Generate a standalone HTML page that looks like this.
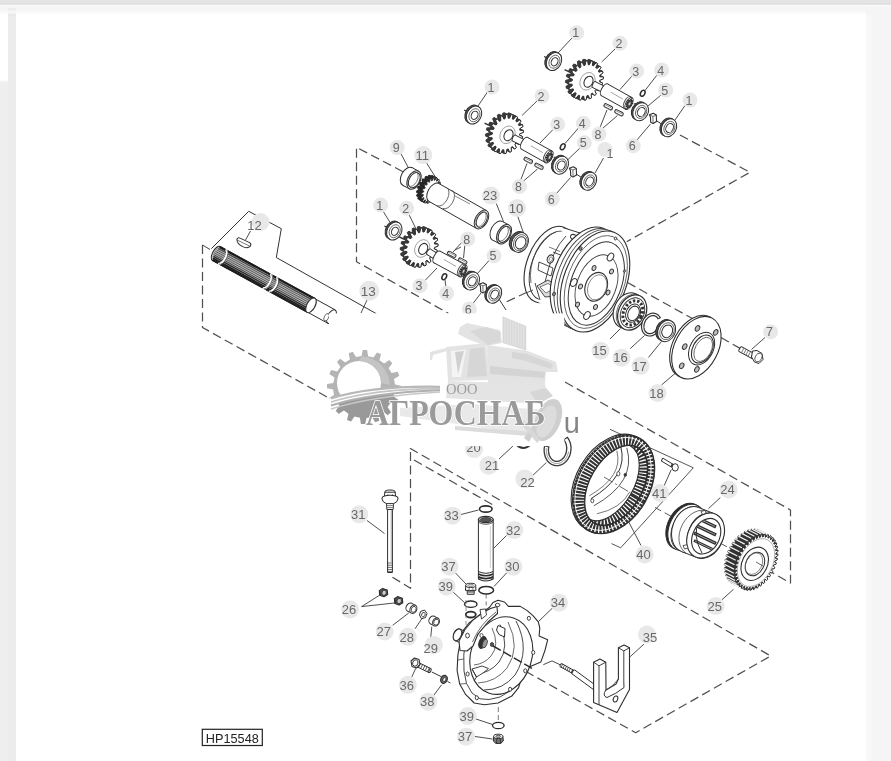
<!DOCTYPE html><html><head><meta charset="utf-8"><title>Diagram</title><style>html,body{margin:0;padding:0;background:#fff;overflow:hidden}svg{display:block;position:absolute;left:0;top:0}</style></head><body><svg width="891" height="761" viewBox="0 0 891 761"><rect x="0" y="0" width="891" height="761" fill="#fff"/>
<defs><linearGradient id="tg" x1="0" y1="0" x2="0" y2="1"><stop offset="0" stop-color="#f5f5f5"/><stop offset="0.6" stop-color="#f7f7f7"/><stop offset="1" stop-color="#ffffff"/></linearGradient></defs>
<rect x="866" y="5" width="25" height="756" fill="#f5f5f5"/>
<rect x="866" y="14" width="5.5" height="747" fill="#f8f8f8"/>
<rect x="0" y="82" width="8" height="679" fill="#eeeeee"/>
<rect x="0" y="80.5" width="8" height="1.5" fill="#f6f6f6"/>
<rect x="0" y="6" width="891" height="8.5" fill="url(#tg)"/>
<rect x="866" y="6" width="25" height="9" fill="#f5f5f5"/>
<rect x="8" y="8" width="8" height="753" fill="#ececec"/>
<rect x="8" y="10.5" width="8" height="3" fill="#f6f6f6"/>
<rect x="8" y="14" width="8" height="2" fill="#e8e8e8"/>
<rect x="0" y="4.6" width="891" height="1.5" fill="#fbfbfb"/>
<rect x="0" y="0" width="891" height="4.6" fill="#e4e4e4"/>
<rect x="0" y="3.4" width="891" height="1.2" fill="#dedede"/>
<defs><filter id="bl" x="0" y="0" width="891" height="761" filterUnits="userSpaceOnUse"><feGaussianBlur stdDeviation="0.45"/></filter></defs>
<g font-family="Liberation Sans, sans-serif" filter="url(#bl)">
<path d="M680 135 L750 172.3 L626.7 241.7" fill="none" stroke="#505050" stroke-width="1.25" stroke-linejoin="round" stroke-dasharray="9 4.5" />
<path d="M403 171.7 L356.5 147.3 L356.5 261.7 L448.3 313.3" fill="none" stroke="#505050" stroke-width="1.25" stroke-linejoin="round" stroke-dasharray="9 4.5" />
<path d="M506.7 301.7 L527 292.3" fill="none" stroke="#505050" stroke-width="1.25" stroke-linejoin="round" stroke-dasharray="9 4.5" />
<path d="M627.5 282.5 L694 319.5" fill="none" stroke="#505050" stroke-width="1.25" stroke-linejoin="round" stroke-dasharray="9 4.5" />
<path d="M721 337.5 L742 349.5" fill="none" stroke="#505050" stroke-width="1.25" stroke-linejoin="round" stroke-dasharray="9 4.5" />
<path d="M202.5 245 L202.5 327.5 L327 397" fill="none" stroke="#505050" stroke-width="1.25" stroke-linejoin="round" stroke-dasharray="9 4.5" />
<path d="M565 382 L790.5 510 L790.5 583 L771 572" fill="none" stroke="#505050" stroke-width="1.25" stroke-linejoin="round" stroke-dasharray="9 4.5" />
<path d="M410 448.3 L770.7 656 L635.7 732.7 L523.3 670" fill="none" stroke="#505050" stroke-width="1.25" stroke-linejoin="round" stroke-dasharray="9 4.5" />
<path d="M410.5 452 L410.5 588.3 L391.7 576.7" fill="none" stroke="#505050" stroke-width="1.25" stroke-linejoin="round" stroke-dasharray="9 4.5" />
<path d="M414 460 L494 505.5" fill="none" stroke="#505050" stroke-width="1.25" stroke-linejoin="round" stroke-dasharray="9 4.5" />
<line x1="544.1" y1="56.5" x2="549.5" y2="59.2" stroke="#2e2e2e" stroke-width="1.2" />
<line x1="564.6" y1="69.6" x2="571.7" y2="73.2" stroke="#2e2e2e" stroke-width="1.3" />
<ellipse rx="7.2" ry="9.5" transform="translate(552.5 60.7) rotate(27)" fill="#555" stroke="#2e2e2e" stroke-width="1" />
<ellipse rx="7.2" ry="9.5" transform="translate(554 61.5) rotate(27)" fill="#fff" stroke="#2e2e2e" stroke-width="1" />
<ellipse rx="5.2" ry="6.8" transform="translate(554.4 61.7) rotate(27)" fill="none" stroke="#555" stroke-width="0.8" />
<ellipse rx="3.2" ry="4.3" transform="translate(554.6 61.8) rotate(27)" fill="#fff" stroke="#2e2e2e" stroke-width="1" />
<path d="M594.6 84.9 L596.9 87.4 L595.8 89.2 L592.6 87.9 L591.7 89.1 L593.1 92.5 L591.6 93.9 L589.1 91.5 L587.9 92.3 L588.3 96.2 L586.5 97.1 L585 93.8 L583.7 94.2 L582.9 98.3 L581.1 98.6 L580.6 94.7 L579.3 94.6 L577.5 98.4 L575.8 98 L576.5 94 L575.3 93.5 L572.7 96.7 L571.2 95.7 L573 91.8 L572.1 90.9 L568.8 93.2 L567.8 91.6 L570.4 88.4 L569.9 87.2 L566.3 88.3 L565.8 86.4 L569 84 L568.9 82.6 L565.4 82.5 L565.5 80.4 L569 79.2 L569.3 77.7 L566.2 76.3 L566.9 74.2 L570.4 74.3 L571 72.9 L568.6 70.4 L569.8 68.5 L572.9 69.8 L573.9 68.7 L572.5 65.3 L574 63.8 L576.5 66.3 L577.7 65.4 L577.3 61.5 L579.1 60.6 L580.6 63.9 L581.9 63.5 L582.7 59.5 L584.5 59.2 L585 63.1 L586.2 63.1 L588 59.3 L589.8 59.7 L589.1 63.8 L590.2 64.3 L592.9 61.1 L594.4 62.1 L592.6 65.9 L593.5 66.8 L596.8 64.6 L597.8 66.1 L595.2 69.3 L595.7 70.6 L599.3 69.5 L599.8 71.4 L596.5 73.7 L596.7 75.1 L600.2 75.3 L600.1 77.4 L596.5 78.6 L596.3 80 L599.4 81.5 L598.7 83.5 L595.2 83.5 Z" fill="#3a3a3a" stroke="#3a3a3a" stroke-width="0.6" stroke-linejoin="round" />
<path d="M595 85.1 L597.4 87.6 L596.2 89.5 L593.1 88.1 L592.1 89.3 L593.6 92.7 L592 94.1 L589.6 91.7 L588.4 92.5 L588.7 96.4 L586.9 97.4 L585.4 94 L584.1 94.4 L583.4 98.5 L581.5 98.8 L581.1 94.9 L579.8 94.8 L578 98.7 L576.2 98.3 L576.9 94.2 L575.8 93.7 L573.1 96.9 L571.7 95.9 L573.4 92 L572.5 91.1 L569.2 93.4 L568.2 91.9 L570.8 88.6 L570.3 87.4 L566.7 88.5 L566.2 86.6 L569.5 84.3 L569.3 82.8 L565.8 82.7 L565.9 80.6 L569.5 79.4 L569.8 77.9 L566.7 76.5 L567.3 74.4 L570.8 74.5 L571.5 73.1 L569.1 70.6 L570.2 68.7 L573.4 70.1 L574.4 68.9 L572.9 65.5 L574.5 64 L576.9 66.5 L578.1 65.7 L577.7 61.7 L579.5 60.8 L581 64.2 L582.3 63.7 L583.1 59.7 L585 59.4 L585.4 63.3 L586.7 63.3 L588.5 59.5 L590.2 59.9 L589.5 64 L590.7 64.5 L593.4 61.3 L594.8 62.3 L593.1 66.1 L594 67 L597.2 64.8 L598.3 66.3 L595.6 69.6 L596.2 70.8 L599.7 69.7 L600.2 71.6 L597 73.9 L597.1 75.4 L600.6 75.5 L600.6 77.6 L597 78.8 L596.7 80.3 L599.8 81.7 L599.2 83.8 L595.6 83.7 Z" fill="#3a3a3a" stroke="#3a3a3a" stroke-width="0.6" stroke-linejoin="round" />
<path d="M595.4 85.3 L597.8 87.8 L596.7 89.7 L593.5 88.4 L592.6 89.5 L594 92.9 L592.5 94.4 L590 91.9 L588.8 92.8 L589.2 96.7 L587.4 97.6 L585.9 94.2 L584.6 94.7 L583.8 98.7 L582 99 L581.5 95.1 L580.2 95.1 L578.4 98.9 L576.7 98.5 L577.4 94.4 L576.2 93.9 L573.6 97.1 L572.1 96.1 L573.9 92.3 L573 91.4 L569.7 93.6 L568.7 92.1 L571.3 88.8 L570.7 87.6 L567.2 88.7 L566.7 86.8 L569.9 84.5 L569.8 83.1 L566.3 82.9 L566.4 80.8 L569.9 79.6 L570.2 78.1 L567.1 76.7 L567.8 74.7 L571.3 74.7 L571.9 73.3 L569.5 70.8 L570.7 69 L573.8 70.3 L574.8 69.1 L573.4 65.7 L574.9 64.3 L577.3 66.7 L578.5 65.9 L578.2 62 L580 61.1 L581.5 64.4 L582.8 64 L583.6 59.9 L585.4 59.6 L585.8 63.5 L587.1 63.6 L588.9 59.7 L590.7 60.1 L590 64.2 L591.1 64.7 L593.8 61.5 L595.3 62.5 L593.5 66.4 L594.4 67.3 L597.7 65 L598.7 66.5 L596.1 69.8 L596.6 71 L600.2 69.9 L600.7 71.8 L597.4 74.2 L597.6 75.6 L601.1 75.7 L601 77.8 L597.4 79 L597.2 80.5 L600.3 81.9 L599.6 84 L596.1 83.9 Z" fill="#3a3a3a" stroke="#3a3a3a" stroke-width="0.6" stroke-linejoin="round" />
<path d="M595.9 85.5 L598.3 88.1 L597.1 89.9 L594 88.6 L593 89.8 L594.5 93.1 L592.9 94.6 L590.5 92.1 L589.3 93 L589.6 96.9 L587.8 97.8 L586.3 94.5 L585 94.9 L584.3 99 L582.4 99.2 L582 95.3 L580.7 95.3 L578.9 99.1 L577.1 98.7 L577.8 94.7 L576.7 94.2 L574 97.4 L572.6 96.4 L574.3 92.5 L573.4 91.6 L570.1 93.9 L569.1 92.3 L571.7 89.1 L571.2 87.8 L567.6 89 L567.1 87.1 L570.4 84.7 L570.2 83.3 L566.7 83.1 L566.8 81 L570.4 79.9 L570.6 78.4 L567.5 77 L568.2 74.9 L571.7 75 L572.4 73.6 L570 71 L571.1 69.2 L574.3 70.5 L575.2 69.3 L573.8 65.9 L575.3 64.5 L577.8 67 L579 66.1 L578.6 62.2 L580.4 61.3 L581.9 64.6 L583.2 64.2 L584 60.1 L585.9 59.9 L586.3 63.8 L587.6 63.8 L589.4 60 L591.1 60.4 L590.4 64.4 L591.6 64.9 L594.3 61.7 L595.7 62.7 L594 66.6 L594.8 67.5 L598.1 65.2 L599.2 66.8 L596.5 70 L597.1 71.2 L600.6 70.1 L601.1 72 L597.9 74.4 L598 75.8 L601.5 76 L601.4 78.1 L597.9 79.2 L597.6 80.7 L600.7 82.1 L600.1 84.2 L596.5 84.1 Z" fill="#3a3a3a" stroke="#3a3a3a" stroke-width="0.6" stroke-linejoin="round" />
<path d="M596.3 85.8 L598.7 88.3 L597.6 90.1 L594.4 88.8 L593.5 90 L594.9 93.4 L593.4 94.8 L590.9 92.4 L589.7 93.2 L590.1 97.1 L588.3 98 L586.8 94.7 L585.5 95.1 L584.7 99.2 L582.8 99.5 L582.4 95.6 L581.1 95.5 L579.3 99.3 L577.6 99 L578.3 94.9 L577.1 94.4 L574.5 97.6 L573 96.6 L574.7 92.7 L573.9 91.8 L570.6 94.1 L569.6 92.6 L572.2 89.3 L571.6 88.1 L568.1 89.2 L567.6 87.3 L570.8 84.9 L570.7 83.5 L567.2 83.4 L567.3 81.3 L570.8 80.1 L571.1 78.6 L568 77.2 L568.6 75.1 L572.2 75.2 L572.8 73.8 L570.4 71.3 L571.6 69.4 L574.7 70.7 L575.7 69.6 L574.2 66.2 L575.8 64.7 L578.2 67.2 L579.4 66.3 L579.1 62.4 L580.9 61.5 L582.4 64.8 L583.7 64.4 L584.4 60.4 L586.3 60.1 L586.7 64 L588 64 L589.8 60.2 L591.6 60.6 L590.9 64.7 L592 65.2 L594.7 62 L596.1 63 L594.4 66.8 L595.3 67.7 L598.6 65.5 L599.6 67 L597 70.2 L597.5 71.5 L601.1 70.4 L601.6 72.3 L598.3 74.6 L598.5 76 L602 76.2 L601.9 78.3 L598.3 79.5 L598.1 81 L601.2 82.4 L600.5 84.4 L597 84.4 Z" fill="#3a3a3a" stroke="#3a3a3a" stroke-width="0.6" stroke-linejoin="round" />
<path d="M596.8 86 L599.2 88.5 L598 90.4 L594.9 89 L593.9 90.2 L595.4 93.6 L593.8 95 L591.4 92.6 L590.2 93.4 L590.5 97.4 L588.7 98.3 L587.2 94.9 L585.9 95.3 L585.1 99.4 L583.3 99.7 L582.9 95.8 L581.6 95.7 L579.8 99.6 L578 99.2 L578.7 95.1 L577.6 94.6 L574.9 97.8 L573.4 96.8 L575.2 93 L574.3 92 L571 94.3 L570 92.8 L572.6 89.5 L572.1 88.3 L568.5 89.4 L568 87.5 L571.3 85.2 L571.1 83.7 L567.6 83.6 L567.7 81.5 L571.3 80.3 L571.5 78.8 L568.4 77.4 L569.1 75.3 L572.6 75.4 L573.3 74 L570.9 71.5 L572 69.6 L575.2 71 L576.1 69.8 L574.7 66.4 L576.2 65 L578.7 67.4 L579.9 66.6 L579.5 62.6 L581.3 61.7 L582.8 65.1 L584.1 64.7 L584.9 60.6 L586.7 60.3 L587.2 64.2 L588.5 64.3 L590.3 60.4 L592 60.8 L591.3 64.9 L592.5 65.4 L595.1 62.2 L596.6 63.2 L594.9 67 L595.7 68 L599 65.7 L600 67.2 L597.4 70.5 L598 71.7 L601.5 70.6 L602 72.5 L598.8 74.8 L598.9 76.3 L602.4 76.4 L602.3 78.5 L598.8 79.7 L598.5 81.2 L601.6 82.6 L601 84.7 L597.4 84.6 Z" fill="#3a3a3a" stroke="#3a3a3a" stroke-width="0.6" stroke-linejoin="round" />
<path d="M597.2 86.2 L599.6 88.7 L598.5 90.6 L595.3 89.3 L594.4 90.4 L595.8 93.8 L594.2 95.3 L591.8 92.8 L590.6 93.7 L591 97.6 L589.2 98.5 L587.7 95.2 L586.4 95.6 L585.6 99.6 L583.7 99.9 L583.3 96 L582 96 L580.2 99.8 L578.5 99.4 L579.2 95.3 L578 94.8 L575.3 98 L573.9 97 L575.6 93.2 L574.7 92.3 L571.5 94.5 L570.4 93 L573.1 89.8 L572.5 88.5 L569 89.6 L568.5 87.7 L571.7 85.4 L571.6 84 L568.1 83.8 L568.2 81.7 L571.7 80.5 L572 79 L568.9 77.6 L569.5 75.6 L573.1 75.6 L573.7 74.2 L571.3 71.7 L572.5 69.9 L575.6 71.2 L576.6 70 L575.1 66.6 L576.7 65.2 L579.1 67.6 L580.3 66.8 L580 62.9 L581.8 62 L583.3 65.3 L584.6 64.9 L585.3 60.8 L587.2 60.5 L587.6 64.4 L588.9 64.5 L590.7 60.7 L592.5 61 L591.8 65.1 L592.9 65.6 L595.6 62.4 L597 63.4 L595.3 67.3 L596.2 68.2 L599.5 65.9 L600.5 67.4 L597.9 70.7 L598.4 71.9 L602 70.8 L602.5 72.7 L599.2 75.1 L599.4 76.5 L602.9 76.6 L602.8 78.7 L599.2 79.9 L599 81.4 L602.1 82.8 L601.4 84.9 L597.9 84.8 Z" fill="#3a3a3a" stroke="#3a3a3a" stroke-width="0.6" stroke-linejoin="round" />
<path d="M597.7 86.4 L600.1 89 L598.9 90.8 L595.8 89.5 L594.8 90.7 L596.2 94.1 L594.7 95.5 L592.2 93.1 L591 93.9 L591.4 97.8 L589.6 98.7 L588.1 95.4 L586.8 95.8 L586 99.9 L584.2 100.1 L583.7 96.2 L582.5 96.2 L580.7 100 L578.9 99.6 L579.6 95.6 L578.5 95.1 L575.8 98.3 L574.3 97.3 L576.1 93.4 L575.2 92.5 L571.9 94.8 L570.9 93.2 L573.5 90 L573 88.8 L569.4 89.9 L568.9 88 L572.2 85.6 L572 84.2 L568.5 84 L568.6 81.9 L572.2 80.8 L572.4 79.3 L569.3 77.9 L570 75.8 L573.5 75.9 L574.1 74.5 L571.8 71.9 L572.9 70.1 L576.1 71.4 L577 70.2 L575.6 66.9 L577.1 65.4 L579.6 67.9 L580.8 67 L580.4 63.1 L582.2 62.2 L583.7 65.5 L585 65.1 L585.8 61 L587.6 60.8 L588.1 64.7 L589.4 64.7 L591.2 60.9 L592.9 61.3 L592.2 65.3 L593.4 65.8 L596 62.6 L597.5 63.7 L595.7 67.5 L596.6 68.4 L599.9 66.1 L600.9 67.7 L598.3 70.9 L598.8 72.2 L602.4 71 L602.9 73 L599.7 75.3 L599.8 76.7 L603.3 76.9 L603.2 79 L599.7 80.2 L599.4 81.6 L602.5 83 L601.8 85.1 L598.3 85 Z" fill="#3a3a3a" stroke="#3a3a3a" stroke-width="0.6" stroke-linejoin="round" />
<path d="M597.8 86.5 L600.2 89 L599 90.9 L595.9 89.5 L594.9 90.7 L596.3 94.1 L594.8 95.5 L592.3 93.1 L591.1 93.9 L591.5 97.9 L589.7 98.8 L588.2 95.4 L586.9 95.8 L586.1 99.9 L584.3 100.2 L583.8 96.3 L582.6 96.2 L580.7 100.1 L579 99.7 L579.7 95.6 L578.6 95.1 L575.9 98.3 L574.4 97.3 L576.2 93.5 L575.3 92.5 L572 94.8 L571 93.3 L573.6 90 L573.1 88.8 L569.5 89.9 L569 88 L572.3 85.7 L572.1 84.2 L568.6 84.1 L568.7 82 L572.2 80.8 L572.5 79.3 L569.4 77.9 L570.1 75.8 L573.6 75.9 L574.2 74.5 L571.8 72 L573 70.1 L576.1 71.5 L577.1 70.3 L575.7 66.9 L577.2 65.5 L579.7 67.9 L580.9 67.1 L580.5 63.1 L582.3 62.2 L583.8 65.6 L585.1 65.2 L585.9 61.1 L587.7 60.8 L588.2 64.7 L589.4 64.8 L591.3 60.9 L593 61.3 L592.3 65.4 L593.4 65.9 L596.1 62.7 L597.6 63.7 L595.8 67.5 L596.7 68.5 L600 66.2 L601 67.7 L598.4 71 L598.9 72.2 L602.5 71.1 L603 73 L599.7 75.3 L599.9 76.8 L603.4 76.9 L603.3 79 L599.8 80.2 L599.5 81.7 L602.6 83.1 L601.9 85.2 L598.4 85.1 Z" fill="#fff" stroke="#2e2e2e" stroke-width="1" stroke-linejoin="round" />
<ellipse rx="7.2" ry="9.2" transform="translate(587.5 81.3) rotate(27)" fill="none" stroke="#777" stroke-width="0.6" />
<ellipse rx="4.2" ry="5.8" transform="translate(588.5 81.7) rotate(27)" fill="#fff" stroke="#2e2e2e" stroke-width="1" />
<ellipse rx="1.4" ry="3.2" transform="translate(594 84.6) rotate(26.4)" fill="#fff" stroke="#2e2e2e" stroke-width="1" />
<path d="M592.6 87.5 L603.1 92.7 L605.9 86.9 L595.4 81.7 Z" fill="#fff" stroke="none" stroke-width="1" stroke-linejoin="round" />
<line x1="592.6" y1="87.5" x2="603.1" y2="92.7" stroke="#2e2e2e" stroke-width="1" />
<line x1="595.4" y1="81.7" x2="605.9" y2="86.9" stroke="#2e2e2e" stroke-width="1" />
<ellipse rx="1.4" ry="3.2" transform="translate(604.5 89.8) rotate(26.4)" fill="#fff" stroke="#2e2e2e" stroke-width="1" />
<ellipse rx="3" ry="6.6" transform="translate(604.5 89.8) rotate(29.2)" fill="#fff" stroke="#2e2e2e" stroke-width="1" />
<path d="M601.3 95.6 L625.8 109.3 L632.2 97.7 L607.7 84 Z" fill="#fff" stroke="none" stroke-width="1" stroke-linejoin="round" />
<line x1="601.3" y1="95.6" x2="625.8" y2="109.3" stroke="#2e2e2e" stroke-width="1" />
<line x1="607.7" y1="84" x2="632.2" y2="97.7" stroke="#2e2e2e" stroke-width="1" />
<ellipse rx="3" ry="6.6" transform="translate(629 103.5) rotate(29.2)" fill="#fff" stroke="#2e2e2e" stroke-width="1" />
<ellipse rx="3.2" ry="6.6" transform="translate(627.5 102.7) rotate(27)" fill="none" stroke="#444" stroke-width="1" />
<ellipse rx="2.4" ry="4.6" transform="translate(629.3 103.7) rotate(27)" fill="#444" stroke="#222" stroke-width="1.4" stroke-dasharray="1.2 1"/>
<ellipse rx="1.1" ry="2.2" transform="translate(629.6 103.8) rotate(27)" fill="#ddd" stroke="#2e2e2e" stroke-width="0.5" />
<line x1="610.8" y1="92.2" x2="622.8" y2="99.1" stroke="#666" stroke-width="0.6" />
<rect x="-4.5" y="-1.7" width="9" height="3.4" rx="1.5" transform="translate(608.3 106.7) rotate(27)" fill="#fff" stroke="#2e2e2e" stroke-width="1"/>
<rect x="-4.5" y="-0.30000000000000004" width="9" height="2.4" rx="1.2" transform="translate(608.3 106.7) rotate(27)" fill="none" stroke="#666" stroke-width="0.6"/>
<rect x="-4.5" y="-1.7" width="9" height="3.4" rx="1.5" transform="translate(619 112.7) rotate(27)" fill="#fff" stroke="#2e2e2e" stroke-width="1"/>
<rect x="-4.5" y="-0.30000000000000004" width="9" height="2.4" rx="1.2" transform="translate(619 112.7) rotate(27)" fill="none" stroke="#666" stroke-width="0.6"/>
<ellipse rx="2.1" ry="3.2" transform="translate(642.7 93.3) rotate(27)" fill="#fff" stroke="#2e2e2e" stroke-width="1.5" />
<line x1="633.6" y1="103.8" x2="636.2" y2="103.7" stroke="#2e2e2e" stroke-width="0.9" />
<ellipse rx="7.4" ry="9.4" transform="translate(639.2 110.9) rotate(27)" fill="#555" stroke="#2e2e2e" stroke-width="1" />
<ellipse rx="7.4" ry="9.4" transform="translate(640.7 111.7) rotate(27)" fill="#fff" stroke="#2e2e2e" stroke-width="1" />
<ellipse rx="5.3" ry="6.8" transform="translate(641.1 111.9) rotate(27)" fill="none" stroke="#555" stroke-width="0.8" />
<ellipse rx="3.7" ry="4.7" transform="translate(641.3 112) rotate(27)" fill="#fff" stroke="#2e2e2e" stroke-width="1" />
<path d="M649.5 114.7 L653.2 113.3 L656.3 115.1 L656.5 121.5 L653.1 123.5 L650.7 122.3 L650.5 117.3 Z" fill="#fff" stroke="#2e2e2e" stroke-width="1.1" stroke-linejoin="round" />
<path d="M649.5 114.7 L652.9 116.5 L656.3 115.1 M652.9 116.5 L653.1 123.5" fill="none" stroke="#444" stroke-width="0.8" stroke-linejoin="round" />
<line x1="656.7" y1="120.8" x2="661" y2="123.7" stroke="#2e2e2e" stroke-width="1" />
<ellipse rx="7.2" ry="9.4" transform="translate(667.5 126.9) rotate(27)" fill="#555" stroke="#2e2e2e" stroke-width="1" />
<ellipse rx="7.2" ry="9.4" transform="translate(669 127.7) rotate(27)" fill="#fff" stroke="#2e2e2e" stroke-width="1" />
<ellipse rx="5.2" ry="6.8" transform="translate(669.4 127.9) rotate(27)" fill="none" stroke="#555" stroke-width="0.8" />
<ellipse rx="3.6" ry="4.7" transform="translate(669.6 128) rotate(27)" fill="#fff" stroke="#2e2e2e" stroke-width="1" />
<line x1="572" y1="38" x2="558" y2="53" stroke="#3a3a3a" stroke-width="0.9" />
<line x1="615.5" y1="48.5" x2="601.7" y2="62" stroke="#3a3a3a" stroke-width="0.9" />
<line x1="632" y1="76" x2="620" y2="89.5" stroke="#3a3a3a" stroke-width="0.9" />
<line x1="657" y1="75" x2="645" y2="90.5" stroke="#3a3a3a" stroke-width="0.9" />
<line x1="661" y1="95" x2="648" y2="106" stroke="#3a3a3a" stroke-width="0.9" />
<line x1="685" y1="105.5" x2="675" y2="120" stroke="#3a3a3a" stroke-width="0.9" />
<line x1="636.5" y1="140.5" x2="650.5" y2="124" stroke="#3a3a3a" stroke-width="0.9" />
<line x1="600" y1="127.5" x2="607" y2="110" stroke="#3a3a3a" stroke-width="0.9" />
<line x1="602.5" y1="128.5" x2="617.5" y2="115.5" stroke="#3a3a3a" stroke-width="0.9" />
<circle cx="576.7" cy="32.7" r="7.5" fill="#e8e8e8"/>
<text x="575.7" y="37.2" font-size="12.5" text-anchor="middle" fill="#686868">1</text>
<circle cx="620" cy="43.3" r="7.5" fill="#e8e8e8"/>
<text x="619" y="47.8" font-size="12.5" text-anchor="middle" fill="#686868">2</text>
<circle cx="636.7" cy="71" r="7.5" fill="#e8e8e8"/>
<text x="635.7" y="75.5" font-size="12.5" text-anchor="middle" fill="#686868">3</text>
<circle cx="661.7" cy="70" r="7.5" fill="#e8e8e8"/>
<text x="660.7" y="74.5" font-size="12.5" text-anchor="middle" fill="#686868">4</text>
<circle cx="665.7" cy="90" r="7.5" fill="#e8e8e8"/>
<text x="664.7" y="94.5" font-size="12.5" text-anchor="middle" fill="#686868">5</text>
<circle cx="690" cy="100" r="7.5" fill="#e8e8e8"/>
<text x="689" y="104.5" font-size="12.5" text-anchor="middle" fill="#686868">1</text>
<circle cx="633.3" cy="145.7" r="7.5" fill="#e8e8e8"/>
<text x="632.3" y="150.2" font-size="12.5" text-anchor="middle" fill="#686868">6</text>
<circle cx="599" cy="134" r="7.5" fill="#e8e8e8"/>
<text x="598" y="138.5" font-size="12.5" text-anchor="middle" fill="#686868">8</text>
<line x1="464.1" y1="110" x2="469.5" y2="112.7" stroke="#2e2e2e" stroke-width="1.2" />
<line x1="484.6" y1="123.1" x2="491.7" y2="126.7" stroke="#2e2e2e" stroke-width="1.3" />
<ellipse rx="7.2" ry="9.5" transform="translate(472.5 114.2) rotate(27)" fill="#555" stroke="#2e2e2e" stroke-width="1" />
<ellipse rx="7.2" ry="9.5" transform="translate(474 115) rotate(27)" fill="#fff" stroke="#2e2e2e" stroke-width="1" />
<ellipse rx="5.2" ry="6.8" transform="translate(474.4 115.2) rotate(27)" fill="none" stroke="#555" stroke-width="0.8" />
<ellipse rx="3.2" ry="4.3" transform="translate(474.6 115.3) rotate(27)" fill="#fff" stroke="#2e2e2e" stroke-width="1" />
<path d="M514.6 138.4 L516.9 140.9 L515.8 142.7 L512.6 141.4 L511.7 142.6 L513.1 146 L511.6 147.4 L509.1 145 L507.9 145.8 L508.3 149.7 L506.5 150.6 L505 147.3 L503.7 147.7 L502.9 151.8 L501.1 152.1 L500.6 148.2 L499.3 148.1 L497.5 151.9 L495.8 151.5 L496.5 147.5 L495.3 147 L492.7 150.2 L491.2 149.2 L493 145.3 L492.1 144.4 L488.8 146.7 L487.8 145.1 L490.4 141.9 L489.9 140.7 L486.3 141.8 L485.8 139.9 L489 137.5 L488.9 136.1 L485.4 136 L485.5 133.9 L489 132.7 L489.3 131.2 L486.2 129.8 L486.9 127.7 L490.4 127.8 L491 126.4 L488.6 123.9 L489.8 122 L492.9 123.3 L493.9 122.2 L492.5 118.8 L494 117.3 L496.5 119.8 L497.7 118.9 L497.3 115 L499.1 114.1 L500.6 117.4 L501.9 117 L502.7 113 L504.5 112.7 L505 116.6 L506.2 116.6 L508 112.8 L509.8 113.2 L509.1 117.3 L510.2 117.8 L512.9 114.6 L514.4 115.6 L512.6 119.4 L513.5 120.3 L516.8 118.1 L517.8 119.6 L515.2 122.8 L515.7 124.1 L519.3 123 L519.8 124.9 L516.5 127.2 L516.7 128.6 L520.2 128.8 L520.1 130.9 L516.5 132.1 L516.3 133.5 L519.4 135 L518.7 137 L515.2 137 Z" fill="#3a3a3a" stroke="#3a3a3a" stroke-width="0.6" stroke-linejoin="round" />
<path d="M515 138.6 L517.4 141.1 L516.2 143 L513.1 141.6 L512.1 142.8 L513.6 146.2 L512 147.6 L509.6 145.2 L508.4 146 L508.7 149.9 L506.9 150.9 L505.4 147.5 L504.1 147.9 L503.4 152 L501.5 152.3 L501.1 148.4 L499.8 148.3 L498 152.2 L496.2 151.8 L496.9 147.7 L495.8 147.2 L493.1 150.4 L491.7 149.4 L493.4 145.5 L492.5 144.6 L489.2 146.9 L488.2 145.4 L490.8 142.1 L490.3 140.9 L486.7 142 L486.2 140.1 L489.5 137.8 L489.3 136.3 L485.8 136.2 L485.9 134.1 L489.5 132.9 L489.8 131.4 L486.7 130 L487.3 127.9 L490.8 128 L491.5 126.6 L489.1 124.1 L490.2 122.2 L493.4 123.6 L494.4 122.4 L492.9 119 L494.5 117.5 L496.9 120 L498.1 119.2 L497.7 115.2 L499.5 114.3 L501 117.7 L502.3 117.2 L503.1 113.2 L505 112.9 L505.4 116.8 L506.7 116.8 L508.5 113 L510.2 113.4 L509.5 117.5 L510.7 118 L513.4 114.8 L514.8 115.8 L513.1 119.6 L514 120.5 L517.2 118.3 L518.3 119.8 L515.6 123.1 L516.2 124.3 L519.7 123.2 L520.2 125.1 L517 127.4 L517.1 128.9 L520.6 129 L520.6 131.1 L517 132.3 L516.7 133.8 L519.8 135.2 L519.2 137.3 L515.6 137.2 Z" fill="#3a3a3a" stroke="#3a3a3a" stroke-width="0.6" stroke-linejoin="round" />
<path d="M515.4 138.8 L517.8 141.3 L516.7 143.2 L513.5 141.9 L512.6 143 L514 146.4 L512.5 147.9 L510 145.4 L508.8 146.3 L509.2 150.2 L507.4 151.1 L505.9 147.7 L504.6 148.2 L503.8 152.2 L502 152.5 L501.5 148.6 L500.2 148.6 L498.4 152.4 L496.7 152 L497.4 147.9 L496.2 147.4 L493.6 150.6 L492.1 149.6 L493.9 145.8 L493 144.9 L489.7 147.1 L488.7 145.6 L491.3 142.3 L490.7 141.1 L487.2 142.2 L486.7 140.3 L489.9 138 L489.8 136.6 L486.3 136.4 L486.4 134.3 L489.9 133.1 L490.2 131.6 L487.1 130.2 L487.8 128.2 L491.3 128.2 L491.9 126.8 L489.5 124.3 L490.7 122.5 L493.8 123.8 L494.8 122.6 L493.4 119.2 L494.9 117.8 L497.3 120.2 L498.5 119.4 L498.2 115.5 L500 114.6 L501.5 117.9 L502.8 117.5 L503.6 113.4 L505.4 113.1 L505.8 117 L507.1 117.1 L508.9 113.2 L510.7 113.6 L510 117.7 L511.1 118.2 L513.8 115 L515.3 116 L513.5 119.9 L514.4 120.8 L517.7 118.5 L518.7 120 L516.1 123.3 L516.6 124.5 L520.2 123.4 L520.7 125.3 L517.4 127.7 L517.6 129.1 L521.1 129.2 L521 131.3 L517.4 132.5 L517.2 134 L520.3 135.4 L519.6 137.5 L516.1 137.4 Z" fill="#3a3a3a" stroke="#3a3a3a" stroke-width="0.6" stroke-linejoin="round" />
<path d="M515.9 139 L518.3 141.6 L517.1 143.4 L514 142.1 L513 143.3 L514.5 146.6 L512.9 148.1 L510.5 145.6 L509.3 146.5 L509.6 150.4 L507.8 151.3 L506.3 148 L505 148.4 L504.3 152.5 L502.4 152.7 L502 148.8 L500.7 148.8 L498.9 152.6 L497.1 152.2 L497.8 148.2 L496.7 147.7 L494 150.9 L492.6 149.9 L494.3 146 L493.4 145.1 L490.1 147.4 L489.1 145.8 L491.7 142.6 L491.2 141.3 L487.6 142.5 L487.1 140.6 L490.4 138.2 L490.2 136.8 L486.7 136.6 L486.8 134.5 L490.4 133.4 L490.6 131.9 L487.5 130.5 L488.2 128.4 L491.7 128.5 L492.4 127.1 L490 124.5 L491.1 122.7 L494.3 124 L495.2 122.8 L493.8 119.4 L495.3 118 L497.8 120.5 L499 119.6 L498.6 115.7 L500.4 114.8 L501.9 118.1 L503.2 117.7 L504 113.6 L505.9 113.4 L506.3 117.3 L507.6 117.3 L509.4 113.5 L511.1 113.9 L510.4 117.9 L511.6 118.4 L514.3 115.2 L515.7 116.2 L514 120.1 L514.8 121 L518.1 118.7 L519.2 120.3 L516.5 123.5 L517.1 124.7 L520.6 123.6 L521.1 125.5 L517.9 127.9 L518 129.3 L521.5 129.5 L521.4 131.6 L517.9 132.7 L517.6 134.2 L520.7 135.6 L520.1 137.7 L516.5 137.6 Z" fill="#3a3a3a" stroke="#3a3a3a" stroke-width="0.6" stroke-linejoin="round" />
<path d="M516.3 139.3 L518.7 141.8 L517.6 143.6 L514.4 142.3 L513.5 143.5 L514.9 146.9 L513.4 148.3 L510.9 145.9 L509.7 146.7 L510.1 150.6 L508.3 151.5 L506.8 148.2 L505.5 148.6 L504.7 152.7 L502.8 153 L502.4 149.1 L501.1 149 L499.3 152.8 L497.6 152.5 L498.3 148.4 L497.1 147.9 L494.5 151.1 L493 150.1 L494.7 146.2 L493.9 145.3 L490.6 147.6 L489.6 146.1 L492.2 142.8 L491.6 141.6 L488.1 142.7 L487.6 140.8 L490.8 138.4 L490.7 137 L487.2 136.9 L487.3 134.8 L490.8 133.6 L491.1 132.1 L488 130.7 L488.6 128.6 L492.2 128.7 L492.8 127.3 L490.4 124.8 L491.6 122.9 L494.7 124.2 L495.7 123.1 L494.2 119.7 L495.8 118.2 L498.2 120.7 L499.4 119.8 L499.1 115.9 L500.9 115 L502.4 118.3 L503.7 117.9 L504.4 113.9 L506.3 113.6 L506.7 117.5 L508 117.5 L509.8 113.7 L511.6 114.1 L510.9 118.2 L512 118.7 L514.7 115.5 L516.1 116.5 L514.4 120.3 L515.3 121.2 L518.6 119 L519.6 120.5 L517 123.7 L517.5 125 L521.1 123.9 L521.6 125.8 L518.3 128.1 L518.5 129.5 L522 129.7 L521.9 131.8 L518.3 133 L518.1 134.5 L521.2 135.9 L520.5 137.9 L517 137.9 Z" fill="#3a3a3a" stroke="#3a3a3a" stroke-width="0.6" stroke-linejoin="round" />
<path d="M516.8 139.5 L519.2 142 L518 143.9 L514.9 142.5 L513.9 143.7 L515.4 147.1 L513.8 148.5 L511.4 146.1 L510.2 146.9 L510.5 150.9 L508.7 151.8 L507.2 148.4 L505.9 148.8 L505.1 152.9 L503.3 153.2 L502.9 149.3 L501.6 149.2 L499.8 153.1 L498 152.7 L498.7 148.6 L497.6 148.1 L494.9 151.3 L493.4 150.3 L495.2 146.5 L494.3 145.5 L491 147.8 L490 146.3 L492.6 143 L492.1 141.8 L488.5 142.9 L488 141 L491.3 138.7 L491.1 137.2 L487.6 137.1 L487.7 135 L491.3 133.8 L491.5 132.3 L488.4 130.9 L489.1 128.8 L492.6 128.9 L493.3 127.5 L490.9 125 L492 123.1 L495.2 124.5 L496.1 123.3 L494.7 119.9 L496.2 118.5 L498.7 120.9 L499.9 120.1 L499.5 116.1 L501.3 115.2 L502.8 118.6 L504.1 118.2 L504.9 114.1 L506.7 113.8 L507.2 117.7 L508.5 117.8 L510.3 113.9 L512 114.3 L511.3 118.4 L512.5 118.9 L515.1 115.7 L516.6 116.7 L514.9 120.5 L515.7 121.5 L519 119.2 L520 120.7 L517.4 124 L518 125.2 L521.5 124.1 L522 126 L518.8 128.3 L518.9 129.8 L522.4 129.9 L522.3 132 L518.8 133.2 L518.5 134.7 L521.6 136.1 L521 138.2 L517.4 138.1 Z" fill="#3a3a3a" stroke="#3a3a3a" stroke-width="0.6" stroke-linejoin="round" />
<path d="M517.2 139.7 L519.6 142.2 L518.5 144.1 L515.3 142.8 L514.4 143.9 L515.8 147.3 L514.2 148.8 L511.8 146.3 L510.6 147.2 L511 151.1 L509.2 152 L507.7 148.7 L506.4 149.1 L505.6 153.1 L503.7 153.4 L503.3 149.5 L502 149.5 L500.2 153.3 L498.5 152.9 L499.2 148.8 L498 148.3 L495.3 151.5 L493.9 150.5 L495.6 146.7 L494.7 145.8 L491.5 148 L490.4 146.5 L493.1 143.3 L492.5 142 L489 143.1 L488.5 141.2 L491.7 138.9 L491.6 137.5 L488.1 137.3 L488.2 135.2 L491.7 134 L492 132.5 L488.9 131.1 L489.5 129.1 L493.1 129.1 L493.7 127.7 L491.3 125.2 L492.5 123.4 L495.6 124.7 L496.6 123.5 L495.1 120.1 L496.7 118.7 L499.1 121.1 L500.3 120.3 L500 116.4 L501.8 115.5 L503.3 118.8 L504.6 118.4 L505.3 114.3 L507.2 114 L507.6 117.9 L508.9 118 L510.7 114.2 L512.5 114.5 L511.8 118.6 L512.9 119.1 L515.6 115.9 L517 116.9 L515.3 120.8 L516.2 121.7 L519.5 119.4 L520.5 120.9 L517.9 124.2 L518.4 125.4 L522 124.3 L522.5 126.2 L519.2 128.6 L519.4 130 L522.9 130.1 L522.8 132.2 L519.2 133.4 L519 134.9 L522.1 136.3 L521.4 138.4 L517.9 138.3 Z" fill="#3a3a3a" stroke="#3a3a3a" stroke-width="0.6" stroke-linejoin="round" />
<path d="M517.7 139.9 L520.1 142.5 L518.9 144.3 L515.8 143 L514.8 144.2 L516.2 147.6 L514.7 149 L512.2 146.6 L511 147.4 L511.4 151.3 L509.6 152.2 L508.1 148.9 L506.8 149.3 L506 153.4 L504.2 153.6 L503.7 149.7 L502.5 149.7 L500.7 153.5 L498.9 153.1 L499.6 149.1 L498.5 148.6 L495.8 151.8 L494.3 150.8 L496.1 146.9 L495.2 146 L491.9 148.3 L490.9 146.7 L493.5 143.5 L493 142.3 L489.4 143.4 L488.9 141.5 L492.2 139.1 L492 137.7 L488.5 137.5 L488.6 135.4 L492.2 134.3 L492.4 132.8 L489.3 131.4 L490 129.3 L493.5 129.4 L494.1 128 L491.8 125.4 L492.9 123.6 L496.1 124.9 L497 123.7 L495.6 120.4 L497.1 118.9 L499.6 121.4 L500.8 120.5 L500.4 116.6 L502.2 115.7 L503.7 119 L505 118.6 L505.8 114.5 L507.6 114.3 L508.1 118.2 L509.4 118.2 L511.2 114.4 L512.9 114.8 L512.2 118.8 L513.4 119.3 L516 116.1 L517.5 117.2 L515.7 121 L516.6 121.9 L519.9 119.6 L520.9 121.2 L518.3 124.4 L518.8 125.7 L522.4 124.5 L522.9 126.5 L519.7 128.8 L519.8 130.2 L523.3 130.4 L523.2 132.5 L519.7 133.7 L519.4 135.1 L522.5 136.5 L521.8 138.6 L518.3 138.5 Z" fill="#3a3a3a" stroke="#3a3a3a" stroke-width="0.6" stroke-linejoin="round" />
<path d="M517.8 140 L520.2 142.5 L519 144.4 L515.9 143 L514.9 144.2 L516.3 147.6 L514.8 149 L512.3 146.6 L511.1 147.4 L511.5 151.4 L509.7 152.3 L508.2 148.9 L506.9 149.3 L506.1 153.4 L504.3 153.7 L503.8 149.8 L502.6 149.7 L500.7 153.6 L499 153.2 L499.7 149.1 L498.6 148.6 L495.9 151.8 L494.4 150.8 L496.2 147 L495.3 146 L492 148.3 L491 146.8 L493.6 143.5 L493.1 142.3 L489.5 143.4 L489 141.5 L492.3 139.2 L492.1 137.7 L488.6 137.6 L488.7 135.5 L492.2 134.3 L492.5 132.8 L489.4 131.4 L490.1 129.3 L493.6 129.4 L494.2 128 L491.8 125.5 L493 123.6 L496.1 125 L497.1 123.8 L495.7 120.4 L497.2 119 L499.7 121.4 L500.9 120.6 L500.5 116.6 L502.3 115.7 L503.8 119.1 L505.1 118.7 L505.9 114.6 L507.7 114.3 L508.2 118.2 L509.4 118.3 L511.3 114.4 L513 114.8 L512.3 118.9 L513.4 119.4 L516.1 116.2 L517.6 117.2 L515.8 121 L516.7 122 L520 119.7 L521 121.2 L518.4 124.5 L518.9 125.7 L522.5 124.6 L523 126.5 L519.7 128.8 L519.9 130.3 L523.4 130.4 L523.3 132.5 L519.8 133.7 L519.5 135.2 L522.6 136.6 L521.9 138.7 L518.4 138.6 Z" fill="#fff" stroke="#2e2e2e" stroke-width="1" stroke-linejoin="round" />
<ellipse rx="7.2" ry="9.2" transform="translate(507.5 134.8) rotate(27)" fill="none" stroke="#777" stroke-width="0.6" />
<ellipse rx="4.2" ry="5.8" transform="translate(508.5 135.2) rotate(27)" fill="#fff" stroke="#2e2e2e" stroke-width="1" />
<ellipse rx="1.4" ry="3.2" transform="translate(514 138.1) rotate(26.4)" fill="#fff" stroke="#2e2e2e" stroke-width="1" />
<path d="M512.6 141 L523.1 146.2 L525.9 140.4 L515.4 135.2 Z" fill="#fff" stroke="none" stroke-width="1" stroke-linejoin="round" />
<line x1="512.6" y1="141" x2="523.1" y2="146.2" stroke="#2e2e2e" stroke-width="1" />
<line x1="515.4" y1="135.2" x2="525.9" y2="140.4" stroke="#2e2e2e" stroke-width="1" />
<ellipse rx="1.4" ry="3.2" transform="translate(524.5 143.3) rotate(26.4)" fill="#fff" stroke="#2e2e2e" stroke-width="1" />
<ellipse rx="3" ry="6.6" transform="translate(524.5 143.3) rotate(29.2)" fill="#fff" stroke="#2e2e2e" stroke-width="1" />
<path d="M521.3 149.1 L545.8 162.8 L552.2 151.2 L527.7 137.5 Z" fill="#fff" stroke="none" stroke-width="1" stroke-linejoin="round" />
<line x1="521.3" y1="149.1" x2="545.8" y2="162.8" stroke="#2e2e2e" stroke-width="1" />
<line x1="527.7" y1="137.5" x2="552.2" y2="151.2" stroke="#2e2e2e" stroke-width="1" />
<ellipse rx="3" ry="6.6" transform="translate(549 157) rotate(29.2)" fill="#fff" stroke="#2e2e2e" stroke-width="1" />
<ellipse rx="3.2" ry="6.6" transform="translate(547.5 156.2) rotate(27)" fill="none" stroke="#444" stroke-width="1" />
<ellipse rx="2.4" ry="4.6" transform="translate(549.3 157.2) rotate(27)" fill="#444" stroke="#222" stroke-width="1.4" stroke-dasharray="1.2 1"/>
<ellipse rx="1.1" ry="2.2" transform="translate(549.6 157.3) rotate(27)" fill="#ddd" stroke="#2e2e2e" stroke-width="0.5" />
<line x1="530.8" y1="145.7" x2="542.8" y2="152.6" stroke="#666" stroke-width="0.6" />
<rect x="-4.5" y="-1.7" width="9" height="3.4" rx="1.5" transform="translate(528.3 160.2) rotate(27)" fill="#fff" stroke="#2e2e2e" stroke-width="1"/>
<rect x="-4.5" y="-0.30000000000000004" width="9" height="2.4" rx="1.2" transform="translate(528.3 160.2) rotate(27)" fill="none" stroke="#666" stroke-width="0.6"/>
<rect x="-4.5" y="-1.7" width="9" height="3.4" rx="1.5" transform="translate(539 166.2) rotate(27)" fill="#fff" stroke="#2e2e2e" stroke-width="1"/>
<rect x="-4.5" y="-0.30000000000000004" width="9" height="2.4" rx="1.2" transform="translate(539 166.2) rotate(27)" fill="none" stroke="#666" stroke-width="0.6"/>
<ellipse rx="2.1" ry="3.2" transform="translate(562.7 146.8) rotate(27)" fill="#fff" stroke="#2e2e2e" stroke-width="1.5" />
<line x1="553.6" y1="157.3" x2="556.2" y2="157.2" stroke="#2e2e2e" stroke-width="0.9" />
<ellipse rx="7.4" ry="9.4" transform="translate(559.2 164.4) rotate(27)" fill="#555" stroke="#2e2e2e" stroke-width="1" />
<ellipse rx="7.4" ry="9.4" transform="translate(560.7 165.2) rotate(27)" fill="#fff" stroke="#2e2e2e" stroke-width="1" />
<ellipse rx="5.3" ry="6.8" transform="translate(561.1 165.4) rotate(27)" fill="none" stroke="#555" stroke-width="0.8" />
<ellipse rx="3.7" ry="4.7" transform="translate(561.3 165.5) rotate(27)" fill="#fff" stroke="#2e2e2e" stroke-width="1" />
<path d="M569.5 168.2 L573.2 166.8 L576.3 168.6 L576.5 175 L573.1 177 L570.7 175.8 L570.5 170.8 Z" fill="#fff" stroke="#2e2e2e" stroke-width="1.1" stroke-linejoin="round" />
<path d="M569.5 168.2 L572.9 170 L576.3 168.6 M572.9 170 L573.1 177" fill="none" stroke="#444" stroke-width="0.8" stroke-linejoin="round" />
<line x1="576.7" y1="174.3" x2="581" y2="177.2" stroke="#2e2e2e" stroke-width="1" />
<ellipse rx="7.2" ry="9.4" transform="translate(587.5 180.4) rotate(27)" fill="#555" stroke="#2e2e2e" stroke-width="1" />
<ellipse rx="7.2" ry="9.4" transform="translate(589 181.2) rotate(27)" fill="#fff" stroke="#2e2e2e" stroke-width="1" />
<ellipse rx="5.2" ry="6.8" transform="translate(589.4 181.4) rotate(27)" fill="none" stroke="#555" stroke-width="0.8" />
<ellipse rx="3.6" ry="4.7" transform="translate(589.6 181.5) rotate(27)" fill="#fff" stroke="#2e2e2e" stroke-width="1" />
<line x1="487.5" y1="92" x2="478" y2="106" stroke="#3a3a3a" stroke-width="0.9" />
<line x1="537" y1="101" x2="522" y2="115.5" stroke="#3a3a3a" stroke-width="0.9" />
<line x1="553" y1="129.5" x2="540" y2="143" stroke="#3a3a3a" stroke-width="0.9" />
<line x1="578.5" y1="128" x2="565" y2="143.5" stroke="#3a3a3a" stroke-width="0.9" />
<line x1="580" y1="148" x2="568" y2="159.5" stroke="#3a3a3a" stroke-width="0.9" />
<line x1="603.5" y1="158" x2="595" y2="173" stroke="#3a3a3a" stroke-width="0.9" />
<line x1="556" y1="194" x2="570.5" y2="177.5" stroke="#3a3a3a" stroke-width="0.9" />
<line x1="520.5" y1="180.5" x2="527" y2="163.5" stroke="#3a3a3a" stroke-width="0.9" />
<line x1="523" y1="181.5" x2="537.5" y2="169" stroke="#3a3a3a" stroke-width="0.9" />
<circle cx="492" cy="87" r="7.5" fill="#e8e8e8"/>
<text x="491" y="91.5" font-size="12.5" text-anchor="middle" fill="#686868">1</text>
<circle cx="542" cy="96" r="7.5" fill="#e8e8e8"/>
<text x="541" y="100.5" font-size="12.5" text-anchor="middle" fill="#686868">2</text>
<circle cx="557.7" cy="124.3" r="7.5" fill="#e8e8e8"/>
<text x="556.7" y="128.8" font-size="12.5" text-anchor="middle" fill="#686868">3</text>
<circle cx="583.3" cy="123.3" r="7.5" fill="#e8e8e8"/>
<text x="582.3" y="127.8" font-size="12.5" text-anchor="middle" fill="#686868">4</text>
<circle cx="584.3" cy="142.7" r="7.5" fill="#e8e8e8"/>
<text x="583.3" y="147.2" font-size="12.5" text-anchor="middle" fill="#686868">5</text>
<circle cx="552.3" cy="199" r="7.5" fill="#e8e8e8"/>
<text x="551.3" y="203.5" font-size="12.5" text-anchor="middle" fill="#686868">6</text>
<circle cx="519.5" cy="186.5" r="7.5" fill="#e8e8e8"/>
<text x="518.5" y="191" font-size="12.5" text-anchor="middle" fill="#686868">8</text>
<circle cx="605" cy="149.5" r="7.5" fill="#e8e8e8"/>
<text x="610" y="157.5" font-size="12.5" text-anchor="middle" fill="#686868">1</text>
<line x1="384.4" y1="226" x2="389.8" y2="228.7" stroke="#2e2e2e" stroke-width="1.2" />
<line x1="399.3" y1="236.8" x2="406.4" y2="240.4" stroke="#2e2e2e" stroke-width="1.3" />
<ellipse rx="7.2" ry="9.5" transform="translate(392.8 230.2) rotate(27)" fill="#555" stroke="#2e2e2e" stroke-width="1" />
<ellipse rx="7.2" ry="9.5" transform="translate(394.3 231) rotate(27)" fill="#fff" stroke="#2e2e2e" stroke-width="1" />
<ellipse rx="5.2" ry="6.8" transform="translate(394.7 231.2) rotate(27)" fill="none" stroke="#555" stroke-width="0.8" />
<ellipse rx="3.2" ry="4.3" transform="translate(394.9 231.3) rotate(27)" fill="#fff" stroke="#2e2e2e" stroke-width="1" />
<path d="M429.3 252.1 L431.6 254.6 L430.5 256.4 L427.3 255.1 L426.4 256.3 L427.8 259.7 L426.3 261.1 L423.8 258.7 L422.6 259.5 L423 263.4 L421.2 264.3 L419.7 261 L418.4 261.4 L417.6 265.5 L415.8 265.8 L415.3 261.9 L414 261.8 L412.2 265.6 L410.5 265.2 L411.2 261.2 L410 260.7 L407.4 263.9 L405.9 262.9 L407.7 259 L406.8 258.1 L403.5 260.4 L402.5 258.8 L405.1 255.6 L404.6 254.4 L401 255.5 L400.5 253.6 L403.7 251.2 L403.6 249.8 L400.1 249.7 L400.2 247.6 L403.7 246.4 L404 244.9 L400.9 243.5 L401.6 241.4 L405.1 241.5 L405.7 240.1 L403.3 237.6 L404.5 235.7 L407.6 237 L408.6 235.9 L407.2 232.5 L408.7 231 L411.2 233.5 L412.4 232.6 L412 228.7 L413.8 227.8 L415.3 231.1 L416.6 230.7 L417.4 226.7 L419.2 226.4 L419.7 230.3 L420.9 230.3 L422.7 226.5 L424.5 226.9 L423.8 231 L424.9 231.5 L427.6 228.3 L429.1 229.3 L427.3 233.1 L428.2 234 L431.5 231.8 L432.5 233.3 L429.9 236.5 L430.4 237.8 L434 236.7 L434.5 238.6 L431.2 240.9 L431.4 242.3 L434.9 242.5 L434.8 244.6 L431.2 245.8 L431 247.2 L434.1 248.7 L433.4 250.7 L429.9 250.7 Z" fill="#3a3a3a" stroke="#3a3a3a" stroke-width="0.6" stroke-linejoin="round" />
<path d="M429.7 252.3 L432.1 254.8 L430.9 256.7 L427.8 255.3 L426.8 256.5 L428.3 259.9 L426.7 261.3 L424.3 258.9 L423.1 259.7 L423.4 263.6 L421.6 264.6 L420.1 261.2 L418.8 261.6 L418.1 265.7 L416.2 266 L415.8 262.1 L414.5 262 L412.7 265.9 L410.9 265.5 L411.6 261.4 L410.5 260.9 L407.8 264.1 L406.4 263.1 L408.1 259.2 L407.2 258.3 L403.9 260.6 L402.9 259.1 L405.5 255.8 L405 254.6 L401.4 255.7 L400.9 253.8 L404.2 251.5 L404 250 L400.5 249.9 L400.6 247.8 L404.2 246.6 L404.5 245.1 L401.4 243.7 L402 241.6 L405.5 241.7 L406.2 240.3 L403.8 237.8 L404.9 235.9 L408.1 237.3 L409.1 236.1 L407.6 232.7 L409.2 231.2 L411.6 233.7 L412.8 232.9 L412.4 228.9 L414.2 228 L415.7 231.4 L417 230.9 L417.8 226.9 L419.7 226.6 L420.1 230.5 L421.4 230.5 L423.2 226.7 L424.9 227.1 L424.2 231.2 L425.4 231.7 L428.1 228.5 L429.5 229.5 L427.8 233.3 L428.7 234.2 L431.9 232 L433 233.5 L430.3 236.8 L430.9 238 L434.4 236.9 L434.9 238.8 L431.7 241.1 L431.8 242.6 L435.3 242.7 L435.3 244.8 L431.7 246 L431.4 247.5 L434.5 248.9 L433.9 251 L430.3 250.9 Z" fill="#3a3a3a" stroke="#3a3a3a" stroke-width="0.6" stroke-linejoin="round" />
<path d="M430.1 252.5 L432.5 255 L431.4 256.9 L428.2 255.6 L427.3 256.7 L428.7 260.1 L427.2 261.6 L424.7 259.1 L423.5 260 L423.9 263.9 L422.1 264.8 L420.6 261.4 L419.3 261.9 L418.5 265.9 L416.7 266.2 L416.2 262.3 L414.9 262.3 L413.1 266.1 L411.4 265.7 L412.1 261.6 L410.9 261.1 L408.3 264.3 L406.8 263.3 L408.6 259.5 L407.7 258.6 L404.4 260.8 L403.4 259.3 L406 256 L405.4 254.8 L401.9 255.9 L401.4 254 L404.6 251.7 L404.5 250.3 L401 250.1 L401.1 248 L404.6 246.8 L404.9 245.3 L401.8 243.9 L402.5 241.9 L406 241.9 L406.6 240.5 L404.2 238 L405.4 236.2 L408.5 237.5 L409.5 236.3 L408.1 232.9 L409.6 231.5 L412 233.9 L413.2 233.1 L412.9 229.2 L414.7 228.3 L416.2 231.6 L417.5 231.2 L418.3 227.1 L420.1 226.8 L420.5 230.7 L421.8 230.8 L423.6 226.9 L425.4 227.3 L424.7 231.4 L425.8 231.9 L428.5 228.7 L430 229.7 L428.2 233.6 L429.1 234.5 L432.4 232.2 L433.4 233.7 L430.8 237 L431.3 238.2 L434.9 237.1 L435.4 239 L432.1 241.4 L432.3 242.8 L435.8 242.9 L435.7 245 L432.1 246.2 L431.9 247.7 L435 249.1 L434.3 251.2 L430.8 251.1 Z" fill="#3a3a3a" stroke="#3a3a3a" stroke-width="0.6" stroke-linejoin="round" />
<path d="M430.6 252.7 L433 255.3 L431.8 257.1 L428.7 255.8 L427.7 257 L429.2 260.3 L427.6 261.8 L425.2 259.3 L424 260.2 L424.3 264.1 L422.5 265 L421 261.7 L419.7 262.1 L419 266.2 L417.1 266.4 L416.7 262.5 L415.4 262.5 L413.6 266.3 L411.8 265.9 L412.5 261.9 L411.4 261.4 L408.7 264.6 L407.3 263.6 L409 259.7 L408.1 258.8 L404.8 261.1 L403.8 259.5 L406.4 256.3 L405.9 255 L402.3 256.2 L401.8 254.3 L405.1 251.9 L404.9 250.5 L401.4 250.3 L401.5 248.2 L405.1 247.1 L405.3 245.6 L402.2 244.2 L402.9 242.1 L406.4 242.2 L407.1 240.8 L404.7 238.2 L405.8 236.4 L409 237.7 L409.9 236.5 L408.5 233.1 L410 231.7 L412.5 234.2 L413.7 233.3 L413.3 229.4 L415.1 228.5 L416.6 231.8 L417.9 231.4 L418.7 227.3 L420.6 227.1 L421 231 L422.3 231 L424.1 227.2 L425.8 227.6 L425.1 231.6 L426.3 232.1 L429 228.9 L430.4 229.9 L428.7 233.8 L429.5 234.7 L432.8 232.4 L433.9 234 L431.2 237.2 L431.8 238.4 L435.3 237.3 L435.8 239.2 L432.6 241.6 L432.7 243 L436.2 243.2 L436.1 245.3 L432.6 246.4 L432.3 247.9 L435.4 249.3 L434.8 251.4 L431.2 251.3 Z" fill="#3a3a3a" stroke="#3a3a3a" stroke-width="0.6" stroke-linejoin="round" />
<path d="M431 253 L433.4 255.5 L432.3 257.3 L429.1 256 L428.2 257.2 L429.6 260.6 L428.1 262 L425.6 259.6 L424.4 260.4 L424.8 264.3 L423 265.2 L421.5 261.9 L420.2 262.3 L419.4 266.4 L417.5 266.7 L417.1 262.8 L415.8 262.7 L414 266.5 L412.3 266.2 L413 262.1 L411.8 261.6 L409.2 264.8 L407.7 263.8 L409.4 259.9 L408.6 259 L405.3 261.3 L404.3 259.8 L406.9 256.5 L406.3 255.3 L402.8 256.4 L402.3 254.5 L405.5 252.1 L405.4 250.7 L401.9 250.6 L402 248.5 L405.5 247.3 L405.8 245.8 L402.7 244.4 L403.3 242.3 L406.9 242.4 L407.5 241 L405.1 238.5 L406.3 236.6 L409.4 237.9 L410.4 236.8 L408.9 233.4 L410.5 231.9 L412.9 234.4 L414.1 233.5 L413.8 229.6 L415.6 228.7 L417.1 232 L418.4 231.6 L419.1 227.6 L421 227.3 L421.4 231.2 L422.7 231.2 L424.5 227.4 L426.3 227.8 L425.6 231.9 L426.7 232.4 L429.4 229.2 L430.8 230.2 L429.1 234 L430 234.9 L433.3 232.7 L434.3 234.2 L431.7 237.4 L432.2 238.7 L435.8 237.6 L436.3 239.5 L433 241.8 L433.2 243.2 L436.7 243.4 L436.6 245.5 L433 246.7 L432.8 248.2 L435.9 249.6 L435.2 251.6 L431.7 251.6 Z" fill="#3a3a3a" stroke="#3a3a3a" stroke-width="0.6" stroke-linejoin="round" />
<path d="M431.5 253.2 L433.9 255.7 L432.7 257.6 L429.6 256.2 L428.6 257.4 L430.1 260.8 L428.5 262.2 L426.1 259.8 L424.9 260.6 L425.2 264.6 L423.4 265.5 L421.9 262.1 L420.6 262.5 L419.8 266.6 L418 266.9 L417.6 263 L416.3 262.9 L414.5 266.8 L412.7 266.4 L413.4 262.3 L412.3 261.8 L409.6 265 L408.1 264 L409.9 260.2 L409 259.2 L405.7 261.5 L404.7 260 L407.3 256.7 L406.8 255.5 L403.2 256.6 L402.7 254.7 L406 252.4 L405.8 250.9 L402.3 250.8 L402.4 248.7 L406 247.5 L406.2 246 L403.1 244.6 L403.8 242.5 L407.3 242.6 L408 241.2 L405.6 238.7 L406.7 236.8 L409.9 238.2 L410.8 237 L409.4 233.6 L410.9 232.2 L413.4 234.6 L414.6 233.8 L414.2 229.8 L416 228.9 L417.5 232.3 L418.8 231.9 L419.6 227.8 L421.4 227.5 L421.9 231.4 L423.2 231.5 L425 227.6 L426.7 228 L426 232.1 L427.2 232.6 L429.8 229.4 L431.3 230.4 L429.6 234.2 L430.4 235.2 L433.7 232.9 L434.7 234.4 L432.1 237.7 L432.7 238.9 L436.2 237.8 L436.7 239.7 L433.5 242 L433.6 243.5 L437.1 243.6 L437 245.7 L433.5 246.9 L433.2 248.4 L436.3 249.8 L435.7 251.9 L432.1 251.8 Z" fill="#3a3a3a" stroke="#3a3a3a" stroke-width="0.6" stroke-linejoin="round" />
<path d="M431.9 253.4 L434.3 255.9 L433.2 257.8 L430 256.5 L429.1 257.6 L430.5 261 L428.9 262.5 L426.5 260 L425.3 260.9 L425.7 264.8 L423.9 265.7 L422.4 262.4 L421.1 262.8 L420.3 266.8 L418.4 267.1 L418 263.2 L416.7 263.2 L414.9 267 L413.2 266.6 L413.9 262.5 L412.7 262 L410 265.2 L408.6 264.2 L410.3 260.4 L409.4 259.5 L406.2 261.7 L405.1 260.2 L407.8 257 L407.2 255.7 L403.7 256.8 L403.2 254.9 L406.4 252.6 L406.3 251.2 L402.8 251 L402.9 248.9 L406.4 247.7 L406.7 246.2 L403.6 244.8 L404.2 242.8 L407.8 242.8 L408.4 241.4 L406 238.9 L407.2 237.1 L410.3 238.4 L411.3 237.2 L409.8 233.8 L411.4 232.4 L413.8 234.8 L415 234 L414.7 230.1 L416.5 229.2 L418 232.5 L419.3 232.1 L420 228 L421.9 227.7 L422.3 231.6 L423.6 231.7 L425.4 227.9 L427.2 228.2 L426.5 232.3 L427.6 232.8 L430.3 229.6 L431.7 230.6 L430 234.5 L430.9 235.4 L434.2 233.1 L435.2 234.6 L432.6 237.9 L433.1 239.1 L436.7 238 L437.2 239.9 L433.9 242.3 L434.1 243.7 L437.6 243.8 L437.5 245.9 L433.9 247.1 L433.7 248.6 L436.8 250 L436.1 252.1 L432.6 252 Z" fill="#3a3a3a" stroke="#3a3a3a" stroke-width="0.6" stroke-linejoin="round" />
<path d="M432.4 253.6 L434.8 256.2 L433.6 258 L430.5 256.7 L429.5 257.9 L430.9 261.3 L429.4 262.7 L426.9 260.3 L425.7 261.1 L426.1 265 L424.3 265.9 L422.8 262.6 L421.5 263 L420.7 267.1 L418.9 267.3 L418.4 263.4 L417.2 263.4 L415.4 267.2 L413.6 266.8 L414.3 262.8 L413.2 262.3 L410.5 265.5 L409 264.5 L410.8 260.6 L409.9 259.7 L406.6 262 L405.6 260.4 L408.2 257.2 L407.7 256 L404.1 257.1 L403.6 255.2 L406.9 252.8 L406.7 251.4 L403.2 251.2 L403.3 249.1 L406.9 248 L407.1 246.5 L404 245.1 L404.7 243 L408.2 243.1 L408.8 241.7 L406.5 239.1 L407.6 237.3 L410.8 238.6 L411.7 237.4 L410.3 234.1 L411.8 232.6 L414.3 235.1 L415.5 234.2 L415.1 230.3 L416.9 229.4 L418.4 232.7 L419.7 232.3 L420.5 228.2 L422.3 228 L422.8 231.9 L424.1 231.9 L425.9 228.1 L427.6 228.5 L426.9 232.5 L428.1 233 L430.7 229.8 L432.2 230.9 L430.4 234.7 L431.3 235.6 L434.6 233.3 L435.6 234.9 L433 238.1 L433.5 239.4 L437.1 238.2 L437.6 240.2 L434.4 242.5 L434.5 243.9 L438 244.1 L437.9 246.2 L434.4 247.4 L434.1 248.8 L437.2 250.2 L436.5 252.3 L433 252.2 Z" fill="#3a3a3a" stroke="#3a3a3a" stroke-width="0.6" stroke-linejoin="round" />
<path d="M432.5 253.7 L434.9 256.2 L433.7 258.1 L430.6 256.7 L429.6 257.9 L431 261.3 L429.5 262.7 L427 260.3 L425.8 261.1 L426.2 265.1 L424.4 266 L422.9 262.6 L421.6 263 L420.8 267.1 L419 267.4 L418.5 263.5 L417.3 263.4 L415.4 267.3 L413.7 266.9 L414.4 262.8 L413.3 262.3 L410.6 265.5 L409.1 264.5 L410.9 260.7 L410 259.7 L406.7 262 L405.7 260.5 L408.3 257.2 L407.8 256 L404.2 257.1 L403.7 255.2 L407 252.9 L406.8 251.4 L403.3 251.3 L403.4 249.2 L406.9 248 L407.2 246.5 L404.1 245.1 L404.8 243 L408.3 243.1 L408.9 241.7 L406.5 239.2 L407.7 237.3 L410.8 238.7 L411.8 237.5 L410.4 234.1 L411.9 232.7 L414.4 235.1 L415.6 234.3 L415.2 230.3 L417 229.4 L418.5 232.8 L419.8 232.4 L420.6 228.3 L422.4 228 L422.9 231.9 L424.1 232 L426 228.1 L427.7 228.5 L427 232.6 L428.1 233.1 L430.8 229.9 L432.3 230.9 L430.5 234.7 L431.4 235.7 L434.7 233.4 L435.7 234.9 L433.1 238.2 L433.6 239.4 L437.2 238.3 L437.7 240.2 L434.4 242.5 L434.6 244 L438.1 244.1 L438 246.2 L434.5 247.4 L434.2 248.9 L437.3 250.3 L436.6 252.4 L433.1 252.3 Z" fill="#fff" stroke="#2e2e2e" stroke-width="1" stroke-linejoin="round" />
<ellipse rx="7.2" ry="9.2" transform="translate(422.2 248.5) rotate(27)" fill="none" stroke="#777" stroke-width="0.6" />
<ellipse rx="4.2" ry="5.8" transform="translate(423.2 248.9) rotate(27)" fill="#fff" stroke="#2e2e2e" stroke-width="1" />
<ellipse rx="1.4" ry="3.2" transform="translate(428.7 251.8) rotate(32.2)" fill="#fff" stroke="#2e2e2e" stroke-width="1" />
<path d="M427 254.5 L435.3 259.7 L438.7 254.3 L430.4 249.1 Z" fill="#fff" stroke="none" stroke-width="1" stroke-linejoin="round" />
<line x1="427" y1="254.5" x2="435.3" y2="259.7" stroke="#2e2e2e" stroke-width="1" />
<line x1="430.4" y1="249.1" x2="438.7" y2="254.3" stroke="#2e2e2e" stroke-width="1" />
<ellipse rx="1.4" ry="3.2" transform="translate(437 257) rotate(32.2)" fill="#fff" stroke="#2e2e2e" stroke-width="1" />
<ellipse rx="3" ry="6.6" transform="translate(437 257) rotate(28.3)" fill="#fff" stroke="#2e2e2e" stroke-width="1" />
<path d="M433.9 262.8 L459.9 276.8 L466.1 265.2 L440.1 251.2 Z" fill="#fff" stroke="none" stroke-width="1" stroke-linejoin="round" />
<line x1="433.9" y1="262.8" x2="459.9" y2="276.8" stroke="#2e2e2e" stroke-width="1" />
<line x1="440.1" y1="251.2" x2="466.1" y2="265.2" stroke="#2e2e2e" stroke-width="1" />
<ellipse rx="3" ry="6.6" transform="translate(463 271) rotate(28.3)" fill="#fff" stroke="#2e2e2e" stroke-width="1" />
<ellipse rx="3.2" ry="6.6" transform="translate(461.5 270.2) rotate(27)" fill="none" stroke="#444" stroke-width="1" />
<ellipse rx="2.4" ry="4.6" transform="translate(463.3 271.2) rotate(27)" fill="#444" stroke="#222" stroke-width="1.4" stroke-dasharray="1.2 1"/>
<ellipse rx="1.1" ry="2.2" transform="translate(463.6 271.3) rotate(27)" fill="#ddd" stroke="#2e2e2e" stroke-width="0.5" />
<line x1="444" y1="259.5" x2="456" y2="266.4" stroke="#666" stroke-width="0.6" />
<rect x="-4.5" y="-1.7" width="9" height="3.4" rx="1.5" transform="translate(451.7 254.3) rotate(27)" fill="#fff" stroke="#2e2e2e" stroke-width="1"/>
<rect x="-4.5" y="-0.30000000000000004" width="9" height="2.4" rx="1.2" transform="translate(451.7 254.3) rotate(27)" fill="none" stroke="#666" stroke-width="0.6"/>
<rect x="-4.5" y="-1.7" width="9" height="3.4" rx="1.5" transform="translate(462.7 261) rotate(27)" fill="#fff" stroke="#2e2e2e" stroke-width="1"/>
<rect x="-4.5" y="-0.30000000000000004" width="9" height="2.4" rx="1.2" transform="translate(462.7 261) rotate(27)" fill="none" stroke="#666" stroke-width="0.6"/>
<ellipse rx="2.1" ry="3.2" transform="translate(444.3 276.7) rotate(27)" fill="#fff" stroke="#2e2e2e" stroke-width="1.5" />
<line x1="467.6" y1="271.3" x2="470.2" y2="271.2" stroke="#2e2e2e" stroke-width="0.9" />
<ellipse rx="7.4" ry="9.4" transform="translate(470.2 280.2) rotate(27)" fill="#555" stroke="#2e2e2e" stroke-width="1" />
<ellipse rx="7.4" ry="9.4" transform="translate(471.7 281) rotate(27)" fill="#fff" stroke="#2e2e2e" stroke-width="1" />
<ellipse rx="5.3" ry="6.8" transform="translate(472.1 281.2) rotate(27)" fill="none" stroke="#555" stroke-width="0.8" />
<ellipse rx="3.7" ry="4.7" transform="translate(472.3 281.3) rotate(27)" fill="#fff" stroke="#2e2e2e" stroke-width="1" />
<path d="M479.5 284.1 L483.2 282.7 L486.3 284.5 L486.5 290.9 L483.1 292.9 L480.7 291.7 L480.5 286.7 Z" fill="#fff" stroke="#2e2e2e" stroke-width="1.1" stroke-linejoin="round" />
<path d="M479.5 284.1 L482.9 285.9 L486.3 284.5 M482.9 285.9 L483.1 292.9" fill="none" stroke="#444" stroke-width="0.8" stroke-linejoin="round" />
<line x1="486.7" y1="290.2" x2="486" y2="290.3" stroke="#2e2e2e" stroke-width="1" />
<ellipse rx="7.2" ry="9.4" transform="translate(492.5 293.5) rotate(27)" fill="#555" stroke="#2e2e2e" stroke-width="1" />
<ellipse rx="7.2" ry="9.4" transform="translate(494 294.3) rotate(27)" fill="#fff" stroke="#2e2e2e" stroke-width="1" />
<ellipse rx="5.2" ry="6.8" transform="translate(494.4 294.5) rotate(27)" fill="none" stroke="#555" stroke-width="0.8" />
<ellipse rx="3.6" ry="4.7" transform="translate(494.6 294.6) rotate(27)" fill="#fff" stroke="#2e2e2e" stroke-width="1" />
<line x1="383" y1="211" x2="391" y2="224" stroke="#3a3a3a" stroke-width="0.9" />
<line x1="409" y1="214.5" x2="416" y2="229" stroke="#3a3a3a" stroke-width="0.9" />
<line x1="425" y1="280.5" x2="437" y2="268" stroke="#3a3a3a" stroke-width="0.9" />
<line x1="446" y1="287.5" x2="445" y2="280" stroke="#3a3a3a" stroke-width="0.9" />
<line x1="489.5" y1="260" x2="477" y2="274" stroke="#3a3a3a" stroke-width="0.9" />
<line x1="473" y1="303.5" x2="481" y2="293" stroke="#3a3a3a" stroke-width="0.9" />
<line x1="463" y1="241" x2="453" y2="252" stroke="#3a3a3a" stroke-width="0.9" />
<line x1="465" y1="243.5" x2="463.5" y2="258" stroke="#3a3a3a" stroke-width="0.9" />
<line x1="455" y1="250" x2="461" y2="247" stroke="#3a3a3a" stroke-width="0.9" />
<line x1="499" y1="299" x2="506" y2="310" stroke="#3a3a3a" stroke-width="1" />
<circle cx="380.7" cy="205" r="7.5" fill="#e8e8e8"/>
<text x="379.7" y="209.5" font-size="12.5" text-anchor="middle" fill="#686868">1</text>
<circle cx="406.7" cy="208.3" r="7.5" fill="#e8e8e8"/>
<text x="405.7" y="212.8" font-size="12.5" text-anchor="middle" fill="#686868">2</text>
<circle cx="420" cy="285.7" r="7.5" fill="#e8e8e8"/>
<text x="419" y="290.2" font-size="12.5" text-anchor="middle" fill="#686868">3</text>
<circle cx="446.7" cy="293.3" r="7.5" fill="#e8e8e8"/>
<text x="445.7" y="297.8" font-size="12.5" text-anchor="middle" fill="#686868">4</text>
<circle cx="494" cy="255.7" r="7.5" fill="#e8e8e8"/>
<text x="493" y="260.2" font-size="12.5" text-anchor="middle" fill="#686868">5</text>
<circle cx="469.3" cy="309" r="7.5" fill="#e8e8e8"/>
<text x="468.3" y="313.5" font-size="12.5" text-anchor="middle" fill="#686868">6</text>
<circle cx="467.7" cy="239" r="7.5" fill="#e8e8e8"/>
<text x="466.7" y="243.5" font-size="12.5" text-anchor="middle" fill="#686868">8</text>
<ellipse rx="6.2" ry="10" transform="translate(407.5 176.5) rotate(28.3)" fill="#fff" stroke="#2e2e2e" stroke-width="1" />
<path d="M402.8 185.3 L409.3 188.8 L418.7 171.2 L412.2 167.7 Z" fill="#fff" stroke="none" stroke-width="1" stroke-linejoin="round" />
<line x1="402.8" y1="185.3" x2="409.3" y2="188.8" stroke="#2e2e2e" stroke-width="1" />
<line x1="412.2" y1="167.7" x2="418.7" y2="171.2" stroke="#2e2e2e" stroke-width="1" />
<ellipse rx="6.2" ry="10" transform="translate(414 180) rotate(28.3)" fill="#fff" stroke="#2e2e2e" stroke-width="1" />
<ellipse rx="5.1" ry="8.2" transform="translate(414.3 180.2) rotate(28.3)" fill="#fff" stroke="#2e2e2e" stroke-width="1" />
<ellipse rx="4.7" ry="7.8" transform="translate(412.6 179.2) rotate(28.3)" fill="none" stroke="#555" stroke-width="0.7" clip-path="none"/>
<line x1="400.3" y1="152.5" x2="408.5" y2="168" stroke="#3a3a3a" stroke-width="0.9" />
<path d="M431.9 191 L433 192.5 L432.2 193.9 L430.6 193.3 L429.9 194.2 L430.3 196.3 L429.2 197.4 L428.1 196 L427.4 196.6 L427.1 199.2 L425.9 199.9 L425.5 197.7 L424.7 198 L423.7 200.7 L422.6 200.8 L422.9 198.3 L422.2 198.2 L420.7 200.6 L419.8 200.3 L420.7 197.6 L420.1 197.2 L418.3 199.1 L417.7 198.2 L419.1 195.8 L418.8 195 L416.8 196.2 L416.6 195 L418.4 193 L418.4 192 L416.5 192.3 L416.7 190.8 L418.6 189.6 L418.9 188.6 L417.3 187.9 L417.9 186.4 L419.8 186.1 L420.3 185 L419.2 183.5 L420 182.1 L421.6 182.7 L422.3 181.8 L421.9 179.7 L423 178.6 L424.1 180 L424.8 179.4 L425.1 176.8 L426.3 176.2 L426.7 178.3 L427.5 178 L428.5 175.3 L429.6 175.2 L429.3 177.7 L430 177.8 L431.5 175.4 L432.4 175.7 L431.5 178.4 L432.1 178.8 L433.9 176.9 L434.5 177.8 L433.1 180.2 L433.4 181 L435.4 179.8 L435.6 181.1 L433.8 183 L433.8 184 L435.7 183.7 L435.5 185.2 L433.6 186.4 L433.3 187.4 L434.9 188.1 L434.3 189.6 L432.4 189.9 Z" fill="#2a2a2a" stroke="#2a2a2a" stroke-width="0.8" stroke-linejoin="round" />
<path d="M432.4 191.2 L433.4 192.7 L432.6 194.1 L431 193.5 L430.3 194.4 L430.7 196.6 L429.7 197.7 L428.6 196.2 L427.8 196.8 L427.5 199.4 L426.4 200.1 L425.9 197.9 L425.1 198.2 L424.2 200.9 L423.1 201.1 L423.3 198.5 L422.6 198.4 L421.1 200.9 L420.2 200.5 L421.1 197.8 L420.6 197.4 L418.7 199.3 L418.1 198.5 L419.6 196 L419.3 195.3 L417.3 196.4 L417 195.2 L418.9 193.2 L418.8 192.3 L416.9 192.5 L417.1 191.1 L419.1 189.9 L419.3 188.8 L417.8 188.1 L418.3 186.6 L420.2 186.3 L420.7 185.3 L419.6 183.7 L420.5 182.3 L422.1 183 L422.8 182.1 L422.4 179.9 L423.4 178.8 L424.5 180.3 L425.3 179.6 L425.6 177.1 L426.7 176.4 L427.2 178.5 L428 178.2 L428.9 175.6 L430 175.4 L429.8 178 L430.5 178 L432 175.6 L432.9 176 L432 178.6 L432.5 179.1 L434.4 177.2 L435 178 L433.5 180.5 L433.8 181.2 L435.8 180 L436.1 181.3 L434.2 183.2 L434.2 184.2 L436.1 183.9 L436 185.4 L434 186.6 L433.8 187.7 L435.3 188.3 L434.8 189.9 L432.9 190.2 Z" fill="#2a2a2a" stroke="#2a2a2a" stroke-width="0.8" stroke-linejoin="round" />
<path d="M432.8 191.4 L433.9 192.9 L433 194.3 L431.4 193.7 L430.8 194.6 L431.2 196.8 L430.1 197.9 L429 196.4 L428.2 197.1 L428 199.6 L426.8 200.3 L426.4 198.2 L425.6 198.5 L424.6 201.1 L423.5 201.3 L423.8 198.7 L423.1 198.7 L421.6 201.1 L420.7 200.7 L421.6 198.1 L421 197.6 L419.2 199.5 L418.6 198.7 L420 196.2 L419.7 195.5 L417.7 196.6 L417.5 195.4 L419.3 193.5 L419.3 192.5 L417.4 192.8 L417.5 191.3 L419.5 190.1 L419.8 189 L418.2 188.4 L418.7 186.8 L420.7 186.5 L421.1 185.5 L420.1 184 L420.9 182.6 L422.5 183.2 L423.2 182.3 L422.8 180.1 L423.9 179 L424.9 180.5 L425.7 179.9 L426 177.3 L427.2 176.6 L427.6 178.7 L428.4 178.4 L429.4 175.8 L430.4 175.6 L430.2 178.2 L430.9 178.3 L432.4 175.8 L433.3 176.2 L432.4 178.9 L432.9 179.3 L434.8 177.4 L435.4 178.2 L433.9 180.7 L434.3 181.4 L436.3 180.3 L436.5 181.5 L434.7 183.4 L434.7 184.4 L436.6 184.2 L436.4 185.6 L434.4 186.8 L434.2 187.9 L435.8 188.6 L435.2 190.1 L433.3 190.4 Z" fill="#2a2a2a" stroke="#2a2a2a" stroke-width="0.8" stroke-linejoin="round" />
<path d="M433.3 191.7 L434.3 193.2 L433.5 194.6 L431.9 194 L431.2 194.8 L431.6 197 L430.6 198.1 L429.5 196.7 L428.7 197.3 L428.4 199.9 L427.3 200.5 L426.8 198.4 L426 198.7 L425.1 201.4 L424 201.5 L424.2 199 L423.5 198.9 L422 201.3 L421.1 201 L422 198.3 L421.5 197.9 L419.6 199.8 L419 198.9 L420.5 196.5 L420.2 195.7 L418.2 196.9 L417.9 195.6 L419.8 193.7 L419.7 192.7 L417.8 193 L418 191.5 L420 190.3 L420.2 189.2 L418.7 188.6 L419.2 187.1 L421.1 186.8 L421.6 185.7 L420.5 184.2 L421.4 182.8 L423 183.4 L423.7 182.5 L423.2 180.4 L424.3 179.3 L425.4 180.7 L426.2 180.1 L426.5 177.5 L427.6 176.8 L428.1 179 L428.9 178.7 L429.8 176 L430.9 175.9 L430.6 178.4 L431.4 178.5 L432.8 176 L433.8 176.4 L432.8 179.1 L433.4 179.5 L435.2 177.6 L435.9 178.5 L434.4 180.9 L434.7 181.7 L436.7 180.5 L436.9 181.7 L435.1 183.7 L435.1 184.6 L437 184.4 L436.9 185.8 L434.9 187 L434.6 188.1 L436.2 188.8 L435.7 190.3 L433.8 190.6 Z" fill="#2a2a2a" stroke="#2a2a2a" stroke-width="0.8" stroke-linejoin="round" />
<path d="M433.7 191.9 L434.8 193.4 L433.9 194.8 L432.3 194.2 L431.7 195.1 L432.1 197.2 L431 198.3 L429.9 196.9 L429.1 197.5 L428.9 200.1 L427.7 200.8 L427.3 198.6 L426.5 198.9 L425.5 201.6 L424.4 201.7 L424.7 199.2 L424 199.1 L422.5 201.5 L421.6 201.2 L422.5 198.5 L421.9 198.1 L420.1 200 L419.5 199.1 L420.9 196.7 L420.6 195.9 L418.6 197.1 L418.4 195.9 L420.2 193.9 L420.2 193 L418.3 193.2 L418.4 191.7 L420.4 190.5 L420.7 189.5 L419.1 188.8 L419.6 187.3 L421.5 187 L422 185.9 L421 184.4 L421.8 183 L423.4 183.6 L424.1 182.7 L423.7 180.6 L424.8 179.5 L425.8 180.9 L426.6 180.3 L426.9 177.7 L428.1 177.1 L428.5 179.2 L429.3 178.9 L430.2 176.2 L431.3 176.1 L431.1 178.6 L431.8 178.7 L433.3 176.3 L434.2 176.6 L433.3 179.3 L433.8 179.7 L435.7 177.8 L436.3 178.7 L434.8 181.1 L435.1 181.9 L437.1 180.7 L437.4 182 L435.5 183.9 L435.6 184.9 L437.5 184.6 L437.3 186.1 L435.3 187.3 L435.1 188.3 L436.7 189 L436.1 190.5 L434.2 190.8 Z" fill="#2a2a2a" stroke="#2a2a2a" stroke-width="0.8" stroke-linejoin="round" />
<path d="M434.2 192.1 L435.2 193.6 L434.4 195 L432.8 194.4 L432.1 195.3 L432.5 197.5 L431.5 198.6 L430.4 197.1 L429.6 197.7 L429.3 200.3 L428.2 201 L427.7 198.8 L426.9 199.1 L426 201.8 L424.9 202 L425.1 199.4 L424.4 199.3 L422.9 201.8 L422 201.4 L422.9 198.7 L422.4 198.3 L420.5 200.2 L419.9 199.4 L421.4 196.9 L421.1 196.2 L419.1 197.3 L418.8 196.1 L420.7 194.1 L420.6 193.2 L418.7 193.4 L418.9 192 L420.9 190.8 L421.1 189.7 L419.5 189 L420.1 187.5 L422 187.2 L422.5 186.2 L421.4 184.7 L422.3 183.3 L423.9 183.9 L424.5 183 L424.1 180.8 L425.2 179.7 L426.3 181.2 L427.1 180.5 L427.4 178 L428.5 177.3 L428.9 179.4 L429.7 179.1 L430.7 176.5 L431.8 176.3 L431.5 178.9 L432.2 178.9 L433.7 176.5 L434.6 176.9 L433.7 179.5 L434.3 180 L436.1 178.1 L436.7 178.9 L435.3 181.4 L435.6 182.1 L437.6 181 L437.8 182.2 L436 184.1 L436 185.1 L437.9 184.8 L437.8 186.3 L435.8 187.5 L435.5 188.6 L437.1 189.2 L436.6 190.8 L434.7 191.1 Z" fill="#2a2a2a" stroke="#2a2a2a" stroke-width="0.8" stroke-linejoin="round" />
<path d="M434.6 192.3 L435.7 193.9 L434.8 195.2 L433.2 194.6 L432.6 195.5 L433 197.7 L431.9 198.8 L430.8 197.3 L430 198 L429.7 200.5 L428.6 201.2 L428.2 199.1 L427.4 199.4 L426.4 202 L425.3 202.2 L425.6 199.6 L424.9 199.6 L423.4 202 L422.5 201.6 L423.4 199 L422.8 198.5 L421 200.4 L420.4 199.6 L421.8 197.1 L421.5 196.4 L419.5 197.5 L419.3 196.3 L421.1 194.4 L421.1 193.4 L419.2 193.7 L419.3 192.2 L421.3 191 L421.6 189.9 L420 189.3 L420.5 187.7 L422.4 187.4 L422.9 186.4 L421.9 184.9 L422.7 183.5 L424.3 184.1 L425 183.2 L424.6 181 L425.6 179.9 L426.7 181.4 L427.5 180.8 L427.8 178.2 L428.9 177.5 L429.4 179.7 L430.2 179.4 L431.1 176.7 L432.2 176.5 L432 179.1 L432.7 179.2 L434.2 176.7 L435.1 177.1 L434.2 179.8 L434.7 180.2 L436.6 178.3 L437.2 179.1 L435.7 181.6 L436 182.3 L438 181.2 L438.3 182.4 L436.4 184.4 L436.5 185.3 L438.4 185.1 L438.2 186.5 L436.2 187.7 L436 188.8 L437.6 189.5 L437 191 L435.1 191.3 Z" fill="#2a2a2a" stroke="#2a2a2a" stroke-width="0.8" stroke-linejoin="round" />
<path d="M435.1 192.6 L436.1 194.1 L435.3 195.5 L433.7 194.9 L433 195.8 L433.4 197.9 L432.3 199 L431.3 197.6 L430.5 198.2 L430.2 200.8 L429 201.4 L428.6 199.3 L427.8 199.6 L426.9 202.3 L425.8 202.4 L426 199.9 L425.3 199.8 L423.8 202.2 L422.9 201.9 L423.8 199.2 L423.3 198.8 L421.4 200.7 L420.8 199.8 L422.3 197.4 L422 196.6 L420 197.8 L419.7 196.5 L421.6 194.6 L421.5 193.6 L419.6 193.9 L419.8 192.4 L421.8 191.2 L422 190.2 L420.4 189.5 L421 188 L422.9 187.7 L423.4 186.6 L422.3 185.1 L423.2 183.7 L424.8 184.3 L425.4 183.4 L425 181.3 L426.1 180.2 L427.2 181.6 L428 181 L428.2 178.4 L429.4 177.7 L429.8 179.9 L430.6 179.6 L431.6 176.9 L432.7 176.8 L432.4 179.3 L433.1 179.4 L434.6 177 L435.5 177.3 L434.6 180 L435.2 180.4 L437 178.5 L437.6 179.4 L436.2 181.8 L436.5 182.6 L438.5 181.4 L438.7 182.6 L436.9 184.6 L436.9 185.6 L438.8 185.3 L438.7 186.8 L436.7 188 L436.4 189 L438 189.7 L437.5 191.2 L435.6 191.5 Z" fill="#2a2a2a" stroke="#2a2a2a" stroke-width="0.8" stroke-linejoin="round" />
<path d="M435.5 192.8 L436.6 194.3 L435.7 195.7 L434.1 195.1 L433.4 196 L433.9 198.2 L432.8 199.3 L431.7 197.8 L430.9 198.4 L430.6 201 L429.5 201.7 L429 199.5 L428.2 199.8 L427.3 202.5 L426.2 202.7 L426.5 200.1 L425.7 200 L424.3 202.5 L423.3 202.1 L424.3 199.4 L423.7 199 L421.9 200.9 L421.2 200 L422.7 197.6 L422.4 196.8 L420.4 198 L420.2 196.8 L422 194.8 L422 193.9 L420.1 194.1 L420.2 192.7 L422.2 191.5 L422.5 190.4 L420.9 189.7 L421.4 188.2 L423.3 187.9 L423.8 186.8 L422.8 185.3 L423.6 183.9 L425.2 184.5 L425.9 183.7 L425.5 181.5 L426.5 180.4 L427.6 181.8 L428.4 181.2 L428.7 178.6 L429.8 178 L430.3 180.1 L431.1 179.8 L432 177.2 L433.1 177 L432.9 179.5 L433.6 179.6 L435.1 177.2 L436 177.5 L435.1 180.2 L435.6 180.6 L437.5 178.7 L438.1 179.6 L436.6 182 L436.9 182.8 L438.9 181.6 L439.2 182.9 L437.3 184.8 L437.4 185.8 L439.3 185.5 L439.1 187 L437.1 188.2 L436.9 189.3 L438.4 189.9 L437.9 191.4 L436 191.8 Z" fill="#2a2a2a" stroke="#2a2a2a" stroke-width="0.8" stroke-linejoin="round" />
<path d="M436 193 L437 194.5 L436.2 195.9 L434.6 195.3 L433.9 196.2 L434.3 198.4 L433.2 199.5 L432.2 198 L431.4 198.7 L431.1 201.2 L429.9 201.9 L429.5 199.8 L428.7 200.1 L427.7 202.7 L426.7 202.9 L426.9 200.3 L426.2 200.3 L424.7 202.7 L423.8 202.3 L424.7 199.7 L424.2 199.2 L422.3 201.1 L421.7 200.3 L423.2 197.8 L422.8 197.1 L420.8 198.2 L420.6 197 L422.4 195.1 L422.4 194.1 L420.5 194.3 L420.7 192.9 L422.7 191.7 L422.9 190.6 L421.3 189.9 L421.9 188.4 L423.8 188.1 L424.3 187.1 L423.2 185.6 L424.1 184.2 L425.7 184.8 L426.3 183.9 L425.9 181.7 L427 180.6 L428.1 182.1 L428.9 181.4 L429.1 178.9 L430.3 178.2 L430.7 180.3 L431.5 180 L432.5 177.4 L433.6 177.2 L433.3 179.8 L434 179.8 L435.5 177.4 L436.4 177.8 L435.5 180.4 L436.1 180.9 L437.9 179 L438.5 179.8 L437.1 182.3 L437.4 183 L439.4 181.9 L439.6 183.1 L437.8 185 L437.8 186 L439.7 185.7 L439.6 187.2 L437.6 188.4 L437.3 189.5 L438.9 190.1 L438.4 191.7 L436.4 192 Z" fill="#2a2a2a" stroke="#2a2a2a" stroke-width="0.8" stroke-linejoin="round" />
<path d="M436.4 193.3 L437.5 194.8 L436.6 196.2 L435 195.5 L434.3 196.4 L434.7 198.6 L433.7 199.7 L432.6 198.2 L431.8 198.9 L431.5 201.4 L430.4 202.1 L429.9 200 L429.1 200.3 L428.2 202.9 L427.1 203.1 L427.3 200.5 L426.6 200.5 L425.1 202.9 L424.2 202.5 L425.1 199.9 L424.6 199.4 L422.7 201.3 L422.1 200.5 L423.6 198 L423.3 197.3 L421.3 198.5 L421 197.2 L422.9 195.3 L422.9 194.3 L421 194.6 L421.1 193.1 L423.1 191.9 L423.3 190.8 L421.8 190.2 L422.3 188.7 L424.2 188.3 L424.7 187.3 L423.7 185.8 L424.5 184.4 L426.1 185 L426.8 184.1 L426.4 181.9 L427.4 180.8 L428.5 182.3 L429.3 181.7 L429.6 179.1 L430.7 178.4 L431.2 180.6 L432 180.3 L432.9 177.6 L434 177.4 L433.8 180 L434.5 180.1 L436 177.6 L436.9 178 L436 180.7 L436.5 181.1 L438.4 179.2 L439 180 L437.5 182.5 L437.8 183.2 L439.8 182.1 L440.1 183.3 L438.2 185.3 L438.3 186.2 L440.2 186 L440 187.4 L438 188.6 L437.8 189.7 L439.3 190.4 L438.8 191.9 L436.9 192.2 Z" fill="#2a2a2a" stroke="#2a2a2a" stroke-width="0.8" stroke-linejoin="round" />
<path d="M436.8 193.5 L437.9 195 L437.1 196.4 L435.5 195.8 L434.8 196.7 L435.2 198.8 L434.1 199.9 L433 198.5 L432.3 199.1 L432 201.7 L430.8 202.3 L430.4 200.2 L429.6 200.5 L428.6 203.2 L427.5 203.3 L427.8 200.8 L427.1 200.7 L425.6 203.1 L424.7 202.8 L425.6 200.1 L425 199.7 L423.2 201.6 L422.6 200.7 L424 198.3 L423.7 197.5 L421.7 198.7 L421.5 197.5 L423.3 195.5 L423.3 194.5 L421.4 194.8 L421.6 193.3 L423.5 192.1 L423.8 191.1 L422.2 190.4 L422.8 188.9 L424.7 188.6 L425.2 187.5 L424.1 186 L424.9 184.6 L426.5 185.2 L427.2 184.3 L426.8 182.2 L427.9 181.1 L429 182.5 L429.7 181.9 L430 179.3 L431.2 178.7 L431.6 180.8 L432.4 180.5 L433.4 177.8 L434.5 177.7 L434.2 180.2 L434.9 180.3 L436.4 177.9 L437.3 178.2 L436.4 180.9 L437 181.3 L438.8 179.4 L439.4 180.3 L438 182.7 L438.3 183.5 L440.3 182.3 L440.5 183.5 L438.7 185.5 L438.7 186.5 L440.6 186.2 L440.4 187.7 L438.5 188.9 L438.2 189.9 L439.8 190.6 L439.2 192.1 L437.3 192.4 Z" fill="#fff" stroke="#2e2e2e" stroke-width="0.9" stroke-linejoin="round" />
<ellipse rx="6.1" ry="10.2" transform="translate(434 192.5) rotate(29.6)" fill="#fff" stroke="#2e2e2e" stroke-width="1" />
<path d="M429 201.4 L476.5 228.4 L486.5 210.6 L439 183.6 Z" fill="#fff" stroke="none" stroke-width="1" stroke-linejoin="round" />
<line x1="429" y1="201.4" x2="476.5" y2="228.4" stroke="#2e2e2e" stroke-width="1" />
<line x1="439" y1="183.6" x2="486.5" y2="210.6" stroke="#2e2e2e" stroke-width="1" />
<ellipse rx="6.1" ry="10.2" transform="translate(481.5 219.5) rotate(29.6)" fill="#fff" stroke="#2e2e2e" stroke-width="1" />
<ellipse rx="4.7" ry="8.2" transform="translate(481.8 219.7) rotate(27)" fill="#fff" stroke="#2e2e2e" stroke-width="1" />
<ellipse rx="4.5" ry="8" transform="translate(480.6 219.1) rotate(27)" fill="none" stroke="#666" stroke-width="0.6" />
<path d="M446.6 187.5 A6.1 10.2 27 0 1 437.4 205.7" fill="none" stroke="#444" stroke-width="0.8" stroke-linejoin="round" />
<path d="M452 190.2 A6.1 10.2 27 0 1 442.7 208.4" fill="none" stroke="#444" stroke-width="0.8" stroke-linejoin="round" />
<line x1="455" y1="196" x2="470" y2="204" stroke="#555" stroke-width="0.7" />
<line x1="426.6" y1="163" x2="436" y2="178" stroke="#3a3a3a" stroke-width="0.9" />
<ellipse rx="6.5" ry="10.5" transform="translate(497.5 230.8) rotate(27.6)" fill="#fff" stroke="#2e2e2e" stroke-width="1" />
<path d="M492.6 240.1 L499.1 243.5 L508.9 224.9 L502.4 221.5 Z" fill="#fff" stroke="none" stroke-width="1" stroke-linejoin="round" />
<line x1="492.6" y1="240.1" x2="499.1" y2="243.5" stroke="#2e2e2e" stroke-width="1" />
<line x1="502.4" y1="221.5" x2="508.9" y2="224.9" stroke="#2e2e2e" stroke-width="1" />
<ellipse rx="6.5" ry="10.5" transform="translate(504 234.2) rotate(27.6)" fill="#fff" stroke="#2e2e2e" stroke-width="1" />
<ellipse rx="5.3" ry="8.6" transform="translate(504.3 234.4) rotate(27.6)" fill="#fff" stroke="#2e2e2e" stroke-width="1" />
<ellipse rx="4.9" ry="8.2" transform="translate(502.6 233.5) rotate(27.6)" fill="none" stroke="#555" stroke-width="0.7" clip-path="none"/>
<line x1="496.3" y1="203.5" x2="503.5" y2="221.5" stroke="#3a3a3a" stroke-width="0.9" />
<ellipse rx="8" ry="10.3" transform="translate(517.8 241.4) rotate(27)" fill="#555" stroke="#2e2e2e" stroke-width="1" />
<ellipse rx="8" ry="10.3" transform="translate(520 242.5) rotate(27)" fill="#fff" stroke="#2e2e2e" stroke-width="1" />
<ellipse rx="6.6" ry="8.4" transform="translate(520.4 242.7) rotate(27)" fill="none" stroke="#555" stroke-width="0.8" />
<ellipse rx="5" ry="6.4" transform="translate(520.6 242.8) rotate(27)" fill="#fff" stroke="#2e2e2e" stroke-width="1" />
<line x1="517.8" y1="216.5" x2="523.5" y2="233" stroke="#3a3a3a" stroke-width="0.9" />
<circle cx="397.2" cy="147.6" r="7.5" fill="#e8e8e8"/>
<text x="396.2" y="152.1" font-size="12.5" text-anchor="middle" fill="#686868">9</text>
<circle cx="423.2" cy="155.1" r="9" fill="#e8e8e8"/>
<text x="422.2" y="159.8" font-size="13" text-anchor="middle" fill="#686868">11</text>
<circle cx="490.9" cy="195.5" r="9" fill="#e8e8e8"/>
<text x="489.9" y="200.2" font-size="13" text-anchor="middle" fill="#686868">23</text>
<circle cx="517" cy="208" r="9" fill="#e8e8e8"/>
<text x="516" y="212.7" font-size="13" text-anchor="middle" fill="#686868">10</text>
<path d="M211.3 248.7 L248.7 211.3 L281.3 228.7 L276.3 257.5 L376.3 313.7" fill="none" stroke="#333" stroke-width="1" stroke-linejoin="round" />
<line x1="202.5" y1="245" x2="210" y2="249.5" stroke="#444" stroke-width="1" />
<ellipse rx="3.8" ry="7.6" transform="translate(311 305.3) rotate(28.9)" fill="#fff" stroke="#2e2e2e" stroke-width="1" />
<path d="M307.3 312 L327.8 323.3 L335.2 309.9 L314.7 298.6 Z" fill="#fff" stroke="none" stroke-width="1" stroke-linejoin="round" />
<line x1="307.3" y1="312" x2="327.8" y2="323.3" stroke="#2e2e2e" stroke-width="1" />
<line x1="314.7" y1="298.6" x2="335.2" y2="309.9" stroke="#2e2e2e" stroke-width="1" />
<ellipse rx="3.8" ry="7.6" transform="translate(331.5 316.6) rotate(28.9)" fill="#fff" stroke="#2e2e2e" stroke-width="1" />
<ellipse rx="2.2" ry="4" transform="translate(326.5 317.2) rotate(28.7)" fill="#fff" stroke="#555" stroke-width="0.8" />
<ellipse rx="4" ry="8.1" transform="translate(216.5 253.6) rotate(28.7)" fill="#b4b4b4" stroke="#2e2e2e" stroke-width="1" />
<path d="M212.6 260.7 L307.1 312.4 L314.9 298.2 L220.4 246.5 Z" fill="#b4b4b4" stroke="none" stroke-width="1" stroke-linejoin="round" />
<line x1="212.6" y1="260.7" x2="307.1" y2="312.4" stroke="#2e2e2e" stroke-width="1" />
<line x1="220.4" y1="246.5" x2="314.9" y2="298.2" stroke="#2e2e2e" stroke-width="1" />
<ellipse rx="4" ry="8.1" transform="translate(311 305.3) rotate(28.7)" fill="#fff" stroke="#2e2e2e" stroke-width="1" />
<line x1="219.6" y1="247" x2="314.1" y2="298.7" stroke="#1c1c1c" stroke-width="2.0" />
<line x1="218.2" y1="248.5" x2="313.1" y2="300.4" stroke="#444" stroke-width="1.2" />
<line x1="216.7" y1="249.9" x2="312.2" y2="302.1" stroke="#555" stroke-width="0.9" />
<line x1="215.3" y1="251.3" x2="311.3" y2="303.7" stroke="#555" stroke-width="0.9" />
<line x1="214.1" y1="252.8" x2="310.4" y2="305.4" stroke="#555" stroke-width="0.9" />
<line x1="213.7" y1="254.6" x2="309.5" y2="307" stroke="#444" stroke-width="1.0" />
<line x1="213.4" y1="256.4" x2="308.6" y2="308.6" stroke="#2a2a2a" stroke-width="1.3" />
<line x1="213" y1="258.2" x2="307.8" y2="310.1" stroke="#1c1c1c" stroke-width="1.6" />
<line x1="212.6" y1="259.8" x2="307.1" y2="311.5" stroke="#1c1c1c" stroke-width="1.9" />
<path d="M225.7 249.4 A4 8.1 28.7 0 1 217.9 263.6" fill="none" stroke="#fff" stroke-width="2.2" stroke-linejoin="round" />
<path d="M226.6 249.9 A4 8.1 28.7 0 1 218.8 264.1" fill="none" stroke="#333" stroke-width="0.7" stroke-linejoin="round" />
<path d="M270.4 273.9 A4 8.1 28.7 0 1 262.6 288.1" fill="none" stroke="#fff" stroke-width="2.4" stroke-linejoin="round" />
<path d="M271.4 274.4 A4 8.1 28.7 0 1 263.7 288.6" fill="none" stroke="#333" stroke-width="0.7" stroke-linejoin="round" />
<path d="M276.5 277.2 A4 8.1 28.7 0 1 268.8 291.4" fill="none" stroke="#fff" stroke-width="2.0" stroke-linejoin="round" />
<path d="M277.4 277.7 A4 8.1 28.7 0 1 269.6 291.9" fill="none" stroke="#333" stroke-width="0.7" stroke-linejoin="round" />
<ellipse rx="4" ry="8.1" transform="translate(311 305.3) rotate(28.7)" fill="#fff" stroke="#333" stroke-width="1" />
<path d="M-7.5 -1 Q-7.5 -3.4 -5 -3.2 L5.5 -2.6 Q7.8 -2.2 7.6 0.2 Q6 4.2 0 3.6 Q-6 3 -7.5 -1 Z" transform="translate(243.5 243) rotate(22)" fill="#fff" stroke="#2e2e2e" stroke-width="1"/>
<path d="M-7.2 -0.4 L7.4 0.6" transform="translate(243.5 243) rotate(22)" fill="none" stroke="#555" stroke-width="0.7"/>
<line x1="250.5" y1="231" x2="245.5" y2="240" stroke="#3a3a3a" stroke-width="0.9" />
<line x1="367" y1="300" x2="361" y2="313" stroke="#3a3a3a" stroke-width="0.9" />
<circle cx="260.5" cy="222" r="9" fill="#e8e8e8"/>
<text x="254.5" y="229.7" font-size="13" text-anchor="middle" fill="#686868">12</text>
<circle cx="369.3" cy="290.7" r="10" fill="#e8e8e8"/>
<text x="368.3" y="295.6" font-size="13.5" text-anchor="middle" fill="#686868">13</text>
<ellipse rx="22.5" ry="40" transform="translate(549.5 264.5) rotate(21)" fill="#fff" stroke="#2e2e2e" stroke-width="1.1" />
<ellipse rx="19.5" ry="36" transform="translate(551.5 265.5) rotate(21)" fill="#fff" stroke="#2e2e2e" stroke-width="0.9" />
<path d="M563 227.5 L586 235.5 L590 330 L538 302 Z" fill="#fff" stroke="none" stroke-width="1" stroke-linejoin="round" />
<line x1="563" y1="227.6" x2="585" y2="234.6" stroke="#2e2e2e" stroke-width="1" />
<path d="M556 232 A20.5 35 17 0 0 531 283" fill="none" stroke="#444" stroke-width="0.8" stroke-linejoin="round" />
<path d="M566 236 Q552 250 545 282" fill="none" stroke="#333" stroke-width="0.9" stroke-linejoin="round" />
<path d="M539 262 L553 268 L551 276 L538 270 Z" fill="none" stroke="#333" stroke-width="0.9" stroke-linejoin="round" />
<line x1="553" y1="252" x2="563" y2="256" stroke="#2e2e2e" stroke-width="0.9" />
<line x1="549" y1="247" x2="560" y2="251.5" stroke="#555" stroke-width="0.8" />
<ellipse rx="3.2" ry="4.2" transform="translate(550.5 259) rotate(21)" fill="#fff" stroke="#2e2e2e" stroke-width="1.1" />
<ellipse rx="1.6" ry="2.4" transform="translate(550.8 259.2) rotate(21)" fill="none" stroke="#555" stroke-width="0.7" />
<ellipse rx="4.2" ry="2.6" transform="translate(574.5 237.5) rotate(25)" fill="#fff" stroke="#2e2e2e" stroke-width="1" />
<path d="M537 286 L548 280 L558 286 L556 296 L545 297 Z" fill="#ddd" stroke="#333" stroke-width="0.9" stroke-linejoin="round" />
<path d="M540 287 L548 283.5 L555 288 L546 293 Z" fill="#fff" stroke="#444" stroke-width="0.7" stroke-linejoin="round" />
<line x1="535" y1="283" x2="540" y2="300" stroke="#2e2e2e" stroke-width="0.9" />
<line x1="526" y1="293" x2="533" y2="290" stroke="#444" stroke-width="0.9" />
<ellipse rx="30.8" ry="52.2" transform="translate(584.5 277) rotate(21)" fill="#fff" stroke="#2e2e2e" stroke-width="1.1" />
<ellipse rx="31" ry="52.4" transform="translate(588.5 278.8) rotate(21)" fill="#fff" stroke="#444" stroke-width="0.9" />
<ellipse rx="31.2" ry="52.7" transform="translate(592 280.2) rotate(21)" fill="#fff" stroke="#444" stroke-width="0.9" />
<ellipse rx="31.2" ry="52.7" transform="translate(595 281.5) rotate(21)" fill="#fff" stroke="#2e2e2e" stroke-width="1.1" />
<ellipse rx="28.3" ry="48.5" transform="translate(595.8 282) rotate(21)" fill="none" stroke="#555" stroke-width="0.8" />
<ellipse rx="25" ry="43.5" transform="translate(596.3 283.5) rotate(21)" fill="none" stroke="#333" stroke-width="1" />
<ellipse rx="19.5" ry="32" transform="translate(596.5 285.5) rotate(21)" fill="none" stroke="#444" stroke-width="0.9" />
<ellipse rx="10.8" ry="14.8" transform="translate(596.2 286.8) rotate(21)" fill="#fff" stroke="#2e2e2e" stroke-width="1.1" />
<ellipse rx="9.2" ry="13" transform="translate(597.2 287.3) rotate(21)" fill="none" stroke="#666" stroke-width="0.7" />
<ellipse rx="2.8" ry="4.2" transform="translate(610.5 257) rotate(31)" fill="#fff" stroke="#2e2e2e" stroke-width="1" />
<ellipse rx="2.8" ry="4.2" transform="translate(573.8 282.5) rotate(31)" fill="#fff" stroke="#2e2e2e" stroke-width="1" />
<ellipse rx="2.8" ry="4.2" transform="translate(587 315.5) rotate(31)" fill="#fff" stroke="#2e2e2e" stroke-width="1" />
<ellipse rx="1.9" ry="2.6" transform="translate(594 268) rotate(21)" fill="#ccc" stroke="#2e2e2e" stroke-width="0.9" />
<ellipse rx="1.9" ry="2.6" transform="translate(611.5 271.5) rotate(21)" fill="#ccc" stroke="#2e2e2e" stroke-width="0.9" />
<ellipse rx="1.9" ry="2.6" transform="translate(580.5 286.5) rotate(21)" fill="#ccc" stroke="#2e2e2e" stroke-width="0.9" />
<ellipse rx="1.9" ry="2.6" transform="translate(608 292.5) rotate(21)" fill="#ccc" stroke="#2e2e2e" stroke-width="0.9" />
<ellipse rx="1.9" ry="2.6" transform="translate(577.5 304.5) rotate(21)" fill="#ccc" stroke="#2e2e2e" stroke-width="0.9" />
<ellipse rx="1.9" ry="2.6" transform="translate(595.5 307) rotate(21)" fill="#ccc" stroke="#2e2e2e" stroke-width="0.9" />
<ellipse rx="1.2" ry="1.6" transform="translate(615.5 238.5) rotate(21)" fill="#fff" stroke="#2e2e2e" stroke-width="0.8" />
<ellipse rx="1.4" ry="2" transform="translate(580.5 248.5) rotate(21)" fill="#888" stroke="#2e2e2e" stroke-width="0.8" />
<ellipse rx="1" ry="1.5" transform="translate(624.5 271) rotate(21)" fill="#888" stroke="#2e2e2e" stroke-width="0.7" />
<ellipse rx="1.4" ry="2" transform="translate(554 294) rotate(21)" fill="#888" stroke="#2e2e2e" stroke-width="0.8" />
<ellipse rx="13.6" ry="18.4" transform="translate(627.7 310.4) rotate(25)" fill="#fff" stroke="#2e2e2e" stroke-width="1.1" />
<path d="M635.4 293.7 L640 295.8 L624.4 329.2 L619.9 327.1 Z" fill="#fff" stroke="none" stroke-width="1" stroke-linejoin="round" />
<line x1="635.4" y1="293.7" x2="640" y2="295.8" stroke="#2e2e2e" stroke-width="1" />
<line x1="619.9" y1="327.1" x2="624.4" y2="329.2" stroke="#2e2e2e" stroke-width="1" />
<path d="M637.7 294.8 A13.6 18.4 25 0 0 622.2 328.1" fill="none" stroke="#444" stroke-width="0.8" stroke-linejoin="round" />
<ellipse rx="13.6" ry="18.4" transform="translate(632.2 312.5) rotate(25)" fill="#fff" stroke="#2e2e2e" stroke-width="1.2" />
<ellipse rx="11.4" ry="15.6" transform="translate(632.5 312.7) rotate(25)" fill="none" stroke="#333" stroke-width="0.9" />
<ellipse rx="9.2" ry="12.7" transform="translate(632.8 312.9) rotate(25)" fill="none" stroke="#333" stroke-width="3.0" stroke-dasharray="2.4 1.8"/>
<ellipse rx="7" ry="9.6" transform="translate(633.1 313.1) rotate(25)" fill="#fff" stroke="#2e2e2e" stroke-width="1" />
<ellipse rx="5.4" ry="7.6" transform="translate(633.5 313.4) rotate(25)" fill="#fff" stroke="#2e2e2e" stroke-width="1" />
<line x1="610" y1="339" x2="620.5" y2="328.5" stroke="#3a3a3a" stroke-width="0.9" />
<path d="M659.3 318.7 L658.9 317.8 L658.3 316.9 L657.6 316.2 L656.9 315.6 L656 315.1 L655.1 314.7 L654.2 314.5 L653.2 314.4 L652.2 314.4 L651.2 314.6 L650.1 315 L649.1 315.5 L648.2 316.1 L647.2 316.8 L646.4 317.6 L645.6 318.5 L644.8 319.5 L644.2 320.6 L643.7 321.8 L643.3 322.9 L643 324.1 L642.8 325.3 L642.7 326.5 L642.8 327.7 L643 328.8 L643.2 329.9 L643.6 330.9 L644.2 331.8 L644.8 332.6 L645.5 333.3 L646.3 333.9 L647.1 334.3 L648.1 334.6 L649 334.8 L650 334.8 L651 334.7 L652.1 334.4 L653.1 334 L654.1 333.5 L655 332.9 L655.9 332.1 L656.8 331.2 L657.5 330.3 L658.2 329.2 L658.8 328.1 L659.3 327 L659.7 325.8 L659.9 324.6" fill="none" stroke="#333" stroke-width="3.6" stroke-linejoin="round" />
<path d="M658.9 317.8 L658.3 316.9 L657.6 316.2 L656.9 315.6 L656 315.1 L655.1 314.7 L654.2 314.5 L653.2 314.4 L652.2 314.4 L651.2 314.6 L650.1 315 L649.1 315.5 L648.2 316.1 L647.2 316.8 L646.4 317.6 L645.6 318.5 L644.8 319.5 L644.2 320.6 L643.7 321.8 L643.3 322.9 L643 324.1 L642.8 325.3 L642.7 326.5 L642.8 327.7 L643 328.8 L643.2 329.9 L643.6 330.9 L644.2 331.8 L644.8 332.6 L645.5 333.3 L646.3 333.9 L647.1 334.3 L648.1 334.6 L649 334.8 L650 334.8 L651 334.7 L652.1 334.4 L653.1 334 L654.1 333.5 L655 332.9 L655.9 332.1 L656.8 331.2 L657.5 330.3 L658.2 329.2 L658.8 328.1 L659.3 327 L659.7 325.8" fill="none" stroke="#fff" stroke-width="1.2" stroke-linejoin="round" />
<line x1="630.2" y1="348.6" x2="644.5" y2="335.5" stroke="#3a3a3a" stroke-width="0.9" />
<ellipse rx="8.6" ry="11" transform="translate(664.8 330.2) rotate(25)" fill="#555" stroke="#2e2e2e" stroke-width="1" />
<ellipse rx="8.6" ry="11" transform="translate(666.6 331) rotate(25)" fill="#fff" stroke="#2e2e2e" stroke-width="1" />
<ellipse rx="6.9" ry="8.8" transform="translate(667 331.2) rotate(25)" fill="none" stroke="#555" stroke-width="0.8" />
<ellipse rx="5.2" ry="6.6" transform="translate(667.2 331.3) rotate(25)" fill="#fff" stroke="#2e2e2e" stroke-width="1" />
<line x1="648.4" y1="357.5" x2="661.5" y2="341.5" stroke="#3a3a3a" stroke-width="0.9" />
<ellipse rx="21.6" ry="33.5" transform="translate(694.4 346.6) rotate(28)" fill="#fff" stroke="#2e2e2e" stroke-width="1.1" />
<ellipse rx="21.6" ry="33.5" transform="translate(696.4 347.7) rotate(28)" fill="#fff" stroke="#2e2e2e" stroke-width="1.1" />
<ellipse rx="11.5" ry="17.5" transform="translate(701.6 348.6) rotate(28)" fill="#fff" stroke="#2e2e2e" stroke-width="1" />
<ellipse rx="9.6" ry="15" transform="translate(702.4 349) rotate(28)" fill="#fff" stroke="#2e2e2e" stroke-width="1.1" />
<ellipse rx="8" ry="13" transform="translate(703.2 349.4) rotate(28)" fill="#fff" stroke="#555" stroke-width="0.8" />
<ellipse rx="2.1" ry="3" transform="translate(697.5 328.4) rotate(28)" fill="#bbb" stroke="#2e2e2e" stroke-width="0.9" />
<ellipse rx="2.1" ry="3" transform="translate(715.7 332.4) rotate(28)" fill="#bbb" stroke="#2e2e2e" stroke-width="0.9" />
<ellipse rx="2.1" ry="3" transform="translate(684.7 346.6) rotate(28)" fill="#bbb" stroke="#2e2e2e" stroke-width="0.9" />
<ellipse rx="2.1" ry="3" transform="translate(681.7 365.8) rotate(28)" fill="#bbb" stroke="#2e2e2e" stroke-width="0.9" />
<ellipse rx="2.1" ry="3" transform="translate(696.9 369.4) rotate(28)" fill="#bbb" stroke="#2e2e2e" stroke-width="0.9" />
<line x1="661.5" y1="385" x2="675.5" y2="373" stroke="#3a3a3a" stroke-width="0.9" />
<ellipse rx="1.1" ry="2.7" transform="translate(740.5 349.2) rotate(28.5)" fill="#fff" stroke="#2e2e2e" stroke-width="1" />
<path d="M739.2 351.6 L751.7 358.4 L754.3 353.6 L741.8 346.8 Z" fill="#fff" stroke="none" stroke-width="1" stroke-linejoin="round" />
<line x1="739.2" y1="351.6" x2="751.7" y2="358.4" stroke="#2e2e2e" stroke-width="1" />
<line x1="741.8" y1="346.8" x2="754.3" y2="353.6" stroke="#2e2e2e" stroke-width="1" />
<ellipse rx="1.1" ry="2.7" transform="translate(753 356) rotate(28.5)" fill="#fff" stroke="#2e2e2e" stroke-width="1" />
<line x1="744" y1="348" x2="741.4" y2="352.8" stroke="#444" stroke-width="0.7" />
<line x1="746.2" y1="349.2" x2="743.6" y2="354" stroke="#444" stroke-width="0.7" />
<line x1="748.4" y1="350.4" x2="745.8" y2="355.2" stroke="#444" stroke-width="0.7" />
<line x1="750.6" y1="351.6" x2="748" y2="356.4" stroke="#444" stroke-width="0.7" />
<path d="M752.5 351 L757 350.5 L762 353.5 L763 359.5 L759 363.5 L754.5 362 L751.5 357 Z" fill="#fff" stroke="#2e2e2e" stroke-width="1" stroke-linejoin="round" />
<ellipse rx="3.2" ry="4.6" transform="translate(758.5 357.5) rotate(25)" fill="#fff" stroke="#444" stroke-width="0.8" />
<line x1="765" y1="337.5" x2="751.5" y2="349.5" stroke="#3a3a3a" stroke-width="0.9" />
<circle cx="600.5" cy="350.7" r="9" fill="#e8e8e8"/>
<text x="599.5" y="355.4" font-size="13" text-anchor="middle" fill="#686868">15</text>
<circle cx="621.5" cy="357.7" r="9" fill="#e8e8e8"/>
<text x="620.5" y="362.4" font-size="13" text-anchor="middle" fill="#686868">16</text>
<circle cx="640.5" cy="365.8" r="9" fill="#e8e8e8"/>
<text x="639.5" y="370.5" font-size="13" text-anchor="middle" fill="#686868">17</text>
<circle cx="657.5" cy="393" r="9" fill="#e8e8e8"/>
<text x="656.5" y="397.7" font-size="13" text-anchor="middle" fill="#686868">18</text>
<circle cx="770.6" cy="331.8" r="7.5" fill="#e8e8e8"/>
<text x="769.6" y="336.3" font-size="12.5" text-anchor="middle" fill="#686868">7</text>
<path d="M610 429.3 L693.3 467.8 L620.7 547.8 L611.5 543.6" fill="none" stroke="#444" stroke-width="0.9" stroke-linejoin="round" />
<clipPath id="cr0"><ellipse rx="36" ry="53" transform="translate(613.4 484.1) rotate(30)"/></clipPath>
<clipPath id="cr1"><ellipse rx="26.2" ry="43.6" transform="translate(616.1999999999999 485.40000000000003) rotate(30)"/></clipPath>
<ellipse rx="35.5" ry="52.5" transform="translate(611.6 483.1) rotate(30)" fill="#fff" stroke="#2e2e2e" stroke-width="1.1" />
<ellipse rx="35.5" ry="52.5" transform="translate(614.3 484.7) rotate(30)" fill="#fff" stroke="#2e2e2e" stroke-width="1.1" />
<g clip-path="url(#cr0)">
<ellipse rx="32" ry="49" transform="translate(613.4 484.1) rotate(30)" fill="none" stroke="#303030" stroke-width="18" stroke-dasharray="2.2 1.2"/>
<ellipse rx="33.2" ry="50.2" transform="translate(613 483.9) rotate(30)" fill="none" stroke="#fff" stroke-width="0.8" />
</g>
<ellipse rx="36" ry="53" transform="translate(613.4 484.1) rotate(30)" fill="none" stroke="#2e2e2e" stroke-width="1.0" />
<ellipse rx="26.2" ry="43.6" transform="translate(616.2 485.4) rotate(30)" fill="#fff" stroke="#2e2e2e" stroke-width="1.3" />
<g clip-path="url(#cr1)">
<ellipse rx="22" ry="39.5" transform="translate(616.2 485.4) rotate(30)" fill="none" stroke="#303030" stroke-width="12" stroke-dasharray="2 1.2"/>
<ellipse rx="24.2" ry="42" transform="translate(609.6 482.4) rotate(30)" fill="#fff" stroke="#2e2e2e" stroke-width="1.1" />
<path d="M620.8 446.8 Q628.8 475.8 590.8 498.8" fill="none" stroke="#333" stroke-width="1" stroke-linejoin="round" />
<path d="M616.8 450.8 Q623.8 475.8 589.3 495.8" fill="none" stroke="#555" stroke-width="0.8" stroke-linejoin="round" />
<path d="M626.8 447.8 Q636.8 481.8 593.8 505.8" fill="none" stroke="#444" stroke-width="0.9" stroke-linejoin="round" />
<path d="M629.8 491.8 Q620.8 508.8 596.8 513.8" fill="none" stroke="#555" stroke-width="0.8" stroke-linejoin="round" />
<ellipse rx="1.3" ry="1.6" transform="translate(625.3 474.8) rotate(0)" fill="#333" stroke="#2e2e2e" stroke-width="0.6" />
<ellipse rx="1.6" ry="2.2" transform="translate(618.3 473.8) rotate(0)" fill="#fff" stroke="#2e2e2e" stroke-width="0.8" />
<ellipse rx="1.5" ry="2" transform="translate(592.3 500.8) rotate(0)" fill="#fff" stroke="#2e2e2e" stroke-width="0.8" />
</g>
<ellipse rx="26.2" ry="43.6" transform="translate(616.2 485.4) rotate(30)" fill="none" stroke="#2e2e2e" stroke-width="1.2" />
<line x1="604" y1="477" x2="641" y2="499" stroke="#444" stroke-width="0.8" stroke-dasharray="10 3 2 3" />
<line x1="655" y1="507.5" x2="671.5" y2="516.5" stroke="#444" stroke-width="0.9" stroke-dasharray="7 4" />
<ellipse rx="0.6" ry="1.6" transform="translate(662.5 459.8) rotate(31)" fill="#fff" stroke="#2e2e2e" stroke-width="1" />
<path d="M661.7 461.2 L671.2 466.9 L672.8 464.1 L663.3 458.4 Z" fill="#fff" stroke="none" stroke-width="1" stroke-linejoin="round" />
<line x1="661.7" y1="461.2" x2="671.2" y2="466.9" stroke="#2e2e2e" stroke-width="1" />
<line x1="663.3" y1="458.4" x2="672.8" y2="464.1" stroke="#2e2e2e" stroke-width="1" />
<ellipse rx="0.6" ry="1.6" transform="translate(672 465.5) rotate(31)" fill="#fff" stroke="#2e2e2e" stroke-width="1" />
<ellipse rx="3.1" ry="3.7" transform="translate(675.2 467.4) rotate(0)" fill="#fff" stroke="#2e2e2e" stroke-width="1" />
<line x1="664" y1="486" x2="671.3" y2="469.5" stroke="#3a3a3a" stroke-width="0.9" />
<line x1="641" y1="545.5" x2="628" y2="520.5" stroke="#3a3a3a" stroke-width="0.9" />
<circle cx="660.2" cy="493" r="9" fill="#e8e8e8"/>
<text x="659.2" y="497.7" font-size="13" text-anchor="middle" fill="#686868">41</text>
<circle cx="644.6" cy="554.5" r="9" fill="#e8e8e8"/>
<text x="643.6" y="559.2" font-size="13" text-anchor="middle" fill="#686868">40</text>
<ellipse rx="16.5" ry="24.5" transform="translate(684.3 526.3) rotate(27)" fill="#2c2c2c" stroke="#2e2e2e" stroke-width="1" />
<ellipse rx="16.5" ry="24.5" transform="translate(686.3 527.3) rotate(27)" fill="#fff" stroke="#2e2e2e" stroke-width="1" />
<ellipse rx="15.5" ry="23.3" transform="translate(688.3 528.4) rotate(27)" fill="#fff" stroke="#444" stroke-width="0.9" />
<ellipse rx="17.5" ry="23.6" transform="translate(690 529.5) rotate(21.4)" fill="#fff" stroke="#2e2e2e" stroke-width="1" />
<path d="M681.4 551.5 L697 557.6 L714.2 513.6 L698.6 507.5 Z" fill="#fff" stroke="none" stroke-width="1" stroke-linejoin="round" />
<line x1="681.4" y1="551.5" x2="697" y2="557.6" stroke="#2e2e2e" stroke-width="1" />
<line x1="698.6" y1="507.5" x2="714.2" y2="513.6" stroke="#2e2e2e" stroke-width="1" />
<ellipse rx="17.5" ry="23.6" transform="translate(705.6 535.6) rotate(21.4)" fill="#fff" stroke="#2e2e2e" stroke-width="1" />
<path d="M707.7 511.3 A17.4 23.6 27 0 0 686.3 553.3" fill="none" stroke="#444" stroke-width="0.8" stroke-linejoin="round" />
<ellipse rx="17.5" ry="23.6" transform="translate(705.6 535.6) rotate(27)" fill="#fff" stroke="#2e2e2e" stroke-width="1.1" />
<ellipse rx="13.3" ry="18.8" transform="translate(706.2 536.2) rotate(27)" fill="#fff" stroke="#2e2e2e" stroke-width="1.1" />
<clipPath id="c24"><ellipse rx="12.8" ry="18.3" transform="translate(706.2 536.2) rotate(27)"/></clipPath>
<g clip-path="url(#c24)">
<line x1="694" y1="516.5" x2="716" y2="527" stroke="#2c2c2c" stroke-width="3.2" />
<line x1="695" y1="517" x2="715" y2="526.5" stroke="#bbb" stroke-width="0.8" />
<line x1="694" y1="524.5" x2="716" y2="535" stroke="#2c2c2c" stroke-width="3.6" />
<line x1="695" y1="525" x2="715" y2="534.5" stroke="#bbb" stroke-width="0.8" />
<line x1="694" y1="533" x2="716" y2="543.5" stroke="#2c2c2c" stroke-width="3.6" />
<line x1="695" y1="533.5" x2="715" y2="543" stroke="#bbb" stroke-width="0.8" />
<line x1="694" y1="540.5" x2="716" y2="551" stroke="#2c2c2c" stroke-width="3.0" />
<line x1="695" y1="541" x2="715" y2="550.5" stroke="#bbb" stroke-width="0.8" />
<path d="M699 520 Q692 536 702 553" fill="none" stroke="#333" stroke-width="1" stroke-linejoin="round" />
</g>
<path d="M701 511.5 L705 510.3 L706 513.2 L702.5 514.6 Z" fill="#fff" stroke="#2e2e2e" stroke-width="0.8" stroke-linejoin="round" />
<path d="M683 545.5 L687 544.8 L688 548 L684.5 549 Z" fill="#fff" stroke="#2e2e2e" stroke-width="0.8" stroke-linejoin="round" />
<line x1="720.3" y1="497.6" x2="708.5" y2="508.6" stroke="#3a3a3a" stroke-width="0.9" />
<circle cx="728.6" cy="489.5" r="9" fill="#e8e8e8"/>
<text x="727.6" y="494.2" font-size="13" text-anchor="middle" fill="#686868">24</text>
<path d="M761.3 564.7 L762.6 566.4 L761.8 567.8 L759.9 567.3 L759.2 568.4 L760.2 570.4 L759.3 571.7 L757.5 570.8 L756.8 571.8 L757.4 574.1 L756.4 575.2 L754.9 574 L754.1 574.8 L754.4 577.4 L753.3 578.4 L752.1 576.7 L751.2 577.4 L751.1 580.1 L750 580.9 L749.1 578.9 L748.2 579.5 L747.8 582.3 L746.6 582.9 L746 580.6 L745.1 581 L744.4 583.9 L743.2 584.3 L743 581.7 L742 581.9 L741 584.8 L739.9 585 L740 582.2 L739.1 582.3 L737.8 585.1 L736.7 585 L737.1 582.1 L736.3 582 L734.7 584.6 L733.7 584.3 L734.5 581.4 L733.8 581 L732 583.5 L731.1 582.9 L732.2 580 L731.6 579.5 L729.5 581.7 L728.8 580.9 L730.2 578.1 L729.7 577.5 L727.5 579.3 L727 578.3 L728.6 575.7 L728.2 574.9 L726 576.3 L725.6 575.2 L727.4 572.8 L727.2 571.9 L724.9 572.9 L724.7 571.6 L726.7 569.5 L726.6 568.5 L724.4 569.1 L724.3 567.7 L726.5 566 L726.5 564.8 L724.4 565 L724.5 563.5 L726.7 562.2 L726.9 561 L724.9 560.6 L725.2 559.2 L727.5 558.2 L727.8 557 L726 556.2 L726.4 554.7 L728.6 554.3 L729.1 553.1 L727.5 551.9 L728.1 550.4 L730.3 550.4 L730.8 549.2 L729.5 547.6 L730.3 546.2 L732.3 546.6 L732.9 545.5 L731.9 543.6 L732.8 542.3 L734.6 543.1 L735.4 542.2 L734.7 539.9 L735.7 538.7 L737.2 540 L738 539.1 L737.7 536.6 L738.8 535.6 L740 537.3 L740.9 536.6 L741 533.8 L742.1 533 L743 535 L743.9 534.5 L744.3 531.6 L745.5 531 L746.1 533.4 L747 533 L747.7 530 L748.9 529.7 L749.2 532.2 L750.1 532 L751.1 529.1 L752.2 529 L752.1 531.7 L753 531.7 L754.3 528.9 L755.4 529 L755 531.8 L755.8 532 L757.4 529.4 L758.4 529.7 L757.6 532.6 L758.3 532.9 L760.1 530.5 L761 531 L759.9 533.9 L760.5 534.4 L762.6 532.3 L763.3 533 L761.9 535.8 L762.4 536.5 L764.6 534.7 L765.1 535.6 L763.5 538.2 L763.9 539.1 L766.1 537.6 L766.5 538.8 L764.7 541.1 L764.9 542.1 L767.2 541.1 L767.4 542.3 L765.4 544.4 L765.5 545.5 L767.7 544.9 L767.8 546.3 L765.6 548 L765.6 549.1 L767.7 549 L767.6 550.5 L765.4 551.8 L765.2 553 L767.2 553.3 L766.9 554.8 L764.6 555.7 L764.3 556.9 L766.1 557.7 L765.7 559.2 L763.5 559.7 L763 560.9 L764.6 562.1 L764 563.6 L761.9 563.6 Z" fill="#333" stroke="#333" stroke-width="0.6" stroke-linejoin="round" />
<path d="M762.2 565.2 L763.5 566.8 L762.7 568.2 L760.7 567.8 L760.1 568.9 L761.1 570.8 L760.2 572.1 L758.4 571.3 L757.6 572.3 L758.3 574.5 L757.3 575.7 L755.8 574.4 L755 575.3 L755.3 577.8 L754.2 578.8 L752.9 577.1 L752.1 577.9 L752 580.6 L750.9 581.4 L750 579.4 L749.1 579.9 L748.7 582.8 L747.5 583.4 L746.9 581.1 L746 581.5 L745.3 584.4 L744.1 584.8 L743.8 582.2 L742.9 582.4 L741.9 585.3 L740.8 585.4 L740.9 582.7 L740 582.7 L738.7 585.5 L737.6 585.4 L738 582.6 L737.2 582.4 L735.6 585 L734.6 584.7 L735.4 581.8 L734.7 581.5 L732.9 583.9 L732 583.4 L733.1 580.5 L732.5 580 L730.4 582.1 L729.7 581.4 L731.1 578.6 L730.6 577.9 L728.4 579.7 L727.9 578.8 L729.5 576.2 L729.1 575.3 L726.9 576.8 L726.5 575.7 L728.3 573.3 L728.1 572.3 L725.8 573.3 L725.6 572.1 L727.6 570 L727.5 569 L725.3 569.5 L725.2 568.2 L727.4 566.4 L727.4 565.3 L725.3 565.4 L725.4 564 L727.6 562.6 L727.8 561.4 L725.8 561.1 L726.1 559.6 L728.4 558.7 L728.7 557.5 L726.9 556.7 L727.3 555.2 L729.5 554.7 L730 553.5 L728.4 552.3 L729 550.8 L731.1 550.8 L731.7 549.7 L730.4 548.1 L731.2 546.7 L733.1 547.1 L733.8 546 L732.8 544 L733.7 542.7 L735.5 543.6 L736.2 542.6 L735.6 540.3 L736.6 539.2 L738.1 540.5 L738.9 539.6 L738.6 537.1 L739.7 536.1 L740.9 537.7 L741.8 537 L741.8 534.3 L743 533.5 L743.9 535.5 L744.8 534.9 L745.2 532.1 L746.4 531.5 L747 533.8 L747.9 533.4 L748.6 530.5 L749.8 530.1 L750 532.7 L750.9 532.5 L752 529.6 L753.1 529.4 L753 532.2 L753.9 532.2 L755.2 529.4 L756.3 529.4 L755.9 532.3 L756.7 532.5 L758.3 529.8 L759.3 530.1 L758.5 533 L759.2 533.4 L761 531 L761.9 531.5 L760.8 534.4 L761.4 534.9 L763.5 532.8 L764.2 533.5 L762.8 536.3 L763.3 537 L765.5 535.2 L766 536.1 L764.4 538.7 L764.8 539.5 L767 538.1 L767.4 539.2 L765.6 541.6 L765.8 542.5 L768.1 541.5 L768.3 542.8 L766.3 544.9 L766.4 545.9 L768.6 545.3 L768.7 546.7 L766.5 548.5 L766.5 549.6 L768.6 549.5 L768.5 550.9 L766.3 552.3 L766.1 553.4 L768.1 553.8 L767.8 555.3 L765.5 556.2 L765.2 557.4 L767 558.2 L766.6 559.7 L764.3 560.2 L763.9 561.3 L765.5 562.6 L764.9 564 L762.7 564.1 Z" fill="#333" stroke="#333" stroke-width="0.6" stroke-linejoin="round" />
<path d="M763.1 565.7 L764.4 567.3 L763.6 568.7 L761.6 568.2 L761 569.3 L762 571.3 L761.1 572.6 L759.3 571.7 L758.5 572.7 L759.2 575 L758.2 576.2 L756.7 574.9 L755.8 575.7 L756.2 578.3 L755.1 579.3 L753.8 577.6 L753 578.3 L752.9 581 L751.8 581.9 L750.9 579.8 L749.9 580.4 L749.6 583.2 L748.4 583.8 L747.8 581.5 L746.9 581.9 L746.2 584.8 L745 585.2 L744.7 582.6 L743.8 582.8 L742.8 585.7 L741.7 585.9 L741.8 583.1 L740.9 583.2 L739.5 586 L738.5 585.9 L738.9 583 L738.1 582.9 L736.5 585.5 L735.5 585.2 L736.3 582.3 L735.6 581.9 L733.7 584.4 L732.9 583.8 L734 580.9 L733.3 580.4 L731.3 582.6 L730.6 581.8 L732 579 L731.5 578.4 L729.3 580.2 L728.7 579.2 L730.4 576.6 L730 575.8 L727.8 577.2 L727.4 576.1 L729.2 573.7 L729 572.8 L726.7 573.8 L726.5 572.5 L728.5 570.5 L728.4 569.4 L726.2 570 L726.1 568.6 L728.3 566.9 L728.3 565.7 L726.2 565.9 L726.3 564.4 L728.5 563.1 L728.7 561.9 L726.7 561.6 L727 560.1 L729.3 559.1 L729.6 557.9 L727.8 557.1 L728.2 555.7 L730.4 555.2 L730.9 554 L729.3 552.8 L729.9 551.3 L732 551.3 L732.6 550.1 L731.3 548.5 L732.1 547.1 L734 547.5 L734.7 546.5 L733.7 544.5 L734.6 543.2 L736.4 544.1 L737.1 543.1 L736.5 540.8 L737.5 539.6 L739 540.9 L739.8 540 L739.5 537.5 L740.6 536.5 L741.8 538.2 L742.7 537.5 L742.7 534.7 L743.9 533.9 L744.8 536 L745.7 535.4 L746.1 532.5 L747.3 531.9 L747.9 534.3 L748.8 533.9 L749.5 531 L750.7 530.6 L750.9 533.1 L751.8 532.9 L752.9 530 L754 529.9 L753.9 532.6 L754.8 532.6 L756.1 529.8 L757.2 529.9 L756.7 532.8 L757.6 532.9 L759.2 530.3 L760.1 530.6 L759.4 533.5 L760.1 533.8 L761.9 531.4 L762.8 531.9 L761.7 534.8 L762.3 535.3 L764.3 533.2 L765.1 534 L763.7 536.7 L764.2 537.4 L766.3 535.6 L766.9 536.5 L765.3 539.2 L765.7 540 L767.9 538.6 L768.3 539.7 L766.4 542 L766.7 543 L769 542 L769.2 543.2 L767.2 545.3 L767.3 546.4 L769.5 545.8 L769.6 547.2 L767.4 548.9 L767.4 550 L769.5 549.9 L769.4 551.4 L767.1 552.7 L767 553.9 L769 554.2 L768.7 555.7 L766.4 556.6 L766.1 557.8 L767.9 558.6 L767.4 560.1 L765.2 560.6 L764.8 561.8 L766.4 563 L765.7 564.5 L763.6 564.5 Z" fill="#333" stroke="#333" stroke-width="0.6" stroke-linejoin="round" />
<path d="M764 566.1 L765.3 567.7 L764.5 569.1 L762.5 568.7 L761.9 569.8 L762.9 571.7 L762 573 L760.2 572.2 L759.4 573.2 L760.1 575.4 L759.1 576.6 L757.6 575.3 L756.7 576.2 L757.1 578.7 L756 579.7 L754.7 578 L753.8 578.8 L753.8 581.5 L752.7 582.3 L751.7 580.3 L750.8 580.8 L750.5 583.7 L749.3 584.3 L748.7 582 L747.8 582.4 L747 585.3 L745.9 585.7 L745.6 583.1 L744.7 583.3 L743.7 586.2 L742.6 586.3 L742.6 583.6 L741.8 583.6 L740.4 586.4 L739.4 586.3 L739.8 583.5 L739 583.3 L737.4 586 L736.4 585.6 L737.2 582.7 L736.5 582.4 L734.6 584.8 L733.8 584.3 L734.9 581.4 L734.2 580.9 L732.2 583 L731.5 582.3 L732.9 579.5 L732.4 578.8 L730.2 580.6 L729.6 579.7 L731.3 577.1 L730.9 576.3 L728.7 577.7 L728.2 576.6 L730.1 574.2 L729.9 573.2 L727.6 574.2 L727.4 573 L729.4 570.9 L729.3 569.9 L727.1 570.4 L727 569.1 L729.2 567.3 L729.2 566.2 L727.1 566.3 L727.2 564.9 L729.4 563.5 L729.6 562.3 L727.6 562 L727.9 560.5 L730.1 559.6 L730.4 558.4 L728.6 557.6 L729.1 556.1 L731.3 555.6 L731.8 554.4 L730.2 553.2 L730.8 551.8 L732.9 551.7 L733.5 550.6 L732.2 549 L733 547.6 L734.9 548 L735.6 546.9 L734.6 544.9 L735.5 543.6 L737.3 544.5 L738 543.5 L737.4 541.2 L738.4 540.1 L739.9 541.4 L740.7 540.5 L740.4 538 L741.5 537 L742.7 538.6 L743.6 537.9 L743.6 535.2 L744.8 534.4 L745.7 536.4 L746.6 535.8 L747 533 L748.2 532.4 L748.8 534.7 L749.7 534.3 L750.4 531.4 L751.6 531 L751.8 533.6 L752.7 533.4 L753.8 530.5 L754.9 530.3 L754.8 533.1 L755.7 533.1 L757 530.3 L758.1 530.3 L757.6 533.2 L758.4 533.4 L760.1 530.7 L761 531 L760.3 533.9 L761 534.3 L762.8 531.9 L763.7 532.4 L762.6 535.3 L763.2 535.8 L765.2 533.7 L766 534.4 L764.6 537.2 L765.1 537.9 L767.2 536.1 L767.8 537 L766.2 539.6 L766.6 540.4 L768.8 539 L769.2 540.1 L767.3 542.5 L767.6 543.4 L769.8 542.4 L770.1 543.7 L768 545.8 L768.2 546.8 L770.4 546.3 L770.4 547.6 L768.3 549.4 L768.3 550.5 L770.4 550.4 L770.3 551.8 L768 553.2 L767.9 554.3 L769.9 554.7 L769.6 556.2 L767.3 557.1 L767 558.3 L768.8 559.1 L768.3 560.6 L766.1 561.1 L765.7 562.2 L767.3 563.5 L766.6 564.9 L764.5 565 Z" fill="#333" stroke="#333" stroke-width="0.6" stroke-linejoin="round" />
<path d="M764.9 566.6 L766.2 568.2 L765.4 569.6 L763.4 569.2 L762.7 570.2 L763.7 572.2 L762.8 573.5 L761.1 572.6 L760.3 573.6 L761 575.9 L760 577.1 L758.5 575.8 L757.6 576.6 L758 579.2 L756.9 580.2 L755.6 578.5 L754.7 579.2 L754.7 581.9 L753.6 582.8 L752.6 580.7 L751.7 581.3 L751.3 584.1 L750.2 584.8 L749.6 582.4 L748.7 582.8 L747.9 585.7 L746.8 586.1 L746.5 583.5 L745.6 583.8 L744.6 586.6 L743.4 586.8 L743.5 584 L742.7 584.1 L741.3 586.9 L740.3 586.8 L740.7 583.9 L739.9 583.8 L738.3 586.4 L737.3 586.1 L738.1 583.2 L737.4 582.9 L735.5 585.3 L734.7 584.7 L735.8 581.9 L735.1 581.3 L733.1 583.5 L732.4 582.7 L733.8 580 L733.3 579.3 L731.1 581.1 L730.5 580.1 L732.2 577.5 L731.8 576.7 L729.6 578.1 L729.1 577 L731 574.6 L730.7 573.7 L728.5 574.7 L728.3 573.4 L730.3 571.4 L730.2 570.3 L728 570.9 L727.9 569.5 L730.1 567.8 L730.1 566.7 L728 566.8 L728.1 565.3 L730.3 564 L730.5 562.8 L728.5 562.5 L728.8 561 L731 560 L731.3 558.8 L729.5 558.1 L730 556.6 L732.2 556.1 L732.7 554.9 L731.1 553.7 L731.7 552.2 L733.8 552.2 L734.4 551 L733.1 549.4 L733.9 548 L735.8 548.4 L736.5 547.4 L735.5 545.4 L736.4 544.1 L738.2 545 L738.9 544 L738.2 541.7 L739.2 540.5 L740.8 541.8 L741.6 541 L741.3 538.4 L742.4 537.4 L743.6 539.1 L744.5 538.4 L744.5 535.6 L745.7 534.8 L746.6 536.9 L747.5 536.3 L747.9 533.4 L749 532.8 L749.7 535.2 L750.6 534.8 L751.3 531.9 L752.5 531.5 L752.7 534.1 L753.6 533.8 L754.7 530.9 L755.8 530.8 L755.7 533.5 L756.6 533.5 L757.9 530.7 L759 530.8 L758.5 533.7 L759.3 533.8 L760.9 531.2 L761.9 531.5 L761.1 534.4 L761.9 534.7 L763.7 532.3 L764.6 532.9 L763.5 535.7 L764.1 536.2 L766.1 534.1 L766.9 534.9 L765.5 537.6 L766 538.3 L768.1 536.5 L768.7 537.5 L767.1 540.1 L767.5 540.9 L769.7 539.5 L770.1 540.6 L768.2 543 L768.5 543.9 L770.7 542.9 L771 544.1 L768.9 546.2 L769.1 547.3 L771.3 546.7 L771.3 548.1 L769.2 549.8 L769.1 550.9 L771.3 550.8 L771.2 552.3 L768.9 553.6 L768.8 554.8 L770.8 555.1 L770.5 556.6 L768.2 557.6 L767.9 558.7 L769.7 559.5 L769.2 561 L767 561.5 L766.6 562.7 L768.2 563.9 L767.5 565.4 L765.4 565.4 Z" fill="#333" stroke="#333" stroke-width="0.6" stroke-linejoin="round" />
<path d="M765.7 567 L767 568.6 L766.3 570 L764.3 569.6 L763.6 570.7 L764.6 572.7 L763.7 574 L762 573.1 L761.2 574.1 L761.9 576.3 L760.9 577.5 L759.4 576.2 L758.5 577.1 L758.8 579.6 L757.8 580.6 L756.5 578.9 L755.6 579.7 L755.6 582.4 L754.5 583.2 L753.5 581.2 L752.6 581.7 L752.2 584.6 L751.1 585.2 L750.5 582.9 L749.5 583.3 L748.8 586.2 L747.7 586.6 L747.4 584 L746.5 584.2 L745.5 587.1 L744.3 587.3 L744.4 584.5 L743.6 584.5 L742.2 587.3 L741.2 587.2 L741.6 584.4 L740.8 584.2 L739.2 586.9 L738.2 586.6 L739 583.6 L738.3 583.3 L736.4 585.7 L735.6 585.2 L736.7 582.3 L736 581.8 L734 583.9 L733.3 583.2 L734.7 580.4 L734.1 579.7 L732 581.5 L731.4 580.6 L733.1 578 L732.7 577.2 L730.4 578.6 L730 577.5 L731.9 575.1 L731.6 574.1 L729.4 575.2 L729.1 573.9 L731.2 571.8 L731.1 570.8 L728.8 571.3 L728.8 570 L731 568.2 L731 567.1 L728.8 567.2 L729 565.8 L731.2 564.4 L731.4 563.3 L729.4 562.9 L729.7 561.4 L731.9 560.5 L732.2 559.3 L730.4 558.5 L730.9 557 L733.1 556.5 L733.5 555.3 L732 554.1 L732.6 552.7 L734.7 552.6 L735.3 551.5 L734 549.9 L734.7 548.5 L736.7 548.9 L737.4 547.8 L736.4 545.8 L737.3 544.5 L739 545.4 L739.8 544.4 L739.1 542.1 L740.1 541 L741.7 542.3 L742.5 541.4 L742.2 538.9 L743.3 537.9 L744.5 539.6 L745.4 538.8 L745.4 536.1 L746.5 535.3 L747.5 537.3 L748.4 536.7 L748.8 533.9 L749.9 533.3 L750.5 535.6 L751.5 535.2 L752.2 532.3 L753.3 531.9 L753.6 534.5 L754.5 534.3 L755.6 531.4 L756.7 531.2 L756.6 534 L757.5 534 L758.8 531.2 L759.9 531.3 L759.4 534.1 L760.2 534.3 L761.8 531.6 L762.8 531.9 L762 534.9 L762.8 535.2 L764.6 532.8 L765.5 533.3 L764.4 536.2 L765 536.7 L767 534.6 L767.7 535.3 L766.4 538.1 L766.9 538.8 L769 537 L769.6 537.9 L768 540.5 L768.3 541.3 L770.6 539.9 L771 541 L769.1 543.4 L769.4 544.3 L771.6 543.3 L771.9 544.6 L769.8 546.7 L769.9 547.7 L772.2 547.2 L772.2 548.5 L770.1 550.3 L770 551.4 L772.2 551.3 L772.1 552.7 L769.8 554.1 L769.6 555.2 L771.6 555.6 L771.3 557.1 L769.1 558 L768.8 559.2 L770.6 560 L770.1 561.5 L767.9 562 L767.5 563.2 L769 564.4 L768.4 565.8 L766.3 565.9 Z" fill="#333" stroke="#333" stroke-width="0.6" stroke-linejoin="round" />
<path d="M766.6 567.5 L767.9 569.1 L767.2 570.5 L765.2 570.1 L764.5 571.1 L765.5 573.1 L764.6 574.4 L762.9 573.5 L762.1 574.5 L762.8 576.8 L761.8 578 L760.2 576.7 L759.4 577.5 L759.7 580.1 L758.7 581.1 L757.4 579.4 L756.5 580.1 L756.5 582.9 L755.4 583.7 L754.4 581.6 L753.5 582.2 L753.1 585.1 L752 585.7 L751.4 583.3 L750.4 583.7 L749.7 586.6 L748.6 587 L748.3 584.4 L747.4 584.7 L746.4 587.6 L745.2 587.7 L745.3 585 L744.4 585 L743.1 587.8 L742 587.7 L742.5 584.8 L741.7 584.7 L740.1 587.3 L739.1 587 L739.9 584.1 L739.1 583.8 L737.3 586.2 L736.4 585.6 L737.5 582.8 L736.9 582.2 L734.9 584.4 L734.2 583.6 L735.6 580.9 L735 580.2 L732.9 582 L732.3 581 L734 578.4 L733.6 577.6 L731.3 579 L730.9 577.9 L732.8 575.5 L732.5 574.6 L730.3 575.6 L730 574.4 L732.1 572.3 L732 571.2 L729.7 571.8 L729.7 570.4 L731.8 568.7 L731.9 567.6 L729.7 567.7 L729.9 566.2 L732.1 564.9 L732.3 563.7 L730.3 563.4 L730.6 561.9 L732.8 560.9 L733.1 559.8 L731.3 559 L731.8 557.5 L734 557 L734.4 555.8 L732.9 554.6 L733.5 553.1 L735.6 553.1 L736.2 551.9 L734.9 550.3 L735.6 548.9 L737.6 549.3 L738.3 548.3 L737.3 546.3 L738.2 545 L739.9 545.9 L740.7 544.9 L740 542.6 L741 541.4 L742.6 542.7 L743.4 541.9 L743.1 539.3 L744.1 538.3 L745.4 540 L746.3 539.3 L746.3 536.6 L747.4 535.7 L748.4 537.8 L749.3 537.2 L749.7 534.4 L750.8 533.7 L751.4 536.1 L752.4 535.7 L753.1 532.8 L754.2 532.4 L754.5 535 L755.4 534.7 L756.4 531.9 L757.6 531.7 L757.5 534.5 L758.3 534.4 L759.7 531.6 L760.8 531.7 L760.3 534.6 L761.1 534.7 L762.7 532.1 L763.7 532.4 L762.9 535.3 L763.7 535.6 L765.5 533.2 L766.4 533.8 L765.3 536.6 L765.9 537.2 L767.9 535 L768.6 535.8 L767.2 538.5 L767.8 539.2 L769.9 537.4 L770.5 538.4 L768.8 541 L769.2 541.8 L771.5 540.4 L771.9 541.5 L770 543.9 L770.3 544.8 L772.5 543.8 L772.8 545.1 L770.7 547.1 L770.8 548.2 L773.1 547.6 L773.1 549 L771 550.7 L770.9 551.8 L773.1 551.7 L772.9 553.2 L770.7 554.5 L770.5 555.7 L772.5 556 L772.2 557.5 L770 558.5 L769.7 559.7 L771.5 560.4 L771 561.9 L768.8 562.4 L768.4 563.6 L769.9 564.8 L769.3 566.3 L767.2 566.3 Z" fill="#333" stroke="#333" stroke-width="0.6" stroke-linejoin="round" />
<path d="M767.5 567.9 L768.8 569.5 L768.1 570.9 L766.1 570.5 L765.4 571.6 L766.4 573.6 L765.5 574.9 L763.8 574 L763 575 L763.7 577.3 L762.7 578.4 L761.1 577.1 L760.3 578 L760.6 580.5 L759.5 581.5 L758.3 579.9 L757.4 580.6 L757.4 583.3 L756.3 584.1 L755.3 582.1 L754.4 582.7 L754 585.5 L752.9 586.1 L752.3 583.8 L751.3 584.2 L750.6 587.1 L749.5 587.5 L749.2 584.9 L748.3 585.1 L747.2 588 L746.1 588.2 L746.2 585.4 L745.3 585.4 L744 588.2 L742.9 588.2 L743.4 585.3 L742.6 585.1 L741 587.8 L740 587.5 L740.8 584.6 L740 584.2 L738.2 586.6 L737.3 586.1 L738.4 583.2 L737.8 582.7 L735.8 584.8 L735.1 584.1 L736.4 581.3 L735.9 580.6 L733.8 582.4 L733.2 581.5 L734.8 578.9 L734.5 578.1 L732.2 579.5 L731.8 578.4 L733.7 576 L733.4 575.1 L731.2 576.1 L730.9 574.8 L733 572.7 L732.8 571.7 L730.6 572.2 L730.6 570.9 L732.7 569.1 L732.8 568 L730.6 568.1 L730.7 566.7 L733 565.3 L733.2 564.2 L731.2 563.8 L731.5 562.3 L733.7 561.4 L734 560.2 L732.2 559.4 L732.7 557.9 L734.9 557.4 L735.3 556.3 L733.8 555 L734.4 553.6 L736.5 553.5 L737.1 552.4 L735.8 550.8 L736.5 549.4 L738.5 549.8 L739.2 548.7 L738.2 546.8 L739.1 545.5 L740.8 546.3 L741.6 545.3 L740.9 543.1 L741.9 541.9 L743.4 543.2 L744.3 542.3 L744 539.8 L745 538.8 L746.3 540.5 L747.2 539.7 L747.2 537 L748.3 536.2 L749.3 538.2 L750.2 537.7 L750.6 534.8 L751.7 534.2 L752.3 536.5 L753.3 536.1 L754 533.2 L755.1 532.8 L755.4 535.4 L756.3 535.2 L757.3 532.3 L758.5 532.2 L758.4 534.9 L759.2 534.9 L760.6 532.1 L761.6 532.2 L761.2 535 L762 535.2 L763.6 532.5 L764.6 532.9 L763.8 535.8 L764.5 536.1 L766.4 533.7 L767.2 534.2 L766.1 537.1 L766.8 537.6 L768.8 535.5 L769.5 536.2 L768.1 539 L768.7 539.7 L770.8 537.9 L771.4 538.8 L769.7 541.4 L770.1 542.2 L772.4 540.8 L772.8 541.9 L770.9 544.3 L771.2 545.3 L773.4 544.3 L773.7 545.5 L771.6 547.6 L771.7 548.6 L773.9 548.1 L774 549.4 L771.8 551.2 L771.8 552.3 L774 552.2 L773.8 553.6 L771.6 555 L771.4 556.2 L773.4 556.5 L773.1 558 L770.9 558.9 L770.6 560.1 L772.4 560.9 L771.9 562.4 L769.7 562.9 L769.3 564.1 L770.8 565.3 L770.2 566.7 L768.1 566.8 Z" fill="#333" stroke="#333" stroke-width="0.6" stroke-linejoin="round" />
<path d="M768.4 568.4 L769.7 570 L768.9 571.4 L767 571 L766.3 572 L767.3 574 L766.4 575.3 L764.6 574.4 L763.9 575.4 L764.6 577.7 L763.5 578.9 L762 577.6 L761.2 578.4 L761.5 581 L760.4 582 L759.2 580.3 L758.3 581 L758.3 583.8 L757.1 584.6 L756.2 582.5 L755.3 583.1 L754.9 586 L753.8 586.6 L753.1 584.2 L752.2 584.6 L751.5 587.5 L750.3 587.9 L750.1 585.4 L749.2 585.6 L748.1 588.5 L747 588.6 L747.1 585.9 L746.2 585.9 L744.9 588.7 L743.8 588.6 L744.3 585.7 L743.5 585.6 L741.8 588.2 L740.9 587.9 L741.7 585 L740.9 584.7 L739.1 587.1 L738.2 586.5 L739.3 583.7 L738.7 583.2 L736.7 585.3 L735.9 584.5 L737.3 581.8 L736.8 581.1 L734.7 582.9 L734.1 581.9 L735.7 579.3 L735.3 578.5 L733.1 579.9 L732.7 578.8 L734.6 576.5 L734.3 575.5 L732.1 576.5 L731.8 575.3 L733.9 573.2 L733.7 572.1 L731.5 572.7 L731.5 571.3 L733.6 569.6 L733.7 568.5 L731.5 568.6 L731.6 567.1 L733.9 565.8 L734 564.6 L732 564.3 L732.3 562.8 L734.6 561.9 L734.9 560.7 L733.1 559.9 L733.6 558.4 L735.8 557.9 L736.2 556.7 L734.6 555.5 L735.3 554 L737.4 554 L737.9 552.8 L736.6 551.2 L737.4 549.8 L739.4 550.3 L740.1 549.2 L739.1 547.2 L740 545.9 L741.7 546.8 L742.5 545.8 L741.8 543.5 L742.8 542.3 L744.3 543.6 L745.2 542.8 L744.8 540.2 L745.9 539.2 L747.2 540.9 L748.1 540.2 L748.1 537.5 L749.2 536.6 L750.2 538.7 L751.1 538.1 L751.5 535.3 L752.6 534.6 L753.2 537 L754.1 536.6 L754.9 533.7 L756 533.3 L756.3 535.9 L757.2 535.7 L758.2 532.8 L759.4 532.6 L759.3 535.4 L760.1 535.3 L761.5 532.5 L762.5 532.6 L762.1 535.5 L762.9 535.6 L764.5 533 L765.5 533.3 L764.7 536.2 L765.4 536.6 L767.3 534.1 L768.1 534.7 L767 537.6 L767.7 538.1 L769.7 535.9 L770.4 536.7 L769 539.5 L769.5 540.1 L771.7 538.3 L772.3 539.3 L770.6 541.9 L771 542.7 L773.2 541.3 L773.7 542.4 L771.8 544.8 L772.1 545.7 L774.3 544.7 L774.5 546 L772.5 548 L772.6 549.1 L774.8 548.5 L774.9 549.9 L772.7 551.6 L772.7 552.8 L774.8 552.6 L774.7 554.1 L772.5 555.4 L772.3 556.6 L774.3 556.9 L774 558.4 L771.8 559.4 L771.5 560.6 L773.3 561.3 L772.8 562.8 L770.6 563.3 L770.1 564.5 L771.7 565.7 L771.1 567.2 L769 567.2 Z" fill="#333" stroke="#333" stroke-width="0.6" stroke-linejoin="round" />
<path d="M769.3 568.8 L770.6 570.4 L769.8 571.8 L767.9 571.4 L767.2 572.5 L768.2 574.5 L767.3 575.8 L765.5 574.9 L764.8 575.9 L765.4 578.2 L764.4 579.3 L762.9 578 L762.1 578.9 L762.4 581.4 L761.3 582.4 L760.1 580.8 L759.2 581.5 L759.2 584.2 L758 585 L757.1 583 L756.2 583.6 L755.8 586.4 L754.6 587 L754 584.7 L753.1 585.1 L752.4 588 L751.2 588.4 L751 585.8 L750.1 586 L749 588.9 L747.9 589.1 L748 586.3 L747.1 586.3 L745.8 589.1 L744.7 589.1 L745.2 586.2 L744.3 586 L742.7 588.7 L741.8 588.4 L742.5 585.5 L741.8 585.1 L740 587.5 L739.1 587 L740.2 584.1 L739.6 583.6 L737.6 585.7 L736.8 585 L738.2 582.2 L737.7 581.5 L735.6 583.3 L735 582.4 L736.6 579.8 L736.2 579 L734 580.4 L733.6 579.3 L735.5 576.9 L735.2 576 L733 577 L732.7 575.7 L734.8 573.6 L734.6 572.6 L732.4 573.2 L732.4 571.8 L734.5 570 L734.5 568.9 L732.4 569 L732.5 567.6 L734.8 566.2 L734.9 565.1 L732.9 564.7 L733.2 563.2 L735.5 562.3 L735.8 561.1 L734 560.3 L734.5 558.8 L736.7 558.3 L737.1 557.2 L735.5 555.9 L736.2 554.5 L738.3 554.4 L738.8 553.3 L737.5 551.7 L738.3 550.3 L740.3 550.7 L740.9 549.6 L739.9 547.7 L740.8 546.4 L742.6 547.2 L743.4 546.2 L742.7 544 L743.7 542.8 L745.2 544.1 L746.1 543.2 L745.7 540.7 L746.8 539.7 L748.1 541.4 L749 540.6 L749 537.9 L750.1 537.1 L751.1 539.1 L752 538.6 L752.3 535.7 L753.5 535.1 L754.1 537.4 L755 537 L755.8 534.1 L756.9 533.7 L757.2 536.3 L758.1 536.1 L759.1 533.2 L760.2 533.1 L760.2 535.8 L761 535.8 L762.4 533 L763.4 533.1 L763 535.9 L763.8 536.1 L765.4 533.4 L766.4 533.8 L765.6 536.7 L766.3 537 L768.2 534.6 L769 535.1 L767.9 538 L768.6 538.5 L770.6 536.4 L771.3 537.1 L769.9 539.9 L770.4 540.6 L772.6 538.8 L773.2 539.7 L771.5 542.3 L771.9 543.2 L774.1 541.7 L774.6 542.8 L772.7 545.2 L772.9 546.2 L775.2 545.2 L775.4 546.4 L773.4 548.5 L773.5 549.5 L775.7 549 L775.8 550.3 L773.6 552.1 L773.6 553.2 L775.7 553.1 L775.6 554.5 L773.4 555.9 L773.2 557.1 L775.2 557.4 L774.9 558.9 L772.7 559.8 L772.4 561 L774.2 561.8 L773.7 563.3 L771.5 563.8 L771 565 L772.6 566.2 L772 567.7 L769.9 567.7 Z" fill="#333" stroke="#333" stroke-width="0.6" stroke-linejoin="round" />
<path d="M770.2 569.3 L771.5 570.9 L770.7 572.3 L768.8 571.9 L768.1 573 L769.1 574.9 L768.2 576.2 L766.4 575.4 L765.7 576.3 L766.3 578.6 L765.3 579.8 L763.8 578.5 L763 579.4 L763.3 581.9 L762.2 582.9 L761 581.2 L760.1 581.9 L760.1 584.7 L758.9 585.5 L758 583.5 L757.1 584 L756.7 586.9 L755.5 587.5 L754.9 585.1 L754 585.5 L753.3 588.5 L752.1 588.8 L751.9 586.3 L751 586.5 L749.9 589.4 L748.8 589.5 L748.9 586.8 L748 586.8 L746.7 589.6 L745.6 589.5 L746.1 586.7 L745.2 586.5 L743.6 589.1 L742.7 588.8 L743.4 585.9 L742.7 585.6 L740.9 588 L740 587.5 L741.1 584.6 L740.5 584.1 L738.5 586.2 L737.7 585.5 L739.1 582.7 L738.6 582 L736.5 583.8 L735.9 582.9 L737.5 580.3 L737.1 579.4 L734.9 580.9 L734.5 579.7 L736.4 577.4 L736.1 576.4 L733.8 577.4 L733.6 576.2 L735.6 574.1 L735.5 573 L733.3 573.6 L733.2 572.2 L735.4 570.5 L735.4 569.4 L733.3 569.5 L733.4 568 L735.7 566.7 L735.8 565.5 L733.8 565.2 L734.1 563.7 L736.4 562.8 L736.7 561.6 L734.9 560.8 L735.4 559.3 L737.6 558.8 L738 557.6 L736.4 556.4 L737.1 554.9 L739.2 554.9 L739.7 553.8 L738.4 552.1 L739.2 550.7 L741.2 551.2 L741.8 550.1 L740.8 548.1 L741.7 546.8 L743.5 547.7 L744.3 546.7 L743.6 544.4 L744.6 543.3 L746.1 544.5 L747 543.7 L746.6 541.1 L747.7 540.1 L749 541.8 L749.8 541.1 L749.9 538.4 L751 537.6 L751.9 539.6 L752.9 539 L753.2 536.2 L754.4 535.6 L755 537.9 L755.9 537.5 L756.6 534.6 L757.8 534.2 L758.1 536.8 L759 536.6 L760 533.7 L761.1 533.5 L761 536.3 L761.9 536.2 L763.3 533.4 L764.3 533.5 L763.9 536.4 L764.7 536.5 L766.3 533.9 L767.3 534.2 L766.5 537.1 L767.2 537.5 L769.1 535 L769.9 535.6 L768.8 538.5 L769.5 539 L771.5 536.8 L772.2 537.6 L770.8 540.4 L771.3 541 L773.5 539.2 L774.1 540.2 L772.4 542.8 L772.8 543.6 L775 542.2 L775.4 543.3 L773.6 545.7 L773.8 546.6 L776.1 545.6 L776.3 546.9 L774.3 549 L774.4 550 L776.6 549.4 L776.7 550.8 L774.5 552.5 L774.5 553.7 L776.6 553.5 L776.5 555 L774.3 556.3 L774.1 557.5 L776.1 557.9 L775.8 559.3 L773.5 560.3 L773.2 561.5 L775 562.3 L774.6 563.8 L772.4 564.2 L771.9 565.4 L773.5 566.6 L772.9 568.1 L770.8 568.1 Z" fill="#333" stroke="#333" stroke-width="0.6" stroke-linejoin="round" />
<path d="M771.1 569.7 L772.4 571.4 L771.6 572.8 L769.7 572.3 L769 573.4 L770 575.4 L769.1 576.7 L767.3 575.8 L766.6 576.8 L767.2 579.1 L766.2 580.2 L764.7 578.9 L763.9 579.8 L764.2 582.3 L763.1 583.4 L761.9 581.7 L761 582.4 L760.9 585.1 L759.8 585.9 L758.9 583.9 L758 584.5 L757.6 587.3 L756.4 587.9 L755.8 585.6 L754.9 586 L754.2 588.9 L753 589.3 L752.8 586.7 L751.8 586.9 L750.8 589.8 L749.7 590 L749.8 587.2 L748.9 587.3 L747.6 590.1 L746.5 590 L746.9 587.1 L746.1 586.9 L744.5 589.6 L743.5 589.3 L744.3 586.4 L743.6 586 L741.8 588.4 L740.9 587.9 L742 585 L741.4 584.5 L739.3 586.7 L738.6 585.9 L740 583.1 L739.5 582.5 L737.3 584.3 L736.8 583.3 L738.4 580.7 L738 579.9 L735.8 581.3 L735.4 580.2 L737.2 577.8 L737 576.9 L734.7 577.9 L734.5 576.6 L736.5 574.5 L736.4 573.5 L734.2 574.1 L734.1 572.7 L736.3 571 L736.3 569.8 L734.2 569.9 L734.3 568.5 L736.5 567.1 L736.7 566 L734.7 565.6 L735 564.1 L737.3 563.2 L737.6 562 L735.8 561.2 L736.2 559.7 L738.4 559.2 L738.9 558.1 L737.3 556.9 L737.9 555.4 L740.1 555.4 L740.6 554.2 L739.3 552.6 L740.1 551.2 L742.1 551.6 L742.7 550.5 L741.7 548.6 L742.6 547.3 L744.4 548.1 L745.2 547.2 L744.5 544.9 L745.5 543.7 L747 545 L747.8 544.1 L747.5 541.6 L748.6 540.6 L749.8 542.3 L750.7 541.6 L750.8 538.8 L751.9 538 L752.8 540 L753.7 539.5 L754.1 536.6 L755.3 536 L755.9 538.3 L756.8 537.9 L757.5 535 L758.7 534.7 L759 537.2 L759.9 537 L760.9 534.1 L762 534 L761.9 536.7 L762.8 536.7 L764.1 533.9 L765.2 534 L764.8 536.8 L765.6 537 L767.2 534.4 L768.2 534.7 L767.4 537.6 L768.1 537.9 L769.9 535.5 L770.8 536 L769.7 538.9 L770.3 539.4 L772.4 537.3 L773.1 538 L771.7 540.8 L772.2 541.5 L774.4 539.7 L774.9 540.6 L773.3 543.2 L773.7 544.1 L775.9 542.6 L776.3 543.8 L774.5 546.1 L774.7 547.1 L777 546.1 L777.2 547.3 L775.2 549.4 L775.3 550.5 L777.5 549.9 L777.6 551.3 L775.4 553 L775.4 554.1 L777.5 554 L777.4 555.4 L775.2 556.8 L775 558 L777 558.3 L776.7 559.8 L774.4 560.7 L774.1 561.9 L775.9 562.7 L775.5 564.2 L773.3 564.7 L772.8 565.9 L774.4 567.1 L773.8 568.6 L771.7 568.6 Z" fill="#333" stroke="#333" stroke-width="0.6" stroke-linejoin="round" />
<line x1="734.2" y1="584.4" x2="743.8" y2="589.3" stroke="#f2f2f2" stroke-width="1.25" />
<line x1="731.5" y1="583.2" x2="741.1" y2="588.1" stroke="#f2f2f2" stroke-width="1.25" />
<line x1="729.2" y1="581.3" x2="738.7" y2="586.2" stroke="#f2f2f2" stroke-width="1.25" />
<line x1="727.2" y1="578.8" x2="736.8" y2="583.7" stroke="#f2f2f2" stroke-width="1.25" />
<line x1="725.8" y1="575.8" x2="735.3" y2="580.6" stroke="#f2f2f2" stroke-width="1.25" />
<line x1="724.8" y1="572.3" x2="734.3" y2="577.1" stroke="#f2f2f2" stroke-width="1.25" />
<line x1="724.4" y1="568.4" x2="733.9" y2="573.2" stroke="#f2f2f2" stroke-width="1.25" />
<line x1="724.4" y1="564.2" x2="734" y2="569.1" stroke="#f2f2f2" stroke-width="1.25" />
<line x1="725.1" y1="559.9" x2="734.6" y2="564.8" stroke="#f2f2f2" stroke-width="1.25" />
<line x1="726.2" y1="555.5" x2="735.7" y2="560.3" stroke="#f2f2f2" stroke-width="1.25" />
<line x1="727.8" y1="551.1" x2="737.4" y2="556" stroke="#f2f2f2" stroke-width="1.25" />
<line x1="729.9" y1="546.9" x2="739.4" y2="551.8" stroke="#f2f2f2" stroke-width="1.25" />
<line x1="732.4" y1="542.9" x2="741.9" y2="547.8" stroke="#f2f2f2" stroke-width="1.25" />
<line x1="735.2" y1="539.3" x2="744.7" y2="544.1" stroke="#f2f2f2" stroke-width="1.25" />
<line x1="738.3" y1="536.1" x2="747.8" y2="541" stroke="#f2f2f2" stroke-width="1.25" />
<line x1="741.5" y1="533.4" x2="751.1" y2="538.3" stroke="#f2f2f2" stroke-width="1.25" />
<line x1="744.9" y1="531.3" x2="754.4" y2="536.2" stroke="#f2f2f2" stroke-width="1.25" />
<line x1="748.3" y1="529.8" x2="757.8" y2="534.7" stroke="#f2f2f2" stroke-width="1.25" />
<line x1="751.7" y1="529" x2="761.2" y2="533.9" stroke="#f2f2f2" stroke-width="1.25" />
<line x1="754.9" y1="528.9" x2="764.4" y2="533.8" stroke="#f2f2f2" stroke-width="1.25" />
<line x1="757.9" y1="529.5" x2="767.4" y2="534.4" stroke="#f2f2f2" stroke-width="1.25" />
<line x1="760.6" y1="530.8" x2="770.1" y2="535.6" stroke="#f2f2f2" stroke-width="1.25" />
<line x1="762.9" y1="532.7" x2="772.5" y2="537.5" stroke="#f2f2f2" stroke-width="1.25" />
<path d="M771.5 570 L772.8 571.6 L772.1 573 L770.1 572.6 L769.4 573.6 L770.4 575.6 L769.5 576.9 L767.8 576 L767 577 L767.7 579.3 L766.7 580.5 L765.1 579.2 L764.3 580 L764.6 582.6 L763.6 583.6 L762.3 581.9 L761.4 582.6 L761.4 585.3 L760.3 586.2 L759.3 584.1 L758.4 584.7 L758 587.6 L756.9 588.2 L756.3 585.8 L755.3 586.2 L754.6 589.1 L753.5 589.5 L753.2 586.9 L752.3 587.2 L751.3 590 L750.1 590.2 L750.2 587.4 L749.4 587.5 L748 590.3 L746.9 590.2 L747.4 587.3 L746.6 587.2 L745 589.8 L744 589.5 L744.8 586.6 L744 586.3 L742.2 588.7 L741.3 588.1 L742.4 585.3 L741.8 584.7 L739.8 586.9 L739.1 586.1 L740.5 583.4 L739.9 582.7 L737.8 584.5 L737.2 583.5 L738.9 580.9 L738.5 580.1 L736.2 581.5 L735.8 580.4 L737.7 578 L737.4 577.1 L735.2 578.1 L734.9 576.8 L737 574.8 L736.9 573.7 L734.6 574.3 L734.6 572.9 L736.7 571.2 L736.8 570.1 L734.6 570.2 L734.8 568.7 L737 567.4 L737.2 566.2 L735.2 565.9 L735.5 564.4 L737.7 563.4 L738 562.3 L736.2 561.5 L736.7 560 L738.9 559.5 L739.3 558.3 L737.8 557.1 L738.4 555.6 L740.5 555.6 L741.1 554.4 L739.8 552.8 L740.5 551.4 L742.5 551.8 L743.2 550.8 L742.2 548.8 L743.1 547.5 L744.8 548.4 L745.6 547.4 L744.9 545.1 L745.9 543.9 L747.5 545.2 L748.3 544.4 L748 541.8 L749 540.8 L750.3 542.5 L751.2 541.8 L751.2 539.1 L752.3 538.2 L753.3 540.3 L754.2 539.7 L754.6 536.8 L755.7 536.2 L756.3 538.6 L757.3 538.2 L758 535.3 L759.1 534.9 L759.4 537.5 L760.3 537.2 L761.3 534.4 L762.5 534.2 L762.4 537 L763.2 536.9 L764.6 534.1 L765.7 534.2 L765.2 537.1 L766 537.2 L767.6 534.6 L768.6 534.9 L767.8 537.8 L768.6 538.1 L770.4 535.7 L771.3 536.3 L770.2 539.1 L770.8 539.7 L772.8 537.5 L773.5 538.3 L772.1 541 L772.7 541.7 L774.8 539.9 L775.4 540.9 L773.7 543.5 L774.1 544.3 L776.4 542.9 L776.8 544 L774.9 546.4 L775.2 547.3 L777.4 546.3 L777.7 547.6 L775.6 549.6 L775.7 550.7 L778 550.1 L778 551.5 L775.9 553.2 L775.8 554.3 L778 554.2 L777.8 555.7 L775.6 557 L775.4 558.2 L777.4 558.5 L777.1 560 L774.9 561 L774.6 562.1 L776.4 562.9 L775.9 564.4 L773.7 564.9 L773.3 566.1 L774.8 567.3 L774.2 568.8 L772.1 568.8 Z" fill="#fff" stroke="#2e2e2e" stroke-width="1" stroke-linejoin="round" />
<ellipse rx="16.5" ry="25.5" transform="translate(756 562.6) rotate(27)" fill="none" stroke="#888" stroke-width="0.6" />
<ellipse rx="12.6" ry="17.5" transform="translate(754.7 563.8) rotate(27)" fill="#fff" stroke="#2e2e2e" stroke-width="1.1" />
<ellipse rx="9" ry="12.4" transform="translate(754.9 564) rotate(27)" fill="#fff" stroke="#2e2e2e" stroke-width="1" />
<ellipse rx="8" ry="11.4" transform="translate(753.9 563.7) rotate(27)" fill="none" stroke="#666" stroke-width="0.7" />
<line x1="720.5" y1="543.3" x2="727" y2="546.8" stroke="#444" stroke-width="0.9" />
<line x1="756" y1="562" x2="763" y2="566" stroke="#444" stroke-width="0.8" />
<line x1="722" y1="599.7" x2="733.5" y2="589.3" stroke="#3a3a3a" stroke-width="0.9" />
<circle cx="715.7" cy="606" r="9" fill="#e8e8e8"/>
<text x="714.7" y="610.7" font-size="13" text-anchor="middle" fill="#686868">25</text>
<ellipse rx="5.2" ry="2.2" transform="translate(390 492.2) rotate(0)" fill="#fff" stroke="#2e2e2e" stroke-width="1" />
<path d="M384.8 492.2 L384.4 497 L395.6 497 L395.2 492.2 Z" fill="#fff" stroke="#2e2e2e" stroke-width="1" stroke-linejoin="round" />
<line x1="388" y1="494" x2="387.8" y2="497" stroke="#555" stroke-width="0.7" />
<line x1="392.4" y1="494" x2="392.6" y2="497" stroke="#555" stroke-width="0.7" />
<ellipse rx="8" ry="3.1" transform="translate(390 498.3) rotate(0)" fill="#fff" stroke="#2e2e2e" stroke-width="1.1" />
<path d="M382 498.8 Q382.5 502.5 386.4 503.6 L393.6 503.6 Q397.5 502.5 398 498.8" fill="#fff" stroke="#2e2e2e" stroke-width="1" stroke-linejoin="round" />
<path d="M386.4 503.6 L386.8 509.5 L393.2 509.5 L393.6 503.6 Z" fill="#fff" stroke="#2e2e2e" stroke-width="0.9" stroke-linejoin="round" />
<line x1="386.6" y1="505.6" x2="393.4" y2="505.6" stroke="#444" stroke-width="0.7" />
<line x1="386.7" y1="507.6" x2="393.3" y2="507.6" stroke="#444" stroke-width="0.7" />
<path d="M387.6 509.5 L387.6 572.5 L392.4 572.5 L392.4 509.5 Z" fill="#fff" stroke="#2e2e2e" stroke-width="1" stroke-linejoin="round" />
<line x1="391.2" y1="510" x2="391.2" y2="562" stroke="#777" stroke-width="0.6" />
<line x1="387.6" y1="563" x2="392.4" y2="563" stroke="#333" stroke-width="0.7" />
<line x1="387.6" y1="565.2" x2="392.4" y2="565.2" stroke="#333" stroke-width="0.7" />
<line x1="387.6" y1="567.4" x2="392.4" y2="567.4" stroke="#333" stroke-width="0.7" />
<line x1="387.6" y1="569.6" x2="392.4" y2="569.6" stroke="#333" stroke-width="0.7" />
<line x1="387.6" y1="571.6" x2="392.4" y2="571.6" stroke="#333" stroke-width="0.7" />
<line x1="367" y1="520.5" x2="384.5" y2="533.5" stroke="#3a3a3a" stroke-width="0.9" />
<circle cx="359.3" cy="514.3" r="9" fill="#e8e8e8"/>
<text x="358.3" y="519" font-size="13" text-anchor="middle" fill="#686868">31</text>
<ellipse rx="6.3" ry="3.1" transform="translate(485.8 509) rotate(0)" fill="#fff" stroke="#2c2c2c" stroke-width="1.6" />
<path d="M478.4 519.5 L478.4 579 L493.2 579 L493.2 519.5 Z" fill="#fff" stroke="#2e2e2e" stroke-width="1" stroke-linejoin="round" />
<path d="M478.40000000000003 579 Q485.8 583 493.2 579" fill="#fff" stroke="#2e2e2e" stroke-width="1.2" stroke-linejoin="round" />
<path d="M478.40000000000003 571.5 Q485.8 575.1 493.2 571.5" fill="none" stroke="#2c2c2c" stroke-width="1.0" stroke-linejoin="round" />
<path d="M478.40000000000003 574 Q485.8 577.6 493.2 574" fill="none" stroke="#2c2c2c" stroke-width="1.4" stroke-linejoin="round" />
<path d="M478.40000000000003 576.8 Q485.8 580.4 493.2 576.8" fill="none" stroke="#2c2c2c" stroke-width="1.6" stroke-linejoin="round" />
<ellipse rx="7.4" ry="3.2" transform="translate(485.8 519.5) rotate(0)" fill="#fff" stroke="#2e2e2e" stroke-width="1.3" />
<ellipse rx="5.6" ry="2.2" transform="translate(485.8 519.7) rotate(0)" fill="#555" stroke="#2e2e2e" stroke-width="0.8" />
<path d="M478.40000000000003 522.3 Q485.8 526.3 493.2 522.3" fill="none" stroke="#444" stroke-width="0.9" stroke-linejoin="round" />
<line x1="490.3" y1="526" x2="490.3" y2="568" stroke="#999" stroke-width="0.5" />
<ellipse rx="7.4" ry="3.8" transform="translate(486.2 590.2) rotate(0)" fill="#fff" stroke="#2c2c2c" stroke-width="1.5" />
<line x1="486.2" y1="594.5" x2="486.2" y2="612" stroke="#555" stroke-width="0.8" stroke-dasharray="4 3" />
<line x1="461" y1="514.5" x2="478.5" y2="510" stroke="#3a3a3a" stroke-width="0.9" />
<line x1="506.5" y1="535.5" x2="493.5" y2="548.5" stroke="#3a3a3a" stroke-width="0.9" />
<line x1="507" y1="572.5" x2="494" y2="586.5" stroke="#3a3a3a" stroke-width="0.9" />
<circle cx="452.5" cy="515.7" r="9" fill="#e8e8e8"/>
<text x="451.5" y="520.4" font-size="13" text-anchor="middle" fill="#686868">33</text>
<circle cx="514.3" cy="530" r="9" fill="#e8e8e8"/>
<text x="513.3" y="534.7" font-size="13" text-anchor="middle" fill="#686868">32</text>
<circle cx="513.3" cy="566.7" r="9" fill="#e8e8e8"/>
<text x="512.3" y="571.4" font-size="13" text-anchor="middle" fill="#686868">30</text>
<path d="M467.1 590.2 L467.3 594.4 L474.1 594.4 L474.3 590.2 Z" fill="#fff" stroke="#2e2e2e" stroke-width="0.9" stroke-linejoin="round" />
<line x1="467.2" y1="591.4" x2="474.2" y2="591.4" stroke="#333" stroke-width="0.7" />
<line x1="467.2" y1="592.8" x2="474.2" y2="592.8" stroke="#333" stroke-width="0.7" />
<path d="M465.7 585.4 L465.5 590.4 L475.9 590.4 L475.7 585.4 Z" fill="#fff" stroke="#2e2e2e" stroke-width="1" stroke-linejoin="round" />
<line x1="469.1" y1="587" x2="469.1" y2="590.4" stroke="#555" stroke-width="0.7" />
<line x1="472.9" y1="587" x2="472.9" y2="590.4" stroke="#555" stroke-width="0.7" />
<ellipse rx="5" ry="2.1" transform="translate(470.7 585.4) rotate(0)" fill="#fff" stroke="#2e2e2e" stroke-width="1" />
<ellipse rx="2.8" ry="1.1" transform="translate(470.7 585.4) rotate(0)" fill="#ddd" stroke="#555" stroke-width="0.6" />
<ellipse rx="6.2" ry="3.2" transform="translate(470.8 604.2) rotate(0)" fill="#fff" stroke="#2c2c2c" stroke-width="1.4" />
<ellipse rx="5" ry="2.9" transform="translate(470.8 614.6) rotate(0)" fill="#fff" stroke="#2c2c2c" stroke-width="1.8" />
<line x1="466" y1="600" x2="466" y2="628" stroke="#666" stroke-width="0.7" stroke-dasharray="4 3" />
<line x1="455" y1="572.5" x2="466" y2="584" stroke="#3a3a3a" stroke-width="0.9" />
<line x1="453" y1="592" x2="464.5" y2="602.5" stroke="#3a3a3a" stroke-width="0.9" />
<circle cx="449.5" cy="566.7" r="9" fill="#e8e8e8"/>
<text x="448.5" y="571.4" font-size="13" text-anchor="middle" fill="#686868">37</text>
<circle cx="446.7" cy="586.7" r="9" fill="#e8e8e8"/>
<text x="445.7" y="591.4" font-size="13" text-anchor="middle" fill="#686868">39</text>
<path d="M379.3 590.6 L382.5 588.4 L387.2 590 L387.7 594.6 L384 596.8 L379.7 595.2 Z" fill="#555" stroke="#2e2e2e" stroke-width="1.1" stroke-linejoin="round" />
<ellipse rx="2.2" ry="2.6" transform="translate(384.1 592.8) rotate(20)" fill="#ccc" stroke="#2e2e2e" stroke-width="0.8" />
<line x1="379.9" y1="591.6" x2="380.3" y2="595.2" stroke="#222" stroke-width="0.8" />
<path d="M394.4 598.8 L397.6 596.6 L402.3 598.2 L402.8 602.8 L399.1 605 L394.8 603.4 Z" fill="#555" stroke="#2e2e2e" stroke-width="1.1" stroke-linejoin="round" />
<ellipse rx="2.2" ry="2.6" transform="translate(399.2 601) rotate(20)" fill="#ccc" stroke="#2e2e2e" stroke-width="0.8" />
<line x1="395" y1="599.8" x2="395.4" y2="603.4" stroke="#222" stroke-width="0.8" />
<line x1="361.6" y1="606.6" x2="379.4" y2="595.3" stroke="#3a3a3a" stroke-width="0.9" />
<line x1="361.6" y1="606.6" x2="394.3" y2="603" stroke="#3a3a3a" stroke-width="0.9" />
<ellipse rx="3.3" ry="4.4" transform="translate(409.5 607.2) rotate(27.1)" fill="#fff" stroke="#2e2e2e" stroke-width="1" />
<path d="M407.5 611.1 L411.4 613.1 L415.4 605.3 L411.5 603.3 Z" fill="#fff" stroke="none" stroke-width="1" stroke-linejoin="round" />
<line x1="407.5" y1="611.1" x2="411.4" y2="613.1" stroke="#2e2e2e" stroke-width="1" />
<line x1="411.5" y1="603.3" x2="415.4" y2="605.3" stroke="#2e2e2e" stroke-width="1" />
<ellipse rx="3.3" ry="4.4" transform="translate(413.4 609.2) rotate(27.1)" fill="#fff" stroke="#2e2e2e" stroke-width="1" />
<ellipse rx="2.3" ry="3.1" transform="translate(413.7 609.4) rotate(25)" fill="#fff" stroke="#2e2e2e" stroke-width="0.8" />
<line x1="392.7" y1="625.3" x2="408.7" y2="613" stroke="#3a3a3a" stroke-width="0.9" />
<path d="M420.5 611.5 L424.5 610 L427 613.5 L425.5 617.5 L421.5 618.8 L419.5 615 Z" fill="#fff" stroke="#2e2e2e" stroke-width="1" stroke-linejoin="round" />
<ellipse rx="1.7" ry="2.3" transform="translate(423.4 614.6) rotate(20)" fill="#fff" stroke="#2e2e2e" stroke-width="0.8" />
<line x1="415" y1="628.8" x2="422" y2="618.5" stroke="#3a3a3a" stroke-width="0.9" />
<ellipse rx="3.2" ry="4.2" transform="translate(432.3 620) rotate(28.4)" fill="#fff" stroke="#2e2e2e" stroke-width="1" />
<path d="M430.3 623.7 L434 625.7 L438 618.3 L434.3 616.3 Z" fill="#fff" stroke="none" stroke-width="1" stroke-linejoin="round" />
<line x1="430.3" y1="623.7" x2="434" y2="625.7" stroke="#2e2e2e" stroke-width="1" />
<line x1="434.3" y1="616.3" x2="438" y2="618.3" stroke="#2e2e2e" stroke-width="1" />
<ellipse rx="3.2" ry="4.2" transform="translate(436 622) rotate(28.4)" fill="#fff" stroke="#2e2e2e" stroke-width="1" />
<ellipse rx="2.4" ry="3.1" transform="translate(436.3 622.2) rotate(25)" fill="#fff" stroke="#2e2e2e" stroke-width="0.8" />
<line x1="430.6" y1="638.6" x2="431.8" y2="626.6" stroke="#3a3a3a" stroke-width="0.9" />
<ellipse rx="0.9" ry="2.2" transform="translate(418 664.8) rotate(25.8)" fill="#fff" stroke="#2e2e2e" stroke-width="1" />
<path d="M417 666.8 L429 672.6 L431 668.6 L419 662.8 Z" fill="#fff" stroke="none" stroke-width="1" stroke-linejoin="round" />
<line x1="417" y1="666.8" x2="429" y2="672.6" stroke="#2e2e2e" stroke-width="1" />
<line x1="419" y1="662.8" x2="431" y2="668.6" stroke="#2e2e2e" stroke-width="1" />
<ellipse rx="0.9" ry="2.2" transform="translate(430 670.6) rotate(25.8)" fill="#fff" stroke="#2e2e2e" stroke-width="1" />
<line x1="420.4" y1="663.5" x2="418.4" y2="667.5" stroke="#333" stroke-width="0.8" />
<line x1="422.6" y1="664.6" x2="420.6" y2="668.6" stroke="#333" stroke-width="0.8" />
<line x1="424.9" y1="665.7" x2="422.9" y2="669.7" stroke="#333" stroke-width="0.8" />
<line x1="427.1" y1="666.8" x2="425.1" y2="670.8" stroke="#333" stroke-width="0.8" />
<line x1="429.4" y1="667.9" x2="427.4" y2="671.9" stroke="#333" stroke-width="0.8" />
<path d="M411 661 L414.5 658 L419 659.5 L420 664.5 L416.5 668 L412 666.5 Z" fill="#fff" stroke="#2e2e2e" stroke-width="1.1" stroke-linejoin="round" />
<ellipse rx="2.6" ry="3.3" transform="translate(415.3 663) rotate(20)" fill="#fff" stroke="#2e2e2e" stroke-width="0.9" />
<line x1="431.8" y1="672" x2="441" y2="676.5" stroke="#333" stroke-width="1" />
<ellipse rx="3.2" ry="4.2" transform="translate(444 679.3) rotate(22)" fill="#666" stroke="#2e2e2e" stroke-width="1.1" />
<ellipse rx="1.4" ry="2" transform="translate(444.4 679.5) rotate(22)" fill="#fff" stroke="#2e2e2e" stroke-width="0.7" />
<line x1="447.5" y1="681.5" x2="450.5" y2="683" stroke="#333" stroke-width="0.9" />
<line x1="411.4" y1="677.7" x2="415.8" y2="668.2" stroke="#3a3a3a" stroke-width="0.9" />
<line x1="433.6" y1="695.5" x2="441.6" y2="684.8" stroke="#3a3a3a" stroke-width="0.9" />
<circle cx="350.1" cy="609.3" r="9" fill="#e8e8e8"/>
<text x="349.1" y="614" font-size="13" text-anchor="middle" fill="#686868">26</text>
<circle cx="384.7" cy="631.5" r="9" fill="#e8e8e8"/>
<text x="383.7" y="636.2" font-size="13" text-anchor="middle" fill="#686868">27</text>
<circle cx="407.8" cy="636.8" r="9" fill="#e8e8e8"/>
<text x="406.8" y="641.5" font-size="13" text-anchor="middle" fill="#686868">28</text>
<circle cx="433.8" cy="644.9" r="9" fill="#e8e8e8"/>
<text x="430.8" y="653.1" font-size="13" text-anchor="middle" fill="#686868">29</text>
<circle cx="407.8" cy="684.8" r="9" fill="#e8e8e8"/>
<text x="406.8" y="689.5" font-size="13" text-anchor="middle" fill="#686868">36</text>
<circle cx="428.2" cy="701.7" r="9" fill="#e8e8e8"/>
<text x="427.2" y="706.4" font-size="13" text-anchor="middle" fill="#686868">38</text>
<ellipse rx="3.8" ry="6.2" transform="translate(457.5 634.8) rotate(23.5)" fill="#fff" stroke="#2e2e2e" stroke-width="1" />
<path d="M455 640.5 L463.5 644.2 L468.5 632.8 L460 629.1 Z" fill="#fff" stroke="none" stroke-width="1" stroke-linejoin="round" />
<line x1="455" y1="640.5" x2="463.5" y2="644.2" stroke="#2e2e2e" stroke-width="1" />
<line x1="460" y1="629.1" x2="468.5" y2="632.8" stroke="#2e2e2e" stroke-width="1" />
<ellipse rx="3.8" ry="6.2" transform="translate(466 638.5) rotate(23.5)" fill="#fff" stroke="#2e2e2e" stroke-width="1" />
<ellipse rx="3.8" ry="6.2" transform="translate(457.5 634.8) rotate(24)" fill="#fff" stroke="#2e2e2e" stroke-width="1.1" />
<path d="M489.6 607.2 L493 602.5 L498.1 600.2 L504.5 602 L508.4 606.4 L520.3 606.4 L527.2 610.6 L533.2 615.8 L538.3 621.8 L539.8 628 L539.1 636 L547.7 639.7 L545.1 650 L540.9 661.9 L533.2 665.3 L528.9 667.1 L525.5 673.9 L521.2 679 L518.6 687.6 L511.8 696.1 L498.1 703 L484.4 704.7 L474.2 703 L465.6 694.4 L459.7 684.1 L457.1 670.5 L457.9 655.1 L460.5 640 L463.5 630 L469 623 L474.2 619.2 L482.7 612.4 Z" fill="#fff" stroke="#2e2e2e" stroke-width="1.1" stroke-linejoin="round" />
<path d="M466.5 632 L463.8 655 L464 671 L466.5 683.5 L472 693 L480 698.8 L489 699.5 L500 697 L510 691" fill="none" stroke="#333" stroke-width="0.9" stroke-linejoin="round" />
<line x1="459.7" y1="684.1" x2="466.5" y2="683.5" stroke="#444" stroke-width="0.8" />
<line x1="457.5" y1="660" x2="463.8" y2="659" stroke="#444" stroke-width="0.8" />
<ellipse rx="30.5" ry="39.5" transform="translate(501.3 655.6) rotate(18)" fill="#fff" stroke="#2e2e2e" stroke-width="1.1" />
<path d="M516 621 Q531 650 515 675 Q503 690 484 690" fill="none" stroke="#333" stroke-width="0.9" stroke-linejoin="round" />
<path d="M508 622 Q521 648 507 668 Q496 682 478 683" fill="none" stroke="#444" stroke-width="0.8" stroke-linejoin="round" />
<path d="M500 624.5 Q510 647 499 662 Q490 673 476 674" fill="none" stroke="#333" stroke-width="0.9" stroke-linejoin="round" />
<path d="M492 628 Q500 645 491 656 Q484 664 474 665" fill="none" stroke="#444" stroke-width="0.8" stroke-linejoin="round" />
<path d="M490.5 608.5 L497 606.5 L497.5 613.5 L488 622 L478 634 L473 646 L467 651 L460 650.5 L459 641 L465 629.5 L473 620 L483 612.5 Z" fill="#fff" stroke="#2e2e2e" stroke-width="1.1" stroke-linejoin="round" />
<path d="M496 612 Q480 624 472.5 642" fill="none" stroke="#444" stroke-width="0.8" stroke-linejoin="round" />
<ellipse rx="1.9" ry="2.4" transform="translate(467.5 635.6) rotate(0)" fill="#fff" stroke="#2e2e2e" stroke-width="0.9" />
<ellipse rx="2.4" ry="1.6" transform="translate(497.6 605) rotate(0)" fill="#fff" stroke="#2e2e2e" stroke-width="0.9" />
<path d="M480 609.5 L485.5 609 L486.5 615 L481.5 619 Z" fill="#fff" stroke="#2e2e2e" stroke-width="0.9" stroke-linejoin="round" />
<ellipse rx="3.4" ry="6.2" transform="translate(482.5 642.5) rotate(20)" fill="#333" stroke="#2e2e2e" stroke-width="1" />
<ellipse rx="2.2" ry="4.6" transform="translate(484.8 643.5) rotate(20)" fill="#999" stroke="#2e2e2e" stroke-width="0.7" />
<ellipse rx="1.6" ry="2" transform="translate(481.5 635.5) rotate(0)" fill="#fff" stroke="#2e2e2e" stroke-width="0.8" />
<ellipse rx="1.7" ry="2" transform="translate(492 644.5) rotate(0)" fill="#555" stroke="#2e2e2e" stroke-width="0.8" />
<path d="M498 625.5 L505 628.5 L504.5 637 L499 634.5 L496.5 630 Z" fill="#fff" stroke="#2e2e2e" stroke-width="1" stroke-linejoin="round" />
<path d="M472 669 L482 666 L488.5 668.5 L483 673 L476.5 677 Z" fill="#fff" stroke="#2e2e2e" stroke-width="0.9" stroke-linejoin="round" />
<path d="M472 669 L476.5 677 L474 681" fill="none" stroke="#2e2e2e" stroke-width="0.9" stroke-linejoin="round" />
<ellipse rx="1.6" ry="2" transform="translate(528.9 618.3) rotate(0)" fill="#fff" stroke="#2e2e2e" stroke-width="0.9" />
<ellipse rx="1.6" ry="2" transform="translate(533.2 652.5) rotate(0)" fill="#fff" stroke="#2e2e2e" stroke-width="0.9" />
<ellipse rx="1.6" ry="2" transform="translate(525.3 670.8) rotate(0)" fill="#fff" stroke="#2e2e2e" stroke-width="0.9" />
<ellipse rx="1.6" ry="2" transform="translate(510.1 689.3) rotate(0)" fill="#fff" stroke="#2e2e2e" stroke-width="0.9" />
<ellipse rx="1.6" ry="2" transform="translate(476.8 697.8) rotate(0)" fill="#fff" stroke="#2e2e2e" stroke-width="0.9" />
<ellipse rx="1.6" ry="2" transform="translate(467.6 674) rotate(0)" fill="#fff" stroke="#2e2e2e" stroke-width="0.9" />
<line x1="493" y1="646" x2="532" y2="668.3" stroke="#2c2c2c" stroke-width="1.5" stroke-dasharray="9 3" />
<line x1="553" y1="607.5" x2="538.5" y2="621.5" stroke="#3a3a3a" stroke-width="0.9" />
<circle cx="559" cy="602.7" r="9" fill="#e8e8e8"/>
<text x="558" y="607.4" font-size="13" text-anchor="middle" fill="#686868">34</text>
<line x1="498.3" y1="707" x2="498.3" y2="720" stroke="#555" stroke-width="0.8" stroke-dasharray="5 3" />
<ellipse rx="5.8" ry="3.2" transform="translate(498.3 725.5) rotate(0)" fill="#fff" stroke="#2c2c2c" stroke-width="1.3" />
<path d="M493.7 736.4 L493.3 741 L495.8 743.4 L500.8 743.4 L503.3 741 L502.9 736.4 Z" fill="#777" stroke="#2e2e2e" stroke-width="1" stroke-linejoin="round" />
<ellipse rx="4.6" ry="2.2" transform="translate(498.3 736.4) rotate(0)" fill="#fff" stroke="#2e2e2e" stroke-width="1" />
<ellipse rx="2.4" ry="1.1" transform="translate(498.3 736.4) rotate(0)" fill="#bbb" stroke="#2e2e2e" stroke-width="0.7" />
<line x1="496.8" y1="738.7" x2="496.7" y2="743.2" stroke="#222" stroke-width="0.8" />
<line x1="500.3" y1="738.7" x2="500.4" y2="743.2" stroke="#222" stroke-width="0.8" />
<line x1="476" y1="719" x2="492.5" y2="724.5" stroke="#3a3a3a" stroke-width="0.9" />
<line x1="475" y1="736.5" x2="492.5" y2="739" stroke="#3a3a3a" stroke-width="0.9" />
<circle cx="467.7" cy="716" r="9" fill="#e8e8e8"/>
<text x="466.7" y="720.7" font-size="13" text-anchor="middle" fill="#686868">39</text>
<circle cx="466" cy="736.7" r="9" fill="#e8e8e8"/>
<text x="465" y="741.4" font-size="13" text-anchor="middle" fill="#686868">37</text>
<path d="M543.3 664.7 L552 660.9 L560.4 664.9" fill="none" stroke="#333" stroke-width="0.9" stroke-linejoin="round" />
<ellipse rx="0.7" ry="1.7" transform="translate(561 665.2) rotate(28.7)" fill="#fff" stroke="#2e2e2e" stroke-width="1" />
<path d="M560.2 666.7 L571.7 673 L573.3 670 L561.8 663.7 Z" fill="#fff" stroke="none" stroke-width="1" stroke-linejoin="round" />
<line x1="560.2" y1="666.7" x2="571.7" y2="673" stroke="#2e2e2e" stroke-width="1" />
<line x1="561.8" y1="663.7" x2="573.3" y2="670" stroke="#2e2e2e" stroke-width="1" />
<ellipse rx="0.7" ry="1.7" transform="translate(572.5 671.5) rotate(28.7)" fill="#fff" stroke="#2e2e2e" stroke-width="1" />
<line x1="562.7" y1="664.1" x2="561.1" y2="667.3" stroke="#333" stroke-width="0.8" />
<line x1="564.6" y1="665.1" x2="563" y2="668.3" stroke="#333" stroke-width="0.8" />
<line x1="566.6" y1="666.2" x2="565" y2="669.4" stroke="#333" stroke-width="0.8" />
<line x1="568.5" y1="667.2" x2="566.9" y2="670.4" stroke="#333" stroke-width="0.8" />
<line x1="570.4" y1="668.3" x2="568.8" y2="671.5" stroke="#333" stroke-width="0.8" />
<ellipse rx="0.9" ry="2.3" transform="translate(573.5 672) rotate(36.3)" fill="#fff" stroke="#2e2e2e" stroke-width="1" />
<path d="M572.1 673.9 L594.6 690.4 L597.4 686.6 L574.9 670.1 Z" fill="#fff" stroke="none" stroke-width="1" stroke-linejoin="round" />
<line x1="572.1" y1="673.9" x2="594.6" y2="690.4" stroke="#2e2e2e" stroke-width="1" />
<line x1="574.9" y1="670.1" x2="597.4" y2="686.6" stroke="#2e2e2e" stroke-width="1" />
<ellipse rx="0.9" ry="2.3" transform="translate(596 688.5) rotate(36.3)" fill="#fff" stroke="#2e2e2e" stroke-width="1" />
<path d="M593.6 662.2 L593.6 702.6 L617 712.5 L629.5 689.5 L629.5 647.8 L624.1 645.1 L618.4 647.8 L618.4 679 L616 684 L606 690 L605.8 662.2 L599.9 659.1 Z" fill="#fff" stroke="#2e2e2e" stroke-width="1.1" stroke-linejoin="round" />
<path d="M593.6 662.2 L599 665.8 L605.8 662.2" fill="none" stroke="#2e2e2e" stroke-width="0.9" stroke-linejoin="round" />
<line x1="599" y1="665.8" x2="599" y2="705" stroke="#2e2e2e" stroke-width="0.9" />
<path d="M618.4 647.8 L623.8 650.9 L629.5 647.8" fill="none" stroke="#2e2e2e" stroke-width="0.9" stroke-linejoin="round" />
<line x1="623.8" y1="650.9" x2="623.8" y2="682" stroke="#2e2e2e" stroke-width="0.9" />
<path d="M605.8 690 Q602 696 607 697.5 Q616 694 624 687.5 L623.8 682" fill="none" stroke="#333" stroke-width="1" stroke-linejoin="round" />
<path d="M606 690 Q611 688 618.4 679" fill="none" stroke="#444" stroke-width="0.8" stroke-linejoin="round" />
<ellipse rx="2.2" ry="3.1" transform="translate(615.5 699) rotate(20)" fill="#fff" stroke="#2e2e2e" stroke-width="1" />
<line x1="643.9" y1="644.2" x2="630.2" y2="656.6" stroke="#3a3a3a" stroke-width="0.9" />
<circle cx="647" cy="634.5" r="9" fill="#e8e8e8"/>
<text x="650" y="641.7" font-size="13" text-anchor="middle" fill="#686868">35</text>
<circle cx="474" cy="449.1" r="9" fill="#e8e8e8"/>
<text x="473.5" y="452" font-size="13" text-anchor="middle" fill="#686868">20</text>
<line x1="499" y1="459" x2="513" y2="446" stroke="#3a3a3a" stroke-width="0.9" />
<path d="M516 444 Q523 452 531 444" fill="none" stroke="#333" stroke-width="2" stroke-linejoin="round" />
<circle cx="488.7" cy="465.4" r="9.3" fill="#e8e8e8"/>
<text x="492.1" y="469.5" font-size="13" text-anchor="middle" fill="#686868">21</text>
<path d="M546.9 445.8 L546.6 447 L546.4 448.3 L546.3 449.6 L546.3 450.8 L546.4 452.1 L546.6 453.3 L546.9 454.5 L547.2 455.7 L547.6 456.8 L548.2 457.9 L548.7 458.8 L549.4 459.8 L550.1 460.6 L550.9 461.3 L551.7 461.9 L552.6 462.5 L553.6 462.9 L554.5 463.2 L555.5 463.4 L556.5 463.5 L557.5 463.5 L558.5 463.4 L559.5 463.1 L560.5 462.8 L561.4 462.3 L562.4 461.8 L563.3 461.1 L564.1 460.3 L564.9 459.5 L565.6 458.6 L566.3 457.6 L566.9 456.5 L567.5 455.4 L567.9 454.2 L568.3 453 L568.5 451.7 L568.7 450.5 L568.8 449.2 L568.9 447.9 L568.8 446.7 L568.6 445.4 L568.4 444.2 L568 443 L567.6 441.9 L567.1 440.9 L566.5 439.9 L565.9 439 L565.2 438.1" fill="none" stroke="#3a3a3a" stroke-width="5.6" stroke-linejoin="round" stroke-linecap="butt"/>
<path d="M546.6 447 L546.4 448.3 L546.3 449.6 L546.3 450.8 L546.4 452.1 L546.6 453.3 L546.9 454.5 L547.2 455.7 L547.6 456.8 L548.2 457.9 L548.7 458.8 L549.4 459.8 L550.1 460.6 L550.9 461.3 L551.7 461.9 L552.6 462.5 L553.6 462.9 L554.5 463.2 L555.5 463.4 L556.5 463.5 L557.5 463.5 L558.5 463.4 L559.5 463.1 L560.5 462.8 L561.4 462.3 L562.4 461.8 L563.3 461.1 L564.1 460.3 L564.9 459.5 L565.6 458.6 L566.3 457.6 L566.9 456.5 L567.5 455.4 L567.9 454.2 L568.3 453 L568.5 451.7 L568.7 450.5 L568.8 449.2 L568.9 447.9 L568.8 446.7 L568.6 445.4 L568.4 444.2 L568 443 L567.6 441.9 L567.1 440.9 L566.5 439.9 L565.9 439" fill="none" stroke="#fff" stroke-width="3.0" stroke-linejoin="round" />
<path d="M546.4 448.3 L546.3 449.6 L546.3 450.8 L546.4 452.1 L546.6 453.3 L546.9 454.5 L547.2 455.7 L547.6 456.8 L548.2 457.9 L548.7 458.8 L549.4 459.8 L550.1 460.6 L550.9 461.3 L551.7 461.9 L552.6 462.5 L553.6 462.9 L554.5 463.2 L555.5 463.4 L556.5 463.5 L557.5 463.5 L558.5 463.4 L559.5 463.1 L560.5 462.8 L561.4 462.3 L562.4 461.8 L563.3 461.1 L564.1 460.3 L564.9 459.5 L565.6 458.6 L566.3 457.6 L566.9 456.5 L567.5 455.4 L567.9 454.2 L568.3 453 L568.5 451.7" fill="none" stroke="#666" stroke-width="0.7" stroke-linejoin="round" />
<line x1="532.8" y1="475.4" x2="546.3" y2="462.6" stroke="#3a3a3a" stroke-width="0.9" />
<circle cx="524.6" cy="478.8" r="9.3" fill="#e8e8e8"/>
<text x="527.4" y="487.2" font-size="13" text-anchor="middle" fill="#686868">22</text>
<rect x="329" y="313.4" width="235.3" height="132.7" fill="#fff"/>
<path d="M502.5 316.2 L526.2 326 L526.2 350.5 L502.5 343 Z" fill="#d8d8d8" stroke="none" stroke-width="1" stroke-linejoin="round" />
<line x1="505.1" y1="318.3" x2="505.1" y2="342.8" stroke="#ececec" stroke-width="0.7" />
<line x1="507.8" y1="319.4" x2="507.8" y2="343.7" stroke="#ececec" stroke-width="0.7" />
<line x1="510.4" y1="320.5" x2="510.4" y2="344.5" stroke="#ececec" stroke-width="0.7" />
<line x1="513.1" y1="321.6" x2="513.1" y2="345.3" stroke="#ececec" stroke-width="0.7" />
<line x1="515.7" y1="322.6" x2="515.7" y2="346.1" stroke="#ececec" stroke-width="0.7" />
<line x1="518.3" y1="323.7" x2="518.3" y2="347" stroke="#ececec" stroke-width="0.7" />
<line x1="521" y1="324.8" x2="521" y2="347.8" stroke="#ececec" stroke-width="0.7" />
<line x1="523.6" y1="325.9" x2="523.6" y2="348.6" stroke="#ececec" stroke-width="0.7" />
<path d="M460 327 L467 323 L500 330 L502 343 L487 346 L470 340 L458 334 Z" fill="#e3e3e3" stroke="none" stroke-width="1" stroke-linejoin="round" />
<path d="M470 331 L486 327 L501 332 L500 342 L488 345 Z" fill="#d8d8d8" stroke="none" stroke-width="1" stroke-linejoin="round" />
<path d="M487 345 L526.5 350.5 L556 362 L558 372 L546 372 L545 384 L488 384 Z" fill="#e3e3e3" stroke="none" stroke-width="1" stroke-linejoin="round" />
<path d="M512 352 L527 354 L553 364 L551 369 L526 361 L512 358 Z" fill="#d6d6d6" stroke="none" stroke-width="1" stroke-linejoin="round" />
<path d="M490 366 L545 372 L544 378 L490 374 Z" fill="#d4d4d4" stroke="none" stroke-width="1" stroke-linejoin="round" />
<path d="M446 347 L486 343 L490 380 L448 381 Z" fill="#e3e3e3" stroke="none" stroke-width="1" stroke-linejoin="round" />
<path d="M451 351 L466 349.5 L461 377 L452 377 Z" fill="#f4f4f4" stroke="none" stroke-width="1" stroke-linejoin="round" />
<path d="M470 349 L484 347.5 L487 376 L467 377 Z" fill="#d6d6d6" stroke="none" stroke-width="1" stroke-linejoin="round" />
<path d="M455 352 L464 351 L458 374 Z" fill="#d0d0d0" stroke="none" stroke-width="1" stroke-linejoin="round" />
<path d="M430 352 L446 348 L447 351 L433 355 L432 360 L430 360 Z" fill="#e3e3e3" stroke="none" stroke-width="1" stroke-linejoin="round" />
<path d="M448 381 L545 384 L548 398 L540 404 L446 398 Z" fill="#e4e4e4" stroke="none" stroke-width="1" stroke-linejoin="round" />
<path d="M400 408 L470 404 L545 410 L548 436 L500 430 L400 416 Z" fill="#e9e9e9" stroke="none" stroke-width="1" stroke-linejoin="round" />
<path d="M455 426 L534 432 L534 436.5 L455 430 Z" fill="#dcdcdc" stroke="none" stroke-width="1" stroke-linejoin="round" />
<ellipse rx="12.5" ry="22" transform="translate(548 420) rotate(22)" fill="#cfcfcf" stroke="none" stroke-width="0" />
<ellipse rx="8.5" ry="17" transform="translate(546.5 421.5) rotate(22)" fill="#dcdcdc" stroke="none" stroke-width="0" />
<path d="M530 392 L546 388 L553 396 L538 404 Z" fill="#d6d6d6" stroke="none" stroke-width="1" stroke-linejoin="round" />
<path d="M524 438 L538 418 L541 420 L529 442 Z" fill="#d0d0d0" stroke="none" stroke-width="1" stroke-linejoin="round" />
<path d="M524 420 L540 440 L537 443 L521 424 Z" fill="#d8d8d8" stroke="none" stroke-width="1" stroke-linejoin="round" />
<clipPath id="cg1"><path d="M320 340 L410 340 L410 386.5 Q370 387 331 398 L320 401 Z"/></clipPath>
<clipPath id="cg2"><path d="M320 410 Q350 396 402 393.5 L384 426 L320 430 Z"/></clipPath>
<path d="M361.5 356.1 L362.8 350 L367.1 350.1 L368.1 356.3 L373.5 357.5 L377 352.4 L381 354.1 L379.5 360.2 L384.1 363.4 L389.3 360 L392.3 363.2 L388.6 368.2 L391.6 372.9 L397.7 371.7 L399.3 375.8 L394 379 L394.9 384.5 L401 385.8 L400.9 390.1 L394.7 391.1 L393.5 396.5 L398.6 400 L396.9 404 L390.8 402.5 L387.6 407.1 L391 412.3 L387.8 415.3 L382.8 411.6 L378.1 414.6 L379.3 420.7 L375.2 422.3 L372 417 L366.5 417.9 L365.2 424 L360.9 423.9 L359.9 417.7 L354.5 416.5 L351 421.6 L347 419.9 L348.5 413.8 L343.9 410.6 L338.7 414 L335.7 410.8 L339.4 405.8 L336.4 401.1 L330.3 402.3 L328.7 398.2 L334 395 L333.1 389.5 L327 388.2 L327.1 383.9 L333.3 382.9 L334.5 377.5 L329.4 374 L331.1 370 L337.2 371.5 L340.4 366.9 L337 361.7 L340.2 358.7 L345.2 362.4 L349.9 359.4 L348.7 353.3 L352.8 351.7 L356 357 Z" fill="#b4b4b4" clip-path="url(#cg1)"/>
<path d="M361.5 356.1 L362.8 350 L367.1 350.1 L368.1 356.3 L373.5 357.5 L377 352.4 L381 354.1 L379.5 360.2 L384.1 363.4 L389.3 360 L392.3 363.2 L388.6 368.2 L391.6 372.9 L397.7 371.7 L399.3 375.8 L394 379 L394.9 384.5 L401 385.8 L400.9 390.1 L394.7 391.1 L393.5 396.5 L398.6 400 L396.9 404 L390.8 402.5 L387.6 407.1 L391 412.3 L387.8 415.3 L382.8 411.6 L378.1 414.6 L379.3 420.7 L375.2 422.3 L372 417 L366.5 417.9 L365.2 424 L360.9 423.9 L359.9 417.7 L354.5 416.5 L351 421.6 L347 419.9 L348.5 413.8 L343.9 410.6 L338.7 414 L335.7 410.8 L339.4 405.8 L336.4 401.1 L330.3 402.3 L328.7 398.2 L334 395 L333.1 389.5 L327 388.2 L327.1 383.9 L333.3 382.9 L334.5 377.5 L329.4 374 L331.1 370 L337.2 371.5 L340.4 366.9 L337 361.7 L340.2 358.7 L345.2 362.4 L349.9 359.4 L348.7 353.3 L352.8 351.7 L356 357 Z" fill="#999" clip-path="url(#cg2)"/>
<circle cx="359" cy="383" r="22" fill="#fff" clip-path="url(#cg1)"/>
<path d="M359 361 A22 22 0 0 1 381 383 L390 385 A31 31 0 0 0 362 356 Z" fill="#c4c4c4" clip-path="url(#cg1)"/>
<path d="M331 398.5 Q372 385.5 440 386.8" fill="none" stroke="#b8b8b8" stroke-width="2.2"/>
<path d="M331 402 Q372 389 440 388.6" fill="none" stroke="#c4c4c4" stroke-width="1.6"/>
<path d="M331 405.5 Q372 392.5 440 390.3" fill="none" stroke="#b0b0b0" stroke-width="2.0"/>
<path d="M331 409 Q372 396 440 392" fill="none" stroke="#c8c8c8" stroke-width="1.4"/>
<text x="446" y="394.3" font-family="Liberation Serif, serif" font-size="14" textLength="31.5" lengthAdjust="spacingAndGlyphs" fill="#9c9c9c">ООО</text>
<text x="366" y="424.6" font-family="Liberation Serif, serif" font-size="35.5" font-weight="bold" textLength="179.5" lengthAdjust="spacingAndGlyphs" fill="#9a9a9a" stroke="#fff" stroke-width="1.6" paint-order="stroke" stroke-linejoin="round">АГРОСНАБ</text>
<rect x="564.5" y="410" width="16" height="25" fill="#fff"/>
<text x="563.8" y="433" font-size="29" fill="#858585">u</text>
<rect x="202.3" y="729.3" width="60" height="16.2" fill="#fff" stroke="#222" stroke-width="1.2"/>
<text x="232.3" y="742.6" font-size="13.5" text-anchor="middle" fill="#222" textLength="53" lengthAdjust="spacingAndGlyphs">HP15548</text>
</g></svg></body></html>
